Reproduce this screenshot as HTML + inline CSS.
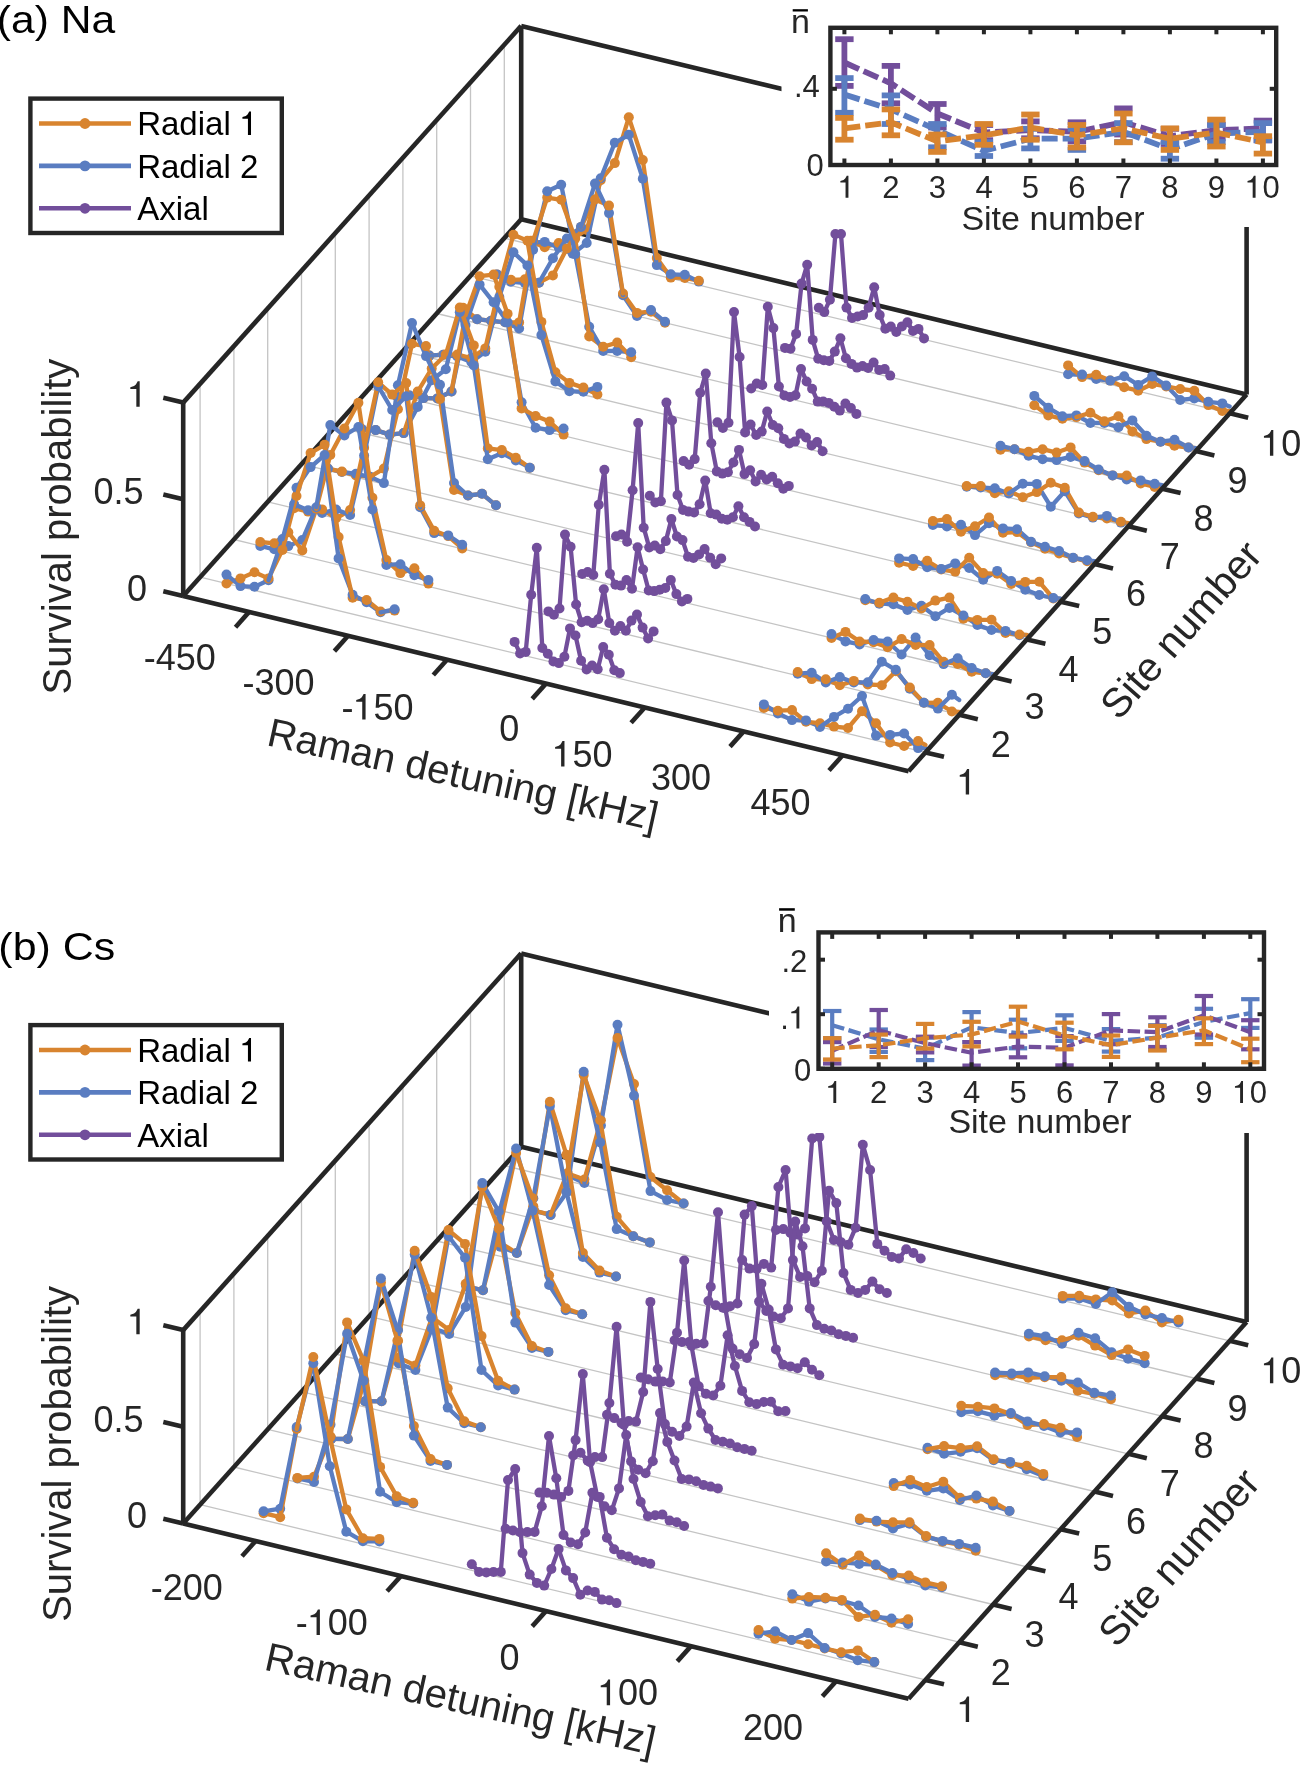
<!DOCTYPE html>
<html><head><meta charset="utf-8"><style>
html,body{margin:0;padding:0;background:#fff;}
svg{display:block;will-change:transform;}
text{font-family:"Liberation Sans",sans-serif;}
</style></head><body>
<svg width="1300" height="1768" viewBox="0 0 1300 1768">
<rect width="1300" height="1768" fill="#fff"/>
<line x1="200.1" y1="577.2" x2="925.5" y2="752.4" stroke="#c4c4c4" stroke-width="1.3" />
<line x1="200.1" y1="577.2" x2="200.1" y2="383.8" stroke="#c4c4c4" stroke-width="1.3" />
<line x1="233.9" y1="539.5" x2="959.3" y2="714.7" stroke="#c4c4c4" stroke-width="1.3" />
<line x1="233.9" y1="539.5" x2="233.9" y2="346.1" stroke="#c4c4c4" stroke-width="1.3" />
<line x1="267.7" y1="501.8" x2="993.1" y2="677" stroke="#c4c4c4" stroke-width="1.3" />
<line x1="267.7" y1="501.8" x2="267.7" y2="308.4" stroke="#c4c4c4" stroke-width="1.3" />
<line x1="301.5" y1="464.2" x2="1026.9" y2="639.4" stroke="#c4c4c4" stroke-width="1.3" />
<line x1="301.5" y1="464.2" x2="301.5" y2="270.8" stroke="#c4c4c4" stroke-width="1.3" />
<line x1="335.3" y1="426.5" x2="1060.7" y2="601.7" stroke="#c4c4c4" stroke-width="1.3" />
<line x1="335.3" y1="426.5" x2="335.3" y2="233.1" stroke="#c4c4c4" stroke-width="1.3" />
<line x1="369.1" y1="388.8" x2="1094.5" y2="564" stroke="#c4c4c4" stroke-width="1.3" />
<line x1="369.1" y1="388.8" x2="369.1" y2="195.4" stroke="#c4c4c4" stroke-width="1.3" />
<line x1="402.9" y1="351.1" x2="1128.3" y2="526.3" stroke="#c4c4c4" stroke-width="1.3" />
<line x1="402.9" y1="351.1" x2="402.9" y2="157.7" stroke="#c4c4c4" stroke-width="1.3" />
<line x1="436.7" y1="313.5" x2="1162.1" y2="488.7" stroke="#c4c4c4" stroke-width="1.3" />
<line x1="436.7" y1="313.5" x2="436.7" y2="120.1" stroke="#c4c4c4" stroke-width="1.3" />
<line x1="470.5" y1="275.8" x2="1195.9" y2="451" stroke="#c4c4c4" stroke-width="1.3" />
<line x1="470.5" y1="275.8" x2="470.5" y2="82.4" stroke="#c4c4c4" stroke-width="1.3" />
<line x1="504.3" y1="238.1" x2="1229.7" y2="413.3" stroke="#c4c4c4" stroke-width="1.3" />
<line x1="504.3" y1="238.1" x2="504.3" y2="44.7" stroke="#c4c4c4" stroke-width="1.3" />
<line x1="183.2" y1="402.6" x2="521.2" y2="25.9" stroke="#262626" stroke-width="4.6" />
<line x1="521.2" y1="25.9" x2="521.2" y2="219.3" stroke="#262626" stroke-width="4.6" />
<line x1="521.2" y1="25.9" x2="1246.6" y2="201.1" stroke="#262626" stroke-width="4.6" />
<line x1="1246.6" y1="201.1" x2="1246.6" y2="394.5" stroke="#262626" stroke-width="4.6" />
<line x1="183.2" y1="596" x2="521.2" y2="219.3" stroke="#262626" stroke-width="4.6" />
<line x1="521.2" y1="219.3" x2="1246.6" y2="394.5" stroke="#262626" stroke-width="4.6" />
<g stroke-width="4.3" stroke-linecap="round"><line x1="530.7" y1="240.8" x2="544.7" y2="247.3" stroke="#D8842F"/><circle cx="530.7" cy="242.6" r="5.0" fill="#5A7DC1"/><line x1="530.7" y1="242.6" x2="544.7" y2="241.9" stroke="#5A7DC1"/><circle cx="530.7" cy="240.8" r="5.0" fill="#D8842F"/><circle cx="544.7" cy="247.3" r="5.0" fill="#D8842F"/><line x1="544.7" y1="247.3" x2="558.7" y2="243" stroke="#D8842F"/><line x1="544.7" y1="241.9" x2="558.7" y2="247.4" stroke="#5A7DC1"/><circle cx="544.7" cy="241.9" r="5.0" fill="#5A7DC1"/><line x1="558.7" y1="247.4" x2="572.7" y2="253.7" stroke="#5A7DC1"/><circle cx="558.7" cy="247.4" r="5.0" fill="#5A7DC1"/><circle cx="558.7" cy="243" r="5.0" fill="#D8842F"/><circle cx="572.7" cy="253.7" r="5.0" fill="#5A7DC1"/><line x1="558.7" y1="243" x2="572.7" y2="238.6" stroke="#D8842F"/><line x1="572.7" y1="253.7" x2="586.7" y2="243" stroke="#5A7DC1"/><circle cx="572.7" cy="238.6" r="5.0" fill="#D8842F"/><line x1="572.7" y1="238.6" x2="586.7" y2="230" stroke="#D8842F"/><circle cx="586.7" cy="243" r="5.0" fill="#5A7DC1"/><circle cx="586.7" cy="230" r="5.0" fill="#D8842F"/><line x1="586.7" y1="243" x2="600.7" y2="178.3" stroke="#5A7DC1"/><line x1="656.8" y1="265.1" x2="670.8" y2="274.3" stroke="#5A7DC1"/><line x1="586.7" y1="230" x2="600.7" y2="180.2" stroke="#D8842F"/><line x1="656.8" y1="258.1" x2="670.8" y2="277.6" stroke="#D8842F"/><line x1="670.8" y1="277.6" x2="684.8" y2="277.9" stroke="#D8842F"/><circle cx="656.8" cy="265.1" r="5.0" fill="#5A7DC1"/><circle cx="670.8" cy="277.6" r="5.0" fill="#D8842F"/><line x1="670.8" y1="274.3" x2="684.8" y2="274.8" stroke="#5A7DC1"/><circle cx="670.8" cy="274.3" r="5.0" fill="#5A7DC1"/><circle cx="656.8" cy="258.1" r="5.0" fill="#D8842F"/><line x1="684.8" y1="277.9" x2="698.8" y2="280.7" stroke="#D8842F"/><line x1="684.8" y1="274.8" x2="698.8" y2="281.6" stroke="#5A7DC1"/><circle cx="684.8" cy="277.9" r="5.0" fill="#D8842F"/><line x1="496.9" y1="274.4" x2="510.9" y2="281.7" stroke="#5A7DC1"/><line x1="496.9" y1="274.4" x2="510.9" y2="279.8" stroke="#D8842F"/><circle cx="684.8" cy="274.8" r="5.0" fill="#5A7DC1"/><circle cx="496.9" cy="274.4" r="5.0" fill="#D8842F"/><circle cx="496.9" cy="274.4" r="5.0" fill="#5A7DC1"/><circle cx="698.8" cy="281.6" r="5.0" fill="#5A7DC1"/><line x1="510.9" y1="281.7" x2="524.9" y2="283.1" stroke="#5A7DC1"/><circle cx="698.8" cy="280.7" r="5.0" fill="#D8842F"/><circle cx="510.9" cy="281.7" r="5.0" fill="#5A7DC1"/><line x1="510.9" y1="279.8" x2="524.9" y2="279.3" stroke="#D8842F"/><circle cx="510.9" cy="279.8" r="5.0" fill="#D8842F"/><line x1="642.8" y1="178.8" x2="656.8" y2="265.1" stroke="#5A7DC1"/><line x1="524.9" y1="283.1" x2="538.9" y2="282.7" stroke="#5A7DC1"/><circle cx="524.9" cy="283.1" r="5.0" fill="#5A7DC1"/><circle cx="600.7" cy="180.2" r="5.0" fill="#D8842F"/><line x1="524.9" y1="279.3" x2="538.9" y2="282.7" stroke="#D8842F"/><circle cx="600.7" cy="178.3" r="5.0" fill="#5A7DC1"/><circle cx="524.9" cy="279.3" r="5.0" fill="#D8842F"/><line x1="600.7" y1="180.2" x2="614.8" y2="163.1" stroke="#D8842F"/><line x1="642.8" y1="160" x2="656.8" y2="258.1" stroke="#D8842F"/><circle cx="538.9" cy="282.7" r="5.0" fill="#D8842F"/><circle cx="538.9" cy="282.7" r="5.0" fill="#5A7DC1"/><line x1="538.9" y1="282.7" x2="552.9" y2="275.4" stroke="#D8842F"/><line x1="600.7" y1="178.3" x2="614.8" y2="142.8" stroke="#5A7DC1"/><line x1="538.9" y1="282.7" x2="552.9" y2="258.2" stroke="#5A7DC1"/><circle cx="614.8" cy="163.1" r="5.0" fill="#D8842F"/><circle cx="552.9" cy="275.4" r="5.0" fill="#D8842F"/><circle cx="642.8" cy="178.8" r="5.0" fill="#5A7DC1"/><line x1="552.9" y1="275.4" x2="566.9" y2="248.4" stroke="#D8842F"/><line x1="628.8" y1="134.8" x2="642.8" y2="178.8" stroke="#5A7DC1"/><circle cx="552.9" cy="258.2" r="5.0" fill="#5A7DC1"/><circle cx="614.8" cy="142.8" r="5.0" fill="#5A7DC1"/><line x1="614.8" y1="163.1" x2="628.8" y2="117.3" stroke="#D8842F"/><line x1="614.8" y1="142.8" x2="628.8" y2="134.8" stroke="#5A7DC1"/><circle cx="642.8" cy="160" r="5.0" fill="#D8842F"/><line x1="552.9" y1="258.2" x2="566.9" y2="238.6" stroke="#5A7DC1"/><line x1="818.8" y1="307.7" x2="824.3" y2="312.1" stroke="#724E9B"/><line x1="623" y1="295.2" x2="637" y2="316" stroke="#5A7DC1"/><line x1="628.8" y1="117.3" x2="642.8" y2="160" stroke="#D8842F"/><line x1="623" y1="293.5" x2="637" y2="312.9" stroke="#D8842F"/><circle cx="637" cy="316" r="5.0" fill="#5A7DC1"/><circle cx="818.8" cy="307.7" r="5.0" fill="#724E9B"/><circle cx="824.3" cy="312.1" r="5.0" fill="#724E9B"/><line x1="637" y1="316" x2="651" y2="310.1" stroke="#5A7DC1"/><circle cx="637" cy="312.9" r="5.0" fill="#D8842F"/><line x1="637" y1="312.9" x2="651" y2="311.7" stroke="#D8842F"/><circle cx="628.8" cy="134.8" r="5.0" fill="#5A7DC1"/><line x1="824.3" y1="312.1" x2="829.9" y2="299.7" stroke="#724E9B"/><circle cx="566.9" cy="248.4" r="5.0" fill="#D8842F"/><circle cx="623" cy="295.2" r="5.0" fill="#5A7DC1"/><circle cx="623" cy="293.5" r="5.0" fill="#D8842F"/><line x1="651" y1="311.7" x2="665" y2="322.8" stroke="#D8842F"/><line x1="651" y1="310.1" x2="665" y2="321.8" stroke="#5A7DC1"/><line x1="463.1" y1="314" x2="477.1" y2="319.2" stroke="#5A7DC1"/><circle cx="566.9" cy="238.6" r="5.0" fill="#5A7DC1"/><line x1="566.9" y1="248.4" x2="581" y2="227.1" stroke="#D8842F"/><circle cx="463.1" cy="314" r="5.0" fill="#5A7DC1"/><line x1="463.1" y1="307.7" x2="477.1" y2="319.2" stroke="#D8842F"/><line x1="846.5" y1="307.6" x2="852" y2="317.9" stroke="#724E9B"/><circle cx="651" cy="311.7" r="5.0" fill="#D8842F"/><line x1="852" y1="317.9" x2="857.6" y2="316.5" stroke="#724E9B"/><circle cx="665" cy="322.8" r="5.0" fill="#D8842F"/><circle cx="651" cy="310.1" r="5.0" fill="#5A7DC1"/><circle cx="829.9" cy="299.7" r="5.0" fill="#724E9B"/><circle cx="665" cy="321.8" r="5.0" fill="#5A7DC1"/><line x1="566.9" y1="238.6" x2="581" y2="226.9" stroke="#5A7DC1"/><circle cx="852" cy="317.9" r="5.0" fill="#724E9B"/><circle cx="628.8" cy="117.3" r="5.0" fill="#D8842F"/><line x1="477.1" y1="319.2" x2="491.1" y2="320.8" stroke="#D8842F"/><line x1="477.1" y1="319.2" x2="491.1" y2="320.8" stroke="#5A7DC1"/><circle cx="463.1" cy="307.7" r="5.0" fill="#D8842F"/><circle cx="477.1" cy="319.2" r="5.0" fill="#D8842F"/><circle cx="477.1" cy="319.2" r="5.0" fill="#5A7DC1"/><line x1="857.6" y1="316.5" x2="863.1" y2="315.1" stroke="#724E9B"/><circle cx="846.5" cy="307.6" r="5.0" fill="#724E9B"/><circle cx="857.6" cy="316.5" r="5.0" fill="#724E9B"/><line x1="863.1" y1="315.1" x2="868.6" y2="307.8" stroke="#724E9B"/><circle cx="863.1" cy="315.1" r="5.0" fill="#724E9B"/><line x1="491.1" y1="320.8" x2="505.1" y2="322.3" stroke="#D8842F"/><line x1="491.1" y1="320.8" x2="505.1" y2="322.3" stroke="#5A7DC1"/><circle cx="491.1" cy="320.8" r="5.0" fill="#D8842F"/><circle cx="491.1" cy="320.8" r="5.0" fill="#5A7DC1"/><line x1="609" y1="213.1" x2="623" y2="295.2" stroke="#5A7DC1"/><line x1="885.3" y1="328.8" x2="890.8" y2="326.6" stroke="#724E9B"/><line x1="879.7" y1="315.1" x2="885.3" y2="328.8" stroke="#724E9B"/><circle cx="581" cy="227.1" r="5.0" fill="#D8842F"/><circle cx="581" cy="226.9" r="5.0" fill="#5A7DC1"/><circle cx="885.3" cy="328.8" r="5.0" fill="#724E9B"/><line x1="890.8" y1="326.6" x2="896.3" y2="331.9" stroke="#724E9B"/><line x1="609" y1="205.6" x2="623" y2="293.5" stroke="#D8842F"/><line x1="505.1" y1="322.3" x2="519.1" y2="328.5" stroke="#5A7DC1"/><line x1="896.3" y1="331.9" x2="901.9" y2="326.4" stroke="#724E9B"/><line x1="505.1" y1="322.3" x2="519.1" y2="322.4" stroke="#D8842F"/><circle cx="505.1" cy="322.3" r="5.0" fill="#D8842F"/><circle cx="505.1" cy="322.3" r="5.0" fill="#5A7DC1"/><circle cx="868.6" cy="307.8" r="5.0" fill="#724E9B"/><circle cx="896.3" cy="331.9" r="5.0" fill="#724E9B"/><circle cx="890.8" cy="326.6" r="5.0" fill="#724E9B"/><line x1="829.9" y1="299.7" x2="835.4" y2="234" stroke="#724E9B"/><circle cx="879.7" cy="315.1" r="5.0" fill="#724E9B"/><circle cx="519.1" cy="328.5" r="5.0" fill="#5A7DC1"/><line x1="868.6" y1="307.8" x2="874.2" y2="287.2" stroke="#724E9B"/><line x1="581" y1="227.1" x2="595" y2="199.5" stroke="#D8842F"/><line x1="874.2" y1="287.2" x2="879.7" y2="315.1" stroke="#724E9B"/><line x1="841" y1="234" x2="846.5" y2="307.6" stroke="#724E9B"/><line x1="901.9" y1="326.4" x2="907.4" y2="322.3" stroke="#724E9B"/><circle cx="901.9" cy="326.4" r="5.0" fill="#724E9B"/><line x1="907.4" y1="322.3" x2="913" y2="331" stroke="#724E9B"/><circle cx="519.1" cy="322.4" r="5.0" fill="#D8842F"/><line x1="913" y1="331" x2="918.5" y2="328.9" stroke="#724E9B"/><line x1="581" y1="226.9" x2="595" y2="183.6" stroke="#5A7DC1"/><line x1="918.5" y1="328.9" x2="924" y2="338.4" stroke="#724E9B"/><circle cx="913" cy="331" r="5.0" fill="#724E9B"/><circle cx="924" cy="338.4" r="5.0" fill="#724E9B"/><circle cx="907.4" cy="322.3" r="5.0" fill="#724E9B"/><circle cx="918.5" cy="328.9" r="5.0" fill="#724E9B"/><circle cx="874.2" cy="287.2" r="5.0" fill="#724E9B"/><line x1="595" y1="199.5" x2="609" y2="205.6" stroke="#D8842F"/><circle cx="609" cy="213.1" r="5.0" fill="#5A7DC1"/><circle cx="595" cy="199.5" r="5.0" fill="#D8842F"/><line x1="595" y1="183.6" x2="609" y2="213.1" stroke="#5A7DC1"/><circle cx="609" cy="205.6" r="5.0" fill="#D8842F"/><line x1="835.4" y1="234" x2="841" y2="234" stroke="#724E9B"/><circle cx="835.4" cy="234" r="5.0" fill="#724E9B"/><line x1="519.1" y1="328.5" x2="533.1" y2="249.7" stroke="#5A7DC1"/><circle cx="595" cy="183.6" r="5.0" fill="#5A7DC1"/><circle cx="841" cy="234" r="5.0" fill="#724E9B"/><line x1="785" y1="347.9" x2="790.5" y2="348.7" stroke="#724E9B"/><line x1="519.1" y1="322.4" x2="533.1" y2="240.8" stroke="#D8842F"/><circle cx="785" cy="347.9" r="5.0" fill="#724E9B"/><line x1="589.2" y1="336.4" x2="603.2" y2="346.7" stroke="#D8842F"/><line x1="589.2" y1="326.7" x2="603.2" y2="351" stroke="#5A7DC1"/><line x1="603.2" y1="351" x2="617.2" y2="350.9" stroke="#5A7DC1"/><circle cx="603.2" cy="351" r="5.0" fill="#5A7DC1"/><circle cx="790.5" cy="348.7" r="5.0" fill="#724E9B"/><circle cx="589.2" cy="336.4" r="5.0" fill="#D8842F"/><line x1="790.5" y1="348.7" x2="796.1" y2="333.9" stroke="#724E9B"/><circle cx="603.2" cy="346.7" r="5.0" fill="#D8842F"/><line x1="603.2" y1="346.7" x2="617.2" y2="342.6" stroke="#D8842F"/><circle cx="429.3" cy="355.6" r="5.0" fill="#D8842F"/><circle cx="429.3" cy="355.6" r="5.0" fill="#5A7DC1"/><line x1="429.3" y1="355.6" x2="443.3" y2="354.7" stroke="#D8842F"/><line x1="429.3" y1="355.6" x2="443.3" y2="354.7" stroke="#5A7DC1"/><line x1="818.2" y1="358.8" x2="823.8" y2="360.2" stroke="#724E9B"/><line x1="617.2" y1="350.9" x2="631.2" y2="352.3" stroke="#5A7DC1"/><circle cx="589.2" cy="326.7" r="5.0" fill="#5A7DC1"/><circle cx="617.2" cy="350.9" r="5.0" fill="#5A7DC1"/><line x1="617.2" y1="342.6" x2="631.2" y2="357.2" stroke="#D8842F"/><line x1="823.8" y1="360.2" x2="829.3" y2="360.9" stroke="#724E9B"/><circle cx="818.2" cy="358.8" r="5.0" fill="#724E9B"/><line x1="812.7" y1="339.9" x2="818.2" y2="358.8" stroke="#724E9B"/><circle cx="823.8" cy="360.2" r="5.0" fill="#724E9B"/><circle cx="631.2" cy="357.2" r="5.0" fill="#D8842F"/><circle cx="796.1" cy="333.9" r="5.0" fill="#724E9B"/><circle cx="617.2" cy="342.6" r="5.0" fill="#D8842F"/><line x1="443.3" y1="354.7" x2="457.3" y2="356.5" stroke="#5A7DC1"/><circle cx="829.3" cy="360.9" r="5.0" fill="#724E9B"/><line x1="443.3" y1="354.7" x2="457.3" y2="354.6" stroke="#D8842F"/><circle cx="443.3" cy="354.7" r="5.0" fill="#D8842F"/><circle cx="443.3" cy="354.7" r="5.0" fill="#5A7DC1"/><line x1="829.3" y1="360.9" x2="834.8" y2="351.6" stroke="#724E9B"/><circle cx="631.2" cy="352.3" r="5.0" fill="#5A7DC1"/><circle cx="812.7" cy="339.9" r="5.0" fill="#724E9B"/><line x1="457.3" y1="356.5" x2="471.3" y2="361.9" stroke="#5A7DC1"/><line x1="845.9" y1="358.2" x2="851.5" y2="363.9" stroke="#724E9B"/><line x1="851.5" y1="363.9" x2="857" y2="367.6" stroke="#724E9B"/><line x1="457.3" y1="354.6" x2="471.3" y2="358" stroke="#D8842F"/><circle cx="457.3" cy="356.5" r="5.0" fill="#5A7DC1"/><line x1="575.2" y1="254.1" x2="589.2" y2="326.7" stroke="#5A7DC1"/><circle cx="457.3" cy="354.6" r="5.0" fill="#D8842F"/><circle cx="834.8" cy="351.6" r="5.0" fill="#724E9B"/><line x1="857" y1="367.6" x2="862.5" y2="366" stroke="#724E9B"/><line x1="575.2" y1="238.6" x2="589.2" y2="336.4" stroke="#D8842F"/><circle cx="533.1" cy="249.7" r="5.0" fill="#5A7DC1"/><line x1="834.8" y1="351.6" x2="840.4" y2="338.3" stroke="#724E9B"/><circle cx="851.5" cy="363.9" r="5.0" fill="#724E9B"/><circle cx="845.9" cy="358.2" r="5.0" fill="#724E9B"/><circle cx="857" cy="367.6" r="5.0" fill="#724E9B"/><line x1="796.1" y1="333.9" x2="801.6" y2="283.6" stroke="#724E9B"/><circle cx="471.3" cy="361.9" r="5.0" fill="#5A7DC1"/><line x1="840.4" y1="338.3" x2="845.9" y2="358.2" stroke="#724E9B"/><line x1="862.5" y1="366" x2="868.1" y2="368" stroke="#724E9B"/><circle cx="471.3" cy="358" r="5.0" fill="#D8842F"/><line x1="471.3" y1="361.9" x2="485.3" y2="351.7" stroke="#5A7DC1"/><circle cx="533.1" cy="240.8" r="5.0" fill="#D8842F"/><circle cx="862.5" cy="366" r="5.0" fill="#724E9B"/><line x1="868.1" y1="368" x2="873.6" y2="362.5" stroke="#724E9B"/><line x1="471.3" y1="358" x2="485.3" y2="348.4" stroke="#D8842F"/><circle cx="868.1" cy="368" r="5.0" fill="#724E9B"/><line x1="1068.1" y1="374.3" x2="1082.1" y2="374.6" stroke="#5A7DC1"/><line x1="873.6" y1="362.5" x2="879.2" y2="369.9" stroke="#724E9B"/><circle cx="1068.1" cy="374.3" r="5.0" fill="#5A7DC1"/><line x1="879.2" y1="369.9" x2="884.7" y2="369.1" stroke="#724E9B"/><circle cx="840.4" cy="338.3" r="5.0" fill="#724E9B"/><line x1="1068.1" y1="365.4" x2="1082.1" y2="377.1" stroke="#D8842F"/><line x1="884.7" y1="369.1" x2="890.2" y2="375.6" stroke="#724E9B"/><line x1="807.2" y1="264.7" x2="812.7" y2="339.9" stroke="#724E9B"/><circle cx="879.2" cy="369.9" r="5.0" fill="#724E9B"/><circle cx="873.6" cy="362.5" r="5.0" fill="#724E9B"/><circle cx="1068.1" cy="365.4" r="5.0" fill="#D8842F"/><circle cx="890.2" cy="375.6" r="5.0" fill="#724E9B"/><circle cx="1082.1" cy="377.1" r="5.0" fill="#D8842F"/><line x1="1082.1" y1="374.6" x2="1096.2" y2="379" stroke="#5A7DC1"/><circle cx="485.3" cy="351.7" r="5.0" fill="#5A7DC1"/><line x1="1082.1" y1="377.1" x2="1096.2" y2="374.7" stroke="#D8842F"/><circle cx="884.7" cy="369.1" r="5.0" fill="#724E9B"/><circle cx="1082.1" cy="374.6" r="5.0" fill="#5A7DC1"/><circle cx="485.3" cy="348.4" r="5.0" fill="#D8842F"/><line x1="533.1" y1="249.7" x2="547.2" y2="191.2" stroke="#5A7DC1"/><line x1="533.1" y1="240.8" x2="547.2" y2="197.6" stroke="#D8842F"/><circle cx="575.2" cy="254.1" r="5.0" fill="#5A7DC1"/><line x1="1096.2" y1="379" x2="1110.2" y2="380.6" stroke="#5A7DC1"/><circle cx="1096.2" cy="379" r="5.0" fill="#5A7DC1"/><line x1="1096.2" y1="374.7" x2="1110.2" y2="380.6" stroke="#D8842F"/><circle cx="801.6" cy="283.6" r="5.0" fill="#724E9B"/><circle cx="1096.2" cy="374.7" r="5.0" fill="#D8842F"/><line x1="801.6" y1="283.6" x2="807.2" y2="264.7" stroke="#724E9B"/><line x1="1110.2" y1="380.6" x2="1124.2" y2="387.3" stroke="#D8842F"/><circle cx="1110.2" cy="380.6" r="5.0" fill="#D8842F"/><circle cx="1110.2" cy="380.6" r="5.0" fill="#5A7DC1"/><line x1="1110.2" y1="380.6" x2="1124.2" y2="376.2" stroke="#5A7DC1"/><circle cx="575.2" cy="238.6" r="5.0" fill="#D8842F"/><line x1="1124.2" y1="387.3" x2="1138.2" y2="390.7" stroke="#D8842F"/><circle cx="1124.2" cy="387.3" r="5.0" fill="#D8842F"/><line x1="485.3" y1="351.7" x2="499.3" y2="297.1" stroke="#5A7DC1"/><line x1="555.4" y1="381.4" x2="569.4" y2="391.2" stroke="#5A7DC1"/><line x1="561.2" y1="184.8" x2="575.2" y2="254.1" stroke="#5A7DC1"/><line x1="751.2" y1="388.5" x2="756.7" y2="383.6" stroke="#724E9B"/><line x1="561.2" y1="199.8" x2="575.2" y2="238.6" stroke="#D8842F"/><circle cx="751.2" cy="388.5" r="5.0" fill="#724E9B"/><circle cx="555.4" cy="381.4" r="5.0" fill="#5A7DC1"/><line x1="1124.2" y1="376.2" x2="1138.2" y2="384.9" stroke="#5A7DC1"/><line x1="485.3" y1="348.4" x2="499.3" y2="286.8" stroke="#D8842F"/><circle cx="807.2" cy="264.7" r="5.0" fill="#724E9B"/><line x1="569.4" y1="391.2" x2="583.4" y2="391.8" stroke="#5A7DC1"/><circle cx="569.4" cy="391.2" r="5.0" fill="#5A7DC1"/><circle cx="1138.2" cy="390.7" r="5.0" fill="#D8842F"/><line x1="756.7" y1="383.6" x2="762.3" y2="385" stroke="#724E9B"/><line x1="555.4" y1="372.3" x2="569.4" y2="382.9" stroke="#D8842F"/><line x1="547.2" y1="197.6" x2="561.2" y2="199.8" stroke="#D8842F"/><circle cx="1124.2" cy="376.2" r="5.0" fill="#5A7DC1"/><line x1="1138.2" y1="390.7" x2="1152.2" y2="384" stroke="#D8842F"/><circle cx="547.2" cy="197.6" r="5.0" fill="#D8842F"/><circle cx="756.7" cy="383.6" r="5.0" fill="#724E9B"/><line x1="569.4" y1="382.9" x2="583.4" y2="387.6" stroke="#D8842F"/><circle cx="1138.2" cy="384.9" r="5.0" fill="#5A7DC1"/><circle cx="555.4" cy="372.3" r="5.0" fill="#D8842F"/><line x1="541.4" y1="335.1" x2="555.4" y2="381.4" stroke="#5A7DC1"/><circle cx="569.4" cy="382.9" r="5.0" fill="#D8842F"/><circle cx="762.3" cy="385" r="5.0" fill="#724E9B"/><circle cx="547.2" cy="191.2" r="5.0" fill="#5A7DC1"/><line x1="395.5" y1="395.2" x2="409.5" y2="395.5" stroke="#D8842F"/><line x1="395.5" y1="395.2" x2="409.5" y2="395.5" stroke="#5A7DC1"/><line x1="1138.2" y1="384.9" x2="1152.2" y2="376.4" stroke="#5A7DC1"/><circle cx="395.5" cy="395.2" r="5.0" fill="#D8842F"/><circle cx="395.5" cy="395.2" r="5.0" fill="#5A7DC1"/><circle cx="583.4" cy="391.8" r="5.0" fill="#5A7DC1"/><line x1="583.4" y1="387.6" x2="597.4" y2="394.5" stroke="#D8842F"/><line x1="547.2" y1="191.2" x2="561.2" y2="184.8" stroke="#5A7DC1"/><line x1="784.4" y1="395.5" x2="790" y2="396.9" stroke="#724E9B"/><circle cx="561.2" cy="199.8" r="5.0" fill="#D8842F"/><line x1="778.9" y1="386.5" x2="784.4" y2="395.5" stroke="#724E9B"/><line x1="583.4" y1="391.8" x2="597.4" y2="386.9" stroke="#5A7DC1"/><circle cx="583.4" cy="387.6" r="5.0" fill="#D8842F"/><line x1="1152.2" y1="384" x2="1166.2" y2="386.4" stroke="#D8842F"/><circle cx="784.4" cy="395.5" r="5.0" fill="#724E9B"/><line x1="541.4" y1="321.9" x2="555.4" y2="372.3" stroke="#D8842F"/><line x1="790" y1="396.9" x2="795.5" y2="395.3" stroke="#724E9B"/><circle cx="1152.2" cy="384" r="5.0" fill="#D8842F"/><line x1="409.5" y1="395.5" x2="423.5" y2="398.1" stroke="#D8842F"/><line x1="409.5" y1="395.5" x2="423.5" y2="398.1" stroke="#5A7DC1"/><circle cx="597.4" cy="394.5" r="5.0" fill="#D8842F"/><circle cx="790" cy="396.9" r="5.0" fill="#724E9B"/><line x1="1152.2" y1="376.4" x2="1166.2" y2="385.6" stroke="#5A7DC1"/><circle cx="778.9" cy="386.5" r="5.0" fill="#724E9B"/><circle cx="409.5" cy="395.5" r="5.0" fill="#D8842F"/><circle cx="409.5" cy="395.5" r="5.0" fill="#5A7DC1"/><line x1="1166.2" y1="385.6" x2="1180.2" y2="400" stroke="#5A7DC1"/><circle cx="1152.2" cy="376.4" r="5.0" fill="#5A7DC1"/><line x1="1166.2" y1="386.4" x2="1180.2" y2="389" stroke="#D8842F"/><circle cx="1180.2" cy="400" r="5.0" fill="#5A7DC1"/><circle cx="795.5" cy="395.3" r="5.0" fill="#724E9B"/><circle cx="561.2" cy="184.8" r="5.0" fill="#5A7DC1"/><line x1="1180.2" y1="400" x2="1194.3" y2="398.4" stroke="#5A7DC1"/><circle cx="597.4" cy="386.9" r="5.0" fill="#5A7DC1"/><circle cx="1166.2" cy="386.4" r="5.0" fill="#D8842F"/><circle cx="1166.2" cy="385.6" r="5.0" fill="#5A7DC1"/><circle cx="541.4" cy="335.1" r="5.0" fill="#5A7DC1"/><circle cx="499.3" cy="297.1" r="5.0" fill="#5A7DC1"/><line x1="423.5" y1="398.1" x2="437.5" y2="398.4" stroke="#D8842F"/><line x1="423.5" y1="398.1" x2="437.5" y2="398.4" stroke="#5A7DC1"/><circle cx="423.5" cy="398.1" r="5.0" fill="#D8842F"/><circle cx="423.5" cy="398.1" r="5.0" fill="#5A7DC1"/><line x1="795.5" y1="395.3" x2="801" y2="369" stroke="#724E9B"/><line x1="817.7" y1="401.6" x2="823.2" y2="401.6" stroke="#724E9B"/><line x1="1180.2" y1="389" x2="1194.3" y2="390.7" stroke="#D8842F"/><line x1="812.1" y1="388.7" x2="817.7" y2="401.6" stroke="#724E9B"/><circle cx="1180.2" cy="389" r="5.0" fill="#D8842F"/><line x1="1194.3" y1="398.4" x2="1208.3" y2="401.8" stroke="#5A7DC1"/><circle cx="499.3" cy="286.8" r="5.0" fill="#D8842F"/><circle cx="817.7" cy="401.6" r="5.0" fill="#724E9B"/><line x1="823.2" y1="401.6" x2="828.7" y2="402.9" stroke="#724E9B"/><line x1="773.4" y1="328.1" x2="778.9" y2="386.5" stroke="#724E9B"/><circle cx="1194.3" cy="398.4" r="5.0" fill="#5A7DC1"/><line x1="1194.3" y1="390.7" x2="1208.3" y2="405.1" stroke="#D8842F"/><line x1="762.3" y1="385" x2="767.8" y2="306.8" stroke="#724E9B"/><circle cx="541.4" cy="321.9" r="5.0" fill="#D8842F"/><line x1="806.6" y1="381.5" x2="812.1" y2="388.7" stroke="#724E9B"/><line x1="828.7" y1="402.9" x2="834.3" y2="406.8" stroke="#724E9B"/><circle cx="437.5" cy="398.4" r="5.0" fill="#D8842F"/><circle cx="437.5" cy="398.4" r="5.0" fill="#5A7DC1"/><line x1="1208.3" y1="405.1" x2="1222.3" y2="411" stroke="#D8842F"/><line x1="834.3" y1="406.8" x2="839.8" y2="410.6" stroke="#724E9B"/><circle cx="823.2" cy="401.6" r="5.0" fill="#724E9B"/><line x1="437.5" y1="398.4" x2="451.5" y2="391.5" stroke="#D8842F"/><line x1="437.5" y1="398.4" x2="451.5" y2="391.5" stroke="#5A7DC1"/><circle cx="1208.3" cy="405.1" r="5.0" fill="#D8842F"/><line x1="801" y1="369" x2="806.6" y2="381.5" stroke="#724E9B"/><circle cx="812.1" cy="388.7" r="5.0" fill="#724E9B"/><circle cx="1194.3" cy="390.7" r="5.0" fill="#D8842F"/><circle cx="828.7" cy="402.9" r="5.0" fill="#724E9B"/><line x1="1208.3" y1="401.8" x2="1222.3" y2="403.4" stroke="#5A7DC1"/><circle cx="834.3" cy="406.8" r="5.0" fill="#724E9B"/><circle cx="1208.3" cy="401.8" r="5.0" fill="#5A7DC1"/><line x1="1222.3" y1="411" x2="1229.7" y2="411" stroke="#D8842F"/><circle cx="806.6" cy="381.5" r="5.0" fill="#724E9B"/><line x1="839.8" y1="410.6" x2="845.4" y2="403.5" stroke="#724E9B"/><circle cx="839.8" cy="410.6" r="5.0" fill="#724E9B"/><line x1="527.4" y1="265.4" x2="541.4" y2="335.1" stroke="#5A7DC1"/><line x1="499.3" y1="297.1" x2="513.4" y2="252.3" stroke="#5A7DC1"/><circle cx="1222.3" cy="411" r="5.0" fill="#D8842F"/><line x1="1034.3" y1="405.2" x2="1048.3" y2="415.4" stroke="#D8842F"/><line x1="1222.3" y1="403.4" x2="1229.7" y2="406.4" stroke="#5A7DC1"/><line x1="850.9" y1="408.1" x2="856.4" y2="413.9" stroke="#724E9B"/><line x1="845.4" y1="403.5" x2="850.9" y2="408.1" stroke="#724E9B"/><circle cx="801" cy="369" r="5.0" fill="#724E9B"/><circle cx="1034.3" cy="405.2" r="5.0" fill="#D8842F"/><circle cx="1222.3" cy="403.4" r="5.0" fill="#5A7DC1"/><line x1="1048.3" y1="415.4" x2="1062.4" y2="418.8" stroke="#D8842F"/><circle cx="451.5" cy="391.5" r="5.0" fill="#D8842F"/><circle cx="451.5" cy="391.5" r="5.0" fill="#5A7DC1"/><circle cx="856.4" cy="413.9" r="5.0" fill="#724E9B"/><circle cx="1048.3" cy="415.4" r="5.0" fill="#D8842F"/><circle cx="845.4" cy="403.5" r="5.0" fill="#724E9B"/><circle cx="850.9" cy="408.1" r="5.0" fill="#724E9B"/><line x1="1034.3" y1="395.9" x2="1048.3" y2="407.8" stroke="#5A7DC1"/><line x1="499.3" y1="286.8" x2="513.4" y2="234.7" stroke="#D8842F"/><line x1="1048.3" y1="407.8" x2="1062.4" y2="416.2" stroke="#5A7DC1"/><line x1="527.4" y1="240.8" x2="541.4" y2="321.9" stroke="#D8842F"/><circle cx="1034.3" cy="395.9" r="5.0" fill="#5A7DC1"/><circle cx="1048.3" cy="407.8" r="5.0" fill="#5A7DC1"/><circle cx="1062.4" cy="418.8" r="5.0" fill="#D8842F"/><line x1="1062.4" y1="418.8" x2="1076.4" y2="417.1" stroke="#D8842F"/><circle cx="773.4" cy="328.1" r="5.0" fill="#724E9B"/><circle cx="1062.4" cy="416.2" r="5.0" fill="#5A7DC1"/><line x1="1062.4" y1="416.2" x2="1076.4" y2="415.4" stroke="#5A7DC1"/><line x1="767.8" y1="306.8" x2="773.4" y2="328.1" stroke="#724E9B"/><line x1="513.4" y1="252.3" x2="527.4" y2="265.4" stroke="#5A7DC1"/><line x1="1076.4" y1="415.4" x2="1090.4" y2="423" stroke="#5A7DC1"/><circle cx="527.4" cy="265.4" r="5.0" fill="#5A7DC1"/><circle cx="1076.4" cy="417.1" r="5.0" fill="#D8842F"/><circle cx="513.4" cy="252.3" r="5.0" fill="#5A7DC1"/><circle cx="1076.4" cy="415.4" r="5.0" fill="#5A7DC1"/><line x1="1076.4" y1="417.1" x2="1090.4" y2="412.8" stroke="#D8842F"/><circle cx="767.8" cy="306.8" r="5.0" fill="#724E9B"/><line x1="717.4" y1="422.3" x2="722.9" y2="427.9" stroke="#724E9B"/><line x1="1090.4" y1="423" x2="1104.4" y2="422.9" stroke="#5A7DC1"/><circle cx="1090.4" cy="423" r="5.0" fill="#5A7DC1"/><line x1="451.5" y1="391.5" x2="465.5" y2="325.1" stroke="#5A7DC1"/><line x1="722.9" y1="427.9" x2="728.5" y2="422.8" stroke="#724E9B"/><line x1="1090.4" y1="412.8" x2="1104.4" y2="421.2" stroke="#D8842F"/><circle cx="722.9" cy="427.9" r="5.0" fill="#724E9B"/><circle cx="717.4" cy="422.3" r="5.0" fill="#724E9B"/><line x1="451.5" y1="391.5" x2="465.5" y2="315.4" stroke="#D8842F"/><line x1="535.6" y1="427.7" x2="549.6" y2="430.1" stroke="#5A7DC1"/><line x1="513.4" y1="234.7" x2="527.4" y2="240.8" stroke="#D8842F"/><line x1="521.6" y1="402.2" x2="535.6" y2="427.7" stroke="#5A7DC1"/><circle cx="535.6" cy="427.7" r="5.0" fill="#5A7DC1"/><line x1="1104.4" y1="422.9" x2="1118.4" y2="427.3" stroke="#5A7DC1"/><circle cx="1090.4" cy="412.8" r="5.0" fill="#D8842F"/><line x1="521.6" y1="408.4" x2="535.6" y2="416.1" stroke="#D8842F"/><circle cx="513.4" cy="234.7" r="5.0" fill="#D8842F"/><circle cx="1104.4" cy="422.9" r="5.0" fill="#5A7DC1"/><circle cx="1104.4" cy="421.2" r="5.0" fill="#D8842F"/><circle cx="521.6" cy="408.4" r="5.0" fill="#D8842F"/><circle cx="728.5" cy="422.8" r="5.0" fill="#724E9B"/><line x1="1104.4" y1="421.2" x2="1118.4" y2="416.2" stroke="#D8842F"/><line x1="535.6" y1="416.1" x2="549.6" y2="421.6" stroke="#D8842F"/><circle cx="527.4" cy="240.8" r="5.0" fill="#D8842F"/><circle cx="549.6" cy="430.1" r="5.0" fill="#5A7DC1"/><line x1="549.6" y1="430.1" x2="563.6" y2="428.5" stroke="#5A7DC1"/><circle cx="535.6" cy="416.1" r="5.0" fill="#D8842F"/><line x1="549.6" y1="421.6" x2="563.6" y2="434.6" stroke="#D8842F"/><line x1="361.7" y1="429" x2="375.7" y2="430.1" stroke="#D8842F"/><line x1="361.7" y1="429" x2="375.7" y2="430.1" stroke="#5A7DC1"/><circle cx="1118.4" cy="427.3" r="5.0" fill="#5A7DC1"/><line x1="745.1" y1="432.4" x2="750.6" y2="424.5" stroke="#724E9B"/><circle cx="521.6" cy="402.2" r="5.0" fill="#5A7DC1"/><circle cx="361.7" cy="429" r="5.0" fill="#D8842F"/><circle cx="361.7" cy="429" r="5.0" fill="#5A7DC1"/><circle cx="745.1" cy="432.4" r="5.0" fill="#724E9B"/><line x1="1118.4" y1="416.2" x2="1132.4" y2="431.4" stroke="#D8842F"/><line x1="1118.4" y1="427.3" x2="1132.4" y2="420.4" stroke="#5A7DC1"/><line x1="750.6" y1="424.5" x2="756.2" y2="434.9" stroke="#724E9B"/><line x1="1132.4" y1="431.4" x2="1146.4" y2="439.1" stroke="#D8842F"/><line x1="756.2" y1="434.9" x2="761.7" y2="431.6" stroke="#724E9B"/><circle cx="563.6" cy="434.6" r="5.0" fill="#D8842F"/><circle cx="549.6" cy="421.6" r="5.0" fill="#D8842F"/><circle cx="756.2" cy="434.9" r="5.0" fill="#724E9B"/><circle cx="1132.4" cy="431.4" r="5.0" fill="#D8842F"/><line x1="375.7" y1="430.1" x2="389.7" y2="434.6" stroke="#D8842F"/><line x1="375.7" y1="430.1" x2="389.7" y2="434.6" stroke="#5A7DC1"/><circle cx="1118.4" cy="416.2" r="5.0" fill="#D8842F"/><line x1="1132.4" y1="420.4" x2="1146.4" y2="435.8" stroke="#5A7DC1"/><line x1="1146.4" y1="439.1" x2="1160.5" y2="441.7" stroke="#D8842F"/><circle cx="563.6" cy="428.5" r="5.0" fill="#5A7DC1"/><circle cx="375.7" cy="430.1" r="5.0" fill="#D8842F"/><circle cx="375.7" cy="430.1" r="5.0" fill="#5A7DC1"/><circle cx="750.6" cy="424.5" r="5.0" fill="#724E9B"/><circle cx="1146.4" cy="439.1" r="5.0" fill="#D8842F"/><line x1="1146.4" y1="435.8" x2="1160.5" y2="441.7" stroke="#5A7DC1"/><circle cx="761.7" cy="431.6" r="5.0" fill="#724E9B"/><circle cx="1146.4" cy="435.8" r="5.0" fill="#5A7DC1"/><circle cx="1132.4" cy="420.4" r="5.0" fill="#5A7DC1"/><circle cx="389.7" cy="434.6" r="5.0" fill="#D8842F"/><circle cx="389.7" cy="434.6" r="5.0" fill="#5A7DC1"/><line x1="389.7" y1="434.6" x2="403.7" y2="433.1" stroke="#D8842F"/><line x1="389.7" y1="434.6" x2="403.7" y2="433.1" stroke="#5A7DC1"/><line x1="1160.5" y1="441.7" x2="1174.5" y2="445.8" stroke="#D8842F"/><line x1="761.7" y1="431.6" x2="767.2" y2="411.5" stroke="#724E9B"/><line x1="783.9" y1="438.9" x2="789.4" y2="443.5" stroke="#724E9B"/><circle cx="1160.5" cy="441.7" r="5.0" fill="#D8842F"/><circle cx="1160.5" cy="441.7" r="5.0" fill="#5A7DC1"/><line x1="1160.5" y1="441.7" x2="1174.5" y2="439.8" stroke="#5A7DC1"/><line x1="778.3" y1="428.3" x2="783.9" y2="438.9" stroke="#724E9B"/><line x1="789.4" y1="443.5" x2="794.9" y2="441.6" stroke="#724E9B"/><line x1="772.8" y1="425" x2="778.3" y2="428.3" stroke="#724E9B"/><circle cx="465.5" cy="325.1" r="5.0" fill="#5A7DC1"/><line x1="507.6" y1="322.3" x2="521.6" y2="402.2" stroke="#5A7DC1"/><line x1="507.6" y1="313.8" x2="521.6" y2="408.4" stroke="#D8842F"/><circle cx="783.9" cy="438.9" r="5.0" fill="#724E9B"/><line x1="739.6" y1="357" x2="745.1" y2="432.4" stroke="#724E9B"/><circle cx="789.4" cy="443.5" r="5.0" fill="#724E9B"/><line x1="767.2" y1="411.5" x2="772.8" y2="425" stroke="#724E9B"/><line x1="1174.5" y1="445.8" x2="1188.5" y2="447.5" stroke="#D8842F"/><circle cx="1174.5" cy="445.8" r="5.0" fill="#D8842F"/><circle cx="772.8" cy="425" r="5.0" fill="#724E9B"/><line x1="1174.5" y1="439.8" x2="1188.5" y2="447.5" stroke="#5A7DC1"/><circle cx="403.7" cy="433.1" r="5.0" fill="#D8842F"/><circle cx="403.7" cy="433.1" r="5.0" fill="#5A7DC1"/><circle cx="778.3" cy="428.3" r="5.0" fill="#724E9B"/><line x1="794.9" y1="441.6" x2="800.5" y2="433.6" stroke="#724E9B"/><circle cx="794.9" cy="441.6" r="5.0" fill="#724E9B"/><circle cx="465.5" cy="315.4" r="5.0" fill="#D8842F"/><circle cx="1174.5" cy="439.8" r="5.0" fill="#5A7DC1"/><line x1="1188.5" y1="447.5" x2="1195.9" y2="448.1" stroke="#D8842F"/><line x1="1188.5" y1="447.5" x2="1195.9" y2="448.1" stroke="#5A7DC1"/><circle cx="767.2" cy="411.5" r="5.0" fill="#724E9B"/><line x1="806" y1="437.5" x2="811.6" y2="445.4" stroke="#724E9B"/><line x1="1000.5" y1="449.7" x2="1014.5" y2="449.2" stroke="#D8842F"/><circle cx="1000.5" cy="449.7" r="5.0" fill="#D8842F"/><circle cx="1188.5" cy="447.5" r="5.0" fill="#D8842F"/><circle cx="1188.5" cy="447.5" r="5.0" fill="#5A7DC1"/><line x1="800.5" y1="433.6" x2="806" y2="437.5" stroke="#724E9B"/><line x1="1000.5" y1="445.8" x2="1014.5" y2="449.2" stroke="#5A7DC1"/><line x1="811.6" y1="445.4" x2="817.1" y2="442.1" stroke="#724E9B"/><circle cx="1000.5" cy="445.8" r="5.0" fill="#5A7DC1"/><line x1="728.5" y1="422.8" x2="734" y2="312" stroke="#724E9B"/><line x1="403.7" y1="433.1" x2="417.7" y2="406.9" stroke="#5A7DC1"/><line x1="817.1" y1="442.1" x2="822.6" y2="451.2" stroke="#724E9B"/><circle cx="811.6" cy="445.4" r="5.0" fill="#724E9B"/><line x1="465.5" y1="325.1" x2="479.6" y2="284.6" stroke="#5A7DC1"/><circle cx="800.5" cy="433.6" r="5.0" fill="#724E9B"/><circle cx="806" cy="437.5" r="5.0" fill="#724E9B"/><circle cx="822.6" cy="451.2" r="5.0" fill="#724E9B"/><line x1="1014.5" y1="449.2" x2="1028.6" y2="455.8" stroke="#5A7DC1"/><line x1="1014.5" y1="449.2" x2="1028.6" y2="451.8" stroke="#D8842F"/><line x1="403.7" y1="433.1" x2="417.7" y2="391.5" stroke="#D8842F"/><circle cx="1014.5" cy="449.2" r="5.0" fill="#D8842F"/><circle cx="1014.5" cy="449.2" r="5.0" fill="#5A7DC1"/><circle cx="817.1" cy="442.1" r="5.0" fill="#724E9B"/><line x1="465.5" y1="315.4" x2="479.6" y2="276.2" stroke="#D8842F"/><line x1="1028.6" y1="455.8" x2="1042.6" y2="459.2" stroke="#5A7DC1"/><circle cx="1028.6" cy="455.8" r="5.0" fill="#5A7DC1"/><line x1="493.6" y1="302.3" x2="507.6" y2="322.3" stroke="#5A7DC1"/><circle cx="1028.6" cy="451.8" r="5.0" fill="#D8842F"/><line x1="1028.6" y1="451.8" x2="1042.6" y2="449.2" stroke="#D8842F"/><circle cx="507.6" cy="322.3" r="5.0" fill="#5A7DC1"/><line x1="1042.6" y1="459.2" x2="1056.6" y2="460.1" stroke="#5A7DC1"/><circle cx="1042.6" cy="459.2" r="5.0" fill="#5A7DC1"/><circle cx="739.6" cy="357" r="5.0" fill="#724E9B"/><line x1="479.6" y1="284.6" x2="493.6" y2="302.3" stroke="#5A7DC1"/><circle cx="417.7" cy="406.9" r="5.0" fill="#5A7DC1"/><circle cx="493.6" cy="302.3" r="5.0" fill="#5A7DC1"/><circle cx="507.6" cy="313.8" r="5.0" fill="#D8842F"/><line x1="1042.6" y1="449.2" x2="1056.6" y2="452.6" stroke="#D8842F"/><circle cx="479.6" cy="284.6" r="5.0" fill="#5A7DC1"/><circle cx="1042.6" cy="449.2" r="5.0" fill="#D8842F"/><line x1="683.6" y1="461.1" x2="689.1" y2="464.8" stroke="#724E9B"/><circle cx="1056.6" cy="460.1" r="5.0" fill="#5A7DC1"/><line x1="493.6" y1="274.6" x2="507.6" y2="313.8" stroke="#D8842F"/><circle cx="487.8" cy="459.3" r="5.0" fill="#5A7DC1"/><line x1="1056.6" y1="460.1" x2="1070.6" y2="456.9" stroke="#5A7DC1"/><line x1="734" y1="312" x2="739.6" y2="357" stroke="#724E9B"/><line x1="417.7" y1="406.9" x2="431.7" y2="380.2" stroke="#5A7DC1"/><line x1="487.8" y1="459.3" x2="501.8" y2="453.2" stroke="#5A7DC1"/><circle cx="683.6" cy="461.1" r="5.0" fill="#724E9B"/><line x1="689.1" y1="464.8" x2="694.7" y2="459.1" stroke="#724E9B"/><circle cx="689.1" cy="464.8" r="5.0" fill="#724E9B"/><circle cx="417.7" cy="391.5" r="5.0" fill="#D8842F"/><circle cx="479.6" cy="276.2" r="5.0" fill="#D8842F"/><line x1="479.6" y1="276.2" x2="493.6" y2="274.6" stroke="#D8842F"/><circle cx="1056.6" cy="452.6" r="5.0" fill="#D8842F"/><line x1="1056.6" y1="452.6" x2="1070.6" y2="447.4" stroke="#D8842F"/><line x1="487.8" y1="448.4" x2="501.8" y2="450.1" stroke="#D8842F"/><circle cx="487.8" cy="448.4" r="5.0" fill="#D8842F"/><line x1="1070.6" y1="456.9" x2="1084.6" y2="461.1" stroke="#5A7DC1"/><circle cx="1070.6" cy="456.9" r="5.0" fill="#5A7DC1"/><line x1="501.8" y1="453.2" x2="515.8" y2="460.4" stroke="#5A7DC1"/><line x1="327.9" y1="468.6" x2="341.9" y2="472" stroke="#5A7DC1"/><circle cx="694.7" cy="459.1" r="5.0" fill="#724E9B"/><line x1="327.9" y1="468.6" x2="341.9" y2="471.6" stroke="#D8842F"/><line x1="417.7" y1="391.5" x2="431.7" y2="368.6" stroke="#D8842F"/><line x1="1070.6" y1="447.4" x2="1084.6" y2="462.6" stroke="#D8842F"/><line x1="1084.6" y1="462.6" x2="1098.6" y2="470.3" stroke="#D8842F"/><circle cx="327.9" cy="468.6" r="5.0" fill="#D8842F"/><circle cx="327.9" cy="468.6" r="5.0" fill="#5A7DC1"/><line x1="501.8" y1="450.1" x2="515.8" y2="457.7" stroke="#D8842F"/><line x1="716.8" y1="471.4" x2="722.4" y2="473.6" stroke="#724E9B"/><line x1="1084.6" y1="461.1" x2="1098.6" y2="469.5" stroke="#5A7DC1"/><circle cx="501.8" cy="453.2" r="5.0" fill="#5A7DC1"/><circle cx="493.6" cy="274.6" r="5.0" fill="#D8842F"/><line x1="515.8" y1="460.4" x2="529.8" y2="467.7" stroke="#5A7DC1"/><circle cx="1084.6" cy="462.6" r="5.0" fill="#D8842F"/><line x1="515.8" y1="457.7" x2="529.8" y2="467.7" stroke="#D8842F"/><circle cx="501.8" cy="450.1" r="5.0" fill="#D8842F"/><line x1="722.4" y1="473.6" x2="727.9" y2="472.2" stroke="#724E9B"/><circle cx="1084.6" cy="461.1" r="5.0" fill="#5A7DC1"/><circle cx="716.8" cy="471.4" r="5.0" fill="#724E9B"/><line x1="1098.6" y1="470.3" x2="1112.6" y2="475.4" stroke="#D8842F"/><line x1="1098.6" y1="469.5" x2="1112.6" y2="475.4" stroke="#5A7DC1"/><circle cx="1070.6" cy="447.4" r="5.0" fill="#D8842F"/><circle cx="515.8" cy="460.4" r="5.0" fill="#5A7DC1"/><line x1="341.9" y1="471.6" x2="355.9" y2="475.4" stroke="#D8842F"/><line x1="341.9" y1="472" x2="355.9" y2="473.8" stroke="#5A7DC1"/><circle cx="722.4" cy="473.6" r="5.0" fill="#724E9B"/><circle cx="1098.6" cy="470.3" r="5.0" fill="#D8842F"/><circle cx="341.9" cy="472" r="5.0" fill="#5A7DC1"/><circle cx="515.8" cy="457.7" r="5.0" fill="#D8842F"/><circle cx="341.9" cy="471.6" r="5.0" fill="#D8842F"/><circle cx="1098.6" cy="469.5" r="5.0" fill="#5A7DC1"/><circle cx="734" cy="312" r="5.0" fill="#724E9B"/><line x1="711.3" y1="443.2" x2="716.8" y2="471.4" stroke="#724E9B"/><circle cx="431.7" cy="380.2" r="5.0" fill="#5A7DC1"/><circle cx="529.8" cy="467.7" r="5.0" fill="#D8842F"/><circle cx="529.8" cy="467.7" r="5.0" fill="#5A7DC1"/><line x1="1112.6" y1="475.4" x2="1126.7" y2="479.5" stroke="#5A7DC1"/><circle cx="727.9" cy="472.2" r="5.0" fill="#724E9B"/><line x1="727.9" y1="472.2" x2="733.4" y2="462.5" stroke="#724E9B"/><line x1="1112.6" y1="475.4" x2="1126.7" y2="475.5" stroke="#D8842F"/><circle cx="1112.6" cy="475.4" r="5.0" fill="#D8842F"/><circle cx="1112.6" cy="475.4" r="5.0" fill="#5A7DC1"/><line x1="431.7" y1="380.2" x2="445.8" y2="369.2" stroke="#5A7DC1"/><line x1="473.8" y1="365.4" x2="487.8" y2="459.3" stroke="#5A7DC1"/><line x1="355.9" y1="475.4" x2="369.9" y2="476.8" stroke="#D8842F"/><line x1="355.9" y1="473.8" x2="369.9" y2="476.8" stroke="#5A7DC1"/><circle cx="355.9" cy="475.4" r="5.0" fill="#D8842F"/><circle cx="355.9" cy="473.8" r="5.0" fill="#5A7DC1"/><circle cx="431.7" cy="368.6" r="5.0" fill="#D8842F"/><line x1="1126.7" y1="479.5" x2="1140.7" y2="480.4" stroke="#5A7DC1"/><line x1="1126.7" y1="475.5" x2="1140.7" y2="483.5" stroke="#D8842F"/><circle cx="1126.7" cy="479.5" r="5.0" fill="#5A7DC1"/><line x1="744.5" y1="474.1" x2="750.1" y2="470.2" stroke="#724E9B"/><line x1="369.9" y1="476.8" x2="383.9" y2="483.1" stroke="#5A7DC1"/><line x1="750.1" y1="470.2" x2="755.6" y2="481.4" stroke="#724E9B"/><line x1="694.7" y1="459.1" x2="700.2" y2="392.8" stroke="#724E9B"/><circle cx="744.5" cy="474.1" r="5.0" fill="#724E9B"/><circle cx="1126.7" cy="475.5" r="5.0" fill="#D8842F"/><circle cx="711.3" cy="443.2" r="5.0" fill="#724E9B"/><circle cx="733.4" cy="462.5" r="5.0" fill="#724E9B"/><circle cx="369.9" cy="476.8" r="5.0" fill="#D8842F"/><circle cx="369.9" cy="476.8" r="5.0" fill="#5A7DC1"/><line x1="755.6" y1="481.4" x2="761.1" y2="474.8" stroke="#724E9B"/><line x1="431.7" y1="368.6" x2="445.8" y2="354.5" stroke="#D8842F"/><circle cx="755.6" cy="481.4" r="5.0" fill="#724E9B"/><line x1="739" y1="449.9" x2="744.5" y2="474.1" stroke="#724E9B"/><line x1="1140.7" y1="483.5" x2="1154.7" y2="486.9" stroke="#D8842F"/><line x1="733.4" y1="462.5" x2="739" y2="449.9" stroke="#724E9B"/><line x1="473.8" y1="345.4" x2="487.8" y2="448.4" stroke="#D8842F"/><line x1="369.9" y1="476.8" x2="383.9" y2="468.6" stroke="#D8842F"/><circle cx="1140.7" cy="483.5" r="5.0" fill="#D8842F"/><line x1="1140.7" y1="480.4" x2="1154.7" y2="483.8" stroke="#5A7DC1"/><circle cx="445.8" cy="369.2" r="5.0" fill="#5A7DC1"/><line x1="761.1" y1="474.8" x2="766.7" y2="479.4" stroke="#724E9B"/><circle cx="383.9" cy="483.1" r="5.0" fill="#5A7DC1"/><circle cx="1140.7" cy="480.4" r="5.0" fill="#5A7DC1"/><circle cx="750.1" cy="470.2" r="5.0" fill="#724E9B"/><line x1="1154.7" y1="486.9" x2="1162.1" y2="486.6" stroke="#D8842F"/><line x1="766.7" y1="479.4" x2="772.2" y2="476.7" stroke="#724E9B"/><line x1="1154.7" y1="483.8" x2="1162.1" y2="485.2" stroke="#5A7DC1"/><line x1="777.8" y1="483.3" x2="783.3" y2="488.7" stroke="#724E9B"/><circle cx="761.1" cy="474.8" r="5.0" fill="#724E9B"/><circle cx="766.7" cy="479.4" r="5.0" fill="#724E9B"/><circle cx="1154.7" cy="486.9" r="5.0" fill="#D8842F"/><line x1="772.2" y1="476.7" x2="777.8" y2="483.3" stroke="#724E9B"/><line x1="966.7" y1="486.7" x2="980.7" y2="487.4" stroke="#5A7DC1"/><circle cx="966.7" cy="486.7" r="5.0" fill="#5A7DC1"/><line x1="966.7" y1="486" x2="980.7" y2="486.1" stroke="#D8842F"/><circle cx="966.7" cy="486" r="5.0" fill="#D8842F"/><line x1="783.3" y1="488.7" x2="788.8" y2="485.9" stroke="#724E9B"/><circle cx="1154.7" cy="483.8" r="5.0" fill="#5A7DC1"/><circle cx="739" cy="449.9" r="5.0" fill="#724E9B"/><circle cx="783.3" cy="488.7" r="5.0" fill="#724E9B"/><circle cx="777.8" cy="483.3" r="5.0" fill="#724E9B"/><circle cx="445.8" cy="354.5" r="5.0" fill="#D8842F"/><circle cx="772.2" cy="476.7" r="5.0" fill="#724E9B"/><circle cx="383.9" cy="468.6" r="5.0" fill="#D8842F"/><line x1="980.7" y1="486.1" x2="994.8" y2="493.3" stroke="#D8842F"/><line x1="705.8" y1="373.6" x2="711.3" y2="443.2" stroke="#724E9B"/><line x1="980.7" y1="487.4" x2="994.8" y2="488.3" stroke="#5A7DC1"/><circle cx="788.8" cy="485.9" r="5.0" fill="#724E9B"/><circle cx="980.7" cy="487.4" r="5.0" fill="#5A7DC1"/><circle cx="980.7" cy="486.1" r="5.0" fill="#D8842F"/><circle cx="994.8" cy="493.3" r="5.0" fill="#D8842F"/><line x1="445.8" y1="369.2" x2="459.8" y2="312.3" stroke="#5A7DC1"/><line x1="994.8" y1="493.3" x2="1008.8" y2="491.3" stroke="#D8842F"/><circle cx="473.8" cy="365.4" r="5.0" fill="#5A7DC1"/><line x1="994.8" y1="488.3" x2="1008.8" y2="493.4" stroke="#5A7DC1"/><circle cx="994.8" cy="488.3" r="5.0" fill="#5A7DC1"/><circle cx="700.2" cy="392.8" r="5.0" fill="#724E9B"/><line x1="445.8" y1="354.5" x2="459.8" y2="307.6" stroke="#D8842F"/><line x1="1008.8" y1="491.3" x2="1022.8" y2="497.2" stroke="#D8842F"/><line x1="700.2" y1="392.8" x2="705.8" y2="373.6" stroke="#724E9B"/><circle cx="1008.8" cy="493.4" r="5.0" fill="#5A7DC1"/><circle cx="1008.8" cy="491.3" r="5.0" fill="#D8842F"/><line x1="459.8" y1="312.3" x2="473.8" y2="365.4" stroke="#5A7DC1"/><line x1="383.9" y1="468.6" x2="397.9" y2="409.3" stroke="#D8842F"/><line x1="1008.8" y1="493.4" x2="1022.8" y2="483.8" stroke="#5A7DC1"/><circle cx="473.8" cy="345.4" r="5.0" fill="#D8842F"/><line x1="649.8" y1="495.7" x2="655.3" y2="502.4" stroke="#724E9B"/><circle cx="1022.8" cy="497.2" r="5.0" fill="#D8842F"/><line x1="383.9" y1="483.1" x2="397.9" y2="385.3" stroke="#5A7DC1"/><line x1="655.3" y1="502.4" x2="660.9" y2="501.2" stroke="#724E9B"/><line x1="1022.8" y1="497.2" x2="1036.8" y2="492.1" stroke="#D8842F"/><line x1="454" y1="490" x2="468" y2="495.5" stroke="#D8842F"/><circle cx="655.3" cy="502.4" r="5.0" fill="#724E9B"/><line x1="459.8" y1="307.6" x2="473.8" y2="345.4" stroke="#D8842F"/><circle cx="649.8" cy="495.7" r="5.0" fill="#724E9B"/><circle cx="454" cy="490" r="5.0" fill="#D8842F"/><line x1="454" y1="483" x2="468" y2="495.5" stroke="#5A7DC1"/><circle cx="705.8" cy="373.6" r="5.0" fill="#724E9B"/><circle cx="660.9" cy="501.2" r="5.0" fill="#724E9B"/><line x1="1022.8" y1="483.8" x2="1036.8" y2="483.9" stroke="#5A7DC1"/><circle cx="1022.8" cy="483.8" r="5.0" fill="#5A7DC1"/><line x1="1036.8" y1="483.9" x2="1050.8" y2="506.7" stroke="#5A7DC1"/><line x1="294.1" y1="508.2" x2="308.1" y2="511.6" stroke="#D8842F"/><circle cx="454" cy="483" r="5.0" fill="#5A7DC1"/><circle cx="468" cy="495.5" r="5.0" fill="#D8842F"/><circle cx="468" cy="495.5" r="5.0" fill="#5A7DC1"/><line x1="468" y1="495.5" x2="482" y2="493.8" stroke="#D8842F"/><line x1="468" y1="495.5" x2="482" y2="493.8" stroke="#5A7DC1"/><circle cx="1050.8" cy="506.7" r="5.0" fill="#5A7DC1"/><circle cx="294.1" cy="508.2" r="5.0" fill="#D8842F"/><line x1="294.1" y1="504.3" x2="308.1" y2="510.2" stroke="#5A7DC1"/><circle cx="1036.8" cy="492.1" r="5.0" fill="#D8842F"/><line x1="683" y1="509.9" x2="688.6" y2="511.6" stroke="#724E9B"/><circle cx="294.1" cy="504.3" r="5.0" fill="#5A7DC1"/><circle cx="459.8" cy="312.3" r="5.0" fill="#5A7DC1"/><line x1="677.5" y1="495" x2="683" y2="509.9" stroke="#724E9B"/><line x1="688.6" y1="511.6" x2="694.1" y2="512.4" stroke="#724E9B"/><line x1="1036.8" y1="492.1" x2="1050.8" y2="482.7" stroke="#D8842F"/><line x1="482" y1="493.8" x2="496" y2="505.3" stroke="#D8842F"/><line x1="482" y1="493.8" x2="496" y2="505.3" stroke="#5A7DC1"/><circle cx="683" cy="509.9" r="5.0" fill="#724E9B"/><line x1="1050.8" y1="506.7" x2="1064.8" y2="491.3" stroke="#5A7DC1"/><circle cx="459.8" cy="307.6" r="5.0" fill="#D8842F"/><line x1="308.1" y1="510.2" x2="322.1" y2="513" stroke="#5A7DC1"/><circle cx="308.1" cy="511.6" r="5.0" fill="#D8842F"/><circle cx="1036.8" cy="483.9" r="5.0" fill="#5A7DC1"/><line x1="308.1" y1="511.6" x2="322.1" y2="509.4" stroke="#D8842F"/><circle cx="688.6" cy="511.6" r="5.0" fill="#724E9B"/><circle cx="308.1" cy="510.2" r="5.0" fill="#5A7DC1"/><circle cx="482" cy="493.8" r="5.0" fill="#D8842F"/><circle cx="482" cy="493.8" r="5.0" fill="#5A7DC1"/><circle cx="496" cy="505.3" r="5.0" fill="#D8842F"/><circle cx="496" cy="505.3" r="5.0" fill="#5A7DC1"/><line x1="694.1" y1="512.4" x2="699.6" y2="504.2" stroke="#724E9B"/><circle cx="694.1" cy="512.4" r="5.0" fill="#724E9B"/><line x1="1078.8" y1="513.4" x2="1092.9" y2="517.6" stroke="#5A7DC1"/><line x1="1064.8" y1="491.3" x2="1078.8" y2="513.4" stroke="#5A7DC1"/><line x1="1078.8" y1="512.5" x2="1092.9" y2="516.8" stroke="#D8842F"/><circle cx="677.5" cy="495" r="5.0" fill="#724E9B"/><circle cx="1078.8" cy="513.4" r="5.0" fill="#5A7DC1"/><line x1="1064.8" y1="487.8" x2="1078.8" y2="512.5" stroke="#D8842F"/><circle cx="1078.8" cy="512.5" r="5.0" fill="#D8842F"/><line x1="322.1" y1="509.4" x2="336.1" y2="518.3" stroke="#D8842F"/><circle cx="322.1" cy="513" r="5.0" fill="#5A7DC1"/><line x1="1050.8" y1="482.7" x2="1064.8" y2="487.8" stroke="#D8842F"/><line x1="322.1" y1="513" x2="336.1" y2="509.5" stroke="#5A7DC1"/><circle cx="397.9" cy="409.3" r="5.0" fill="#D8842F"/><circle cx="1050.8" cy="482.7" r="5.0" fill="#D8842F"/><line x1="710.7" y1="513.3" x2="716.3" y2="514.6" stroke="#724E9B"/><circle cx="322.1" cy="509.4" r="5.0" fill="#D8842F"/><line x1="440" y1="399" x2="454" y2="490" stroke="#D8842F"/><line x1="716.3" y1="514.6" x2="721.8" y2="518.7" stroke="#724E9B"/><line x1="1092.9" y1="516.8" x2="1106.9" y2="518.5" stroke="#D8842F"/><circle cx="1092.9" cy="517.6" r="5.0" fill="#5A7DC1"/><line x1="1092.9" y1="517.6" x2="1106.9" y2="515.9" stroke="#5A7DC1"/><circle cx="1092.9" cy="516.8" r="5.0" fill="#D8842F"/><circle cx="699.6" cy="504.2" r="5.0" fill="#724E9B"/><circle cx="1064.8" cy="491.3" r="5.0" fill="#5A7DC1"/><circle cx="336.1" cy="518.3" r="5.0" fill="#D8842F"/><line x1="721.8" y1="518.7" x2="727.3" y2="519.8" stroke="#724E9B"/><circle cx="710.7" cy="513.3" r="5.0" fill="#724E9B"/><circle cx="1064.8" cy="487.8" r="5.0" fill="#D8842F"/><line x1="336.1" y1="518.3" x2="350.1" y2="510.1" stroke="#D8842F"/><circle cx="716.3" cy="514.6" r="5.0" fill="#724E9B"/><circle cx="721.8" cy="518.7" r="5.0" fill="#724E9B"/><line x1="336.1" y1="509.5" x2="350.1" y2="515" stroke="#5A7DC1"/><line x1="727.3" y1="519.8" x2="732.9" y2="517.3" stroke="#724E9B"/><line x1="440" y1="384.7" x2="454" y2="483" stroke="#5A7DC1"/><line x1="699.6" y1="504.2" x2="705.2" y2="480.6" stroke="#724E9B"/><line x1="705.2" y1="480.6" x2="710.7" y2="513.3" stroke="#724E9B"/><line x1="1106.9" y1="518.5" x2="1120.9" y2="521.8" stroke="#D8842F"/><circle cx="336.1" cy="509.5" r="5.0" fill="#5A7DC1"/><circle cx="727.3" cy="519.8" r="5.0" fill="#724E9B"/><line x1="1106.9" y1="515.9" x2="1120.9" y2="522.6" stroke="#5A7DC1"/><circle cx="1106.9" cy="518.5" r="5.0" fill="#D8842F"/><circle cx="1106.9" cy="515.9" r="5.0" fill="#5A7DC1"/><line x1="660.9" y1="501.2" x2="666.4" y2="402.6" stroke="#724E9B"/><line x1="1120.9" y1="522.6" x2="1128.3" y2="523.4" stroke="#5A7DC1"/><line x1="1120.9" y1="521.8" x2="1128.3" y2="523" stroke="#D8842F"/><circle cx="350.1" cy="515" r="5.0" fill="#5A7DC1"/><circle cx="732.9" cy="517.3" r="5.0" fill="#724E9B"/><line x1="932.9" y1="525" x2="946.9" y2="526.4" stroke="#5A7DC1"/><line x1="672" y1="420.4" x2="677.5" y2="495" stroke="#724E9B"/><line x1="732.9" y1="517.3" x2="738.4" y2="506.2" stroke="#724E9B"/><circle cx="932.9" cy="525" r="5.0" fill="#5A7DC1"/><circle cx="397.9" cy="385.3" r="5.0" fill="#5A7DC1"/><circle cx="1120.9" cy="522.6" r="5.0" fill="#5A7DC1"/><circle cx="1120.9" cy="521.8" r="5.0" fill="#D8842F"/><line x1="744" y1="517.3" x2="749.5" y2="521.9" stroke="#724E9B"/><line x1="749.5" y1="521.9" x2="755" y2="526.5" stroke="#724E9B"/><circle cx="350.1" cy="510.1" r="5.0" fill="#D8842F"/><circle cx="932.9" cy="521.1" r="5.0" fill="#D8842F"/><line x1="932.9" y1="521.1" x2="946.9" y2="519.1" stroke="#D8842F"/><line x1="738.4" y1="506.2" x2="744" y2="517.3" stroke="#724E9B"/><circle cx="744" cy="517.3" r="5.0" fill="#724E9B"/><line x1="397.9" y1="409.3" x2="412" y2="343.8" stroke="#D8842F"/><circle cx="749.5" cy="521.9" r="5.0" fill="#724E9B"/><circle cx="755" cy="526.5" r="5.0" fill="#724E9B"/><circle cx="705.2" cy="480.6" r="5.0" fill="#724E9B"/><circle cx="946.9" cy="526.4" r="5.0" fill="#5A7DC1"/><line x1="946.9" y1="526.4" x2="961" y2="524.8" stroke="#5A7DC1"/><line x1="946.9" y1="519.1" x2="961" y2="531.8" stroke="#D8842F"/><circle cx="738.4" cy="506.2" r="5.0" fill="#724E9B"/><circle cx="961" cy="531.8" r="5.0" fill="#D8842F"/><circle cx="946.9" cy="519.1" r="5.0" fill="#D8842F"/><line x1="961" y1="524.8" x2="975" y2="535.1" stroke="#5A7DC1"/><line x1="961" y1="531.8" x2="975" y2="526.3" stroke="#D8842F"/><circle cx="440" cy="399" r="5.0" fill="#D8842F"/><circle cx="961" cy="524.8" r="5.0" fill="#5A7DC1"/><line x1="350.1" y1="515" x2="364.1" y2="455.5" stroke="#5A7DC1"/><circle cx="975" cy="535.1" r="5.0" fill="#5A7DC1"/><line x1="397.9" y1="385.3" x2="412" y2="323" stroke="#5A7DC1"/><line x1="975" y1="535.1" x2="989" y2="523.3" stroke="#5A7DC1"/><line x1="350.1" y1="510.1" x2="364.1" y2="447.8" stroke="#D8842F"/><circle cx="975" cy="526.3" r="5.0" fill="#D8842F"/><line x1="426" y1="346.1" x2="440" y2="399" stroke="#D8842F"/><circle cx="440" cy="384.7" r="5.0" fill="#5A7DC1"/><line x1="426" y1="356.1" x2="440" y2="384.7" stroke="#5A7DC1"/><line x1="666.4" y1="402.6" x2="672" y2="420.4" stroke="#724E9B"/><line x1="975" y1="526.3" x2="989" y2="517.5" stroke="#D8842F"/><circle cx="672" cy="420.4" r="5.0" fill="#724E9B"/><line x1="616" y1="536.2" x2="621.5" y2="534.5" stroke="#724E9B"/><line x1="621.5" y1="534.5" x2="627.1" y2="541.8" stroke="#724E9B"/><circle cx="616" cy="536.2" r="5.0" fill="#724E9B"/><line x1="989" y1="523.3" x2="1003" y2="528.4" stroke="#5A7DC1"/><circle cx="627.1" cy="541.8" r="5.0" fill="#724E9B"/><line x1="989" y1="517.5" x2="1003" y2="532.8" stroke="#D8842F"/><circle cx="621.5" cy="534.5" r="5.0" fill="#724E9B"/><circle cx="989" cy="523.3" r="5.0" fill="#5A7DC1"/><line x1="412" y1="343.8" x2="426" y2="346.1" stroke="#D8842F"/><circle cx="666.4" cy="402.6" r="5.0" fill="#724E9B"/><line x1="434.2" y1="533.1" x2="448.2" y2="535.4" stroke="#5A7DC1"/><circle cx="412" cy="343.8" r="5.0" fill="#D8842F"/><circle cx="426" cy="356.1" r="5.0" fill="#5A7DC1"/><line x1="434.2" y1="530.8" x2="448.2" y2="536.1" stroke="#D8842F"/><line x1="260.3" y1="545.9" x2="274.3" y2="549.3" stroke="#5A7DC1"/><circle cx="1003" cy="532.8" r="5.0" fill="#D8842F"/><line x1="1003" y1="532.8" x2="1017" y2="532.1" stroke="#D8842F"/><circle cx="434.2" cy="533.1" r="5.0" fill="#5A7DC1"/><line x1="420.2" y1="507.3" x2="434.2" y2="533.1" stroke="#5A7DC1"/><circle cx="260.3" cy="545.9" r="5.0" fill="#5A7DC1"/><line x1="420.2" y1="505.4" x2="434.2" y2="530.8" stroke="#D8842F"/><circle cx="434.2" cy="530.8" r="5.0" fill="#D8842F"/><circle cx="989" cy="517.5" r="5.0" fill="#D8842F"/><line x1="412" y1="323" x2="426" y2="356.1" stroke="#5A7DC1"/><line x1="448.2" y1="536.1" x2="462.2" y2="548.4" stroke="#D8842F"/><line x1="1003" y1="528.4" x2="1017" y2="529.2" stroke="#5A7DC1"/><circle cx="1003" cy="528.4" r="5.0" fill="#5A7DC1"/><line x1="260.3" y1="542" x2="274.3" y2="543.3" stroke="#D8842F"/><line x1="649.2" y1="547.4" x2="654.8" y2="545.6" stroke="#724E9B"/><circle cx="260.3" cy="542" r="5.0" fill="#D8842F"/><line x1="448.2" y1="535.4" x2="462.2" y2="544.7" stroke="#5A7DC1"/><line x1="1017" y1="532.1" x2="1031" y2="542.3" stroke="#D8842F"/><circle cx="649.2" cy="547.4" r="5.0" fill="#724E9B"/><line x1="643.7" y1="527.7" x2="649.2" y2="547.4" stroke="#724E9B"/><line x1="654.8" y1="545.6" x2="660.3" y2="549.3" stroke="#724E9B"/><circle cx="426" cy="346.1" r="5.0" fill="#D8842F"/><line x1="1017" y1="529.2" x2="1031" y2="541.7" stroke="#5A7DC1"/><circle cx="448.2" cy="536.1" r="5.0" fill="#D8842F"/><circle cx="462.2" cy="548.4" r="5.0" fill="#D8842F"/><circle cx="448.2" cy="535.4" r="5.0" fill="#5A7DC1"/><circle cx="274.3" cy="549.3" r="5.0" fill="#5A7DC1"/><line x1="274.3" y1="549.3" x2="288.3" y2="546.1" stroke="#5A7DC1"/><line x1="1031" y1="542.3" x2="1045" y2="548.8" stroke="#D8842F"/><circle cx="1017" cy="532.1" r="5.0" fill="#D8842F"/><circle cx="420.2" cy="507.3" r="5.0" fill="#5A7DC1"/><line x1="1031" y1="541.7" x2="1045" y2="546.7" stroke="#5A7DC1"/><circle cx="462.2" cy="544.7" r="5.0" fill="#5A7DC1"/><circle cx="364.1" cy="455.5" r="5.0" fill="#5A7DC1"/><circle cx="654.8" cy="545.6" r="5.0" fill="#724E9B"/><circle cx="420.2" cy="505.4" r="5.0" fill="#D8842F"/><circle cx="1031" cy="542.3" r="5.0" fill="#D8842F"/><line x1="627.1" y1="541.8" x2="632.6" y2="490.2" stroke="#724E9B"/><circle cx="1017" cy="529.2" r="5.0" fill="#5A7DC1"/><circle cx="1031" cy="541.7" r="5.0" fill="#5A7DC1"/><line x1="660.3" y1="549.3" x2="665.8" y2="541.1" stroke="#724E9B"/><circle cx="660.3" cy="549.3" r="5.0" fill="#724E9B"/><circle cx="274.3" cy="543.3" r="5.0" fill="#D8842F"/><line x1="1045" y1="548.8" x2="1059.1" y2="553.5" stroke="#D8842F"/><circle cx="412" cy="323" r="5.0" fill="#5A7DC1"/><line x1="1045" y1="546.7" x2="1059.1" y2="551" stroke="#5A7DC1"/><circle cx="1045" cy="548.8" r="5.0" fill="#D8842F"/><line x1="274.3" y1="543.3" x2="288.3" y2="532.3" stroke="#D8842F"/><circle cx="364.1" cy="447.8" r="5.0" fill="#D8842F"/><circle cx="643.7" cy="527.7" r="5.0" fill="#724E9B"/><circle cx="1045" cy="546.7" r="5.0" fill="#5A7DC1"/><circle cx="288.3" cy="546.1" r="5.0" fill="#5A7DC1"/><line x1="1059.1" y1="553.5" x2="1073.1" y2="557.9" stroke="#D8842F"/><line x1="1059.1" y1="551" x2="1073.1" y2="557.7" stroke="#5A7DC1"/><line x1="288.3" y1="546.1" x2="302.3" y2="540" stroke="#5A7DC1"/><line x1="688" y1="556.7" x2="693.5" y2="557.9" stroke="#724E9B"/><circle cx="1059.1" cy="553.5" r="5.0" fill="#D8842F"/><circle cx="665.8" cy="541.1" r="5.0" fill="#724E9B"/><line x1="288.3" y1="532.3" x2="302.3" y2="550.4" stroke="#D8842F"/><circle cx="1059.1" cy="551" r="5.0" fill="#5A7DC1"/><line x1="682.5" y1="540.1" x2="688" y2="556.7" stroke="#724E9B"/><circle cx="688" cy="556.7" r="5.0" fill="#724E9B"/><circle cx="302.3" cy="550.4" r="5.0" fill="#D8842F"/><line x1="693.5" y1="557.9" x2="699.1" y2="554.4" stroke="#724E9B"/><line x1="1073.1" y1="557.9" x2="1087.1" y2="561.3" stroke="#D8842F"/><line x1="1073.1" y1="557.7" x2="1087.1" y2="560.3" stroke="#5A7DC1"/><line x1="665.8" y1="541.1" x2="671.4" y2="519.1" stroke="#724E9B"/><circle cx="693.5" cy="557.9" r="5.0" fill="#724E9B"/><circle cx="1073.1" cy="557.9" r="5.0" fill="#D8842F"/><circle cx="1073.1" cy="557.7" r="5.0" fill="#5A7DC1"/><line x1="676.9" y1="536.5" x2="682.5" y2="540.1" stroke="#724E9B"/><circle cx="288.3" cy="532.3" r="5.0" fill="#D8842F"/><line x1="1087.1" y1="561.3" x2="1094.5" y2="561.5" stroke="#D8842F"/><line x1="671.4" y1="519.1" x2="676.9" y2="536.5" stroke="#724E9B"/><circle cx="676.9" cy="536.5" r="5.0" fill="#724E9B"/><line x1="1087.1" y1="560.3" x2="1094.5" y2="561.1" stroke="#5A7DC1"/><line x1="699.1" y1="554.4" x2="704.6" y2="549.1" stroke="#724E9B"/><circle cx="302.3" cy="540" r="5.0" fill="#5A7DC1"/><line x1="899.1" y1="562.7" x2="913.1" y2="566" stroke="#D8842F"/><line x1="710.2" y1="557.8" x2="715.7" y2="564.2" stroke="#724E9B"/><circle cx="682.5" cy="540.1" r="5.0" fill="#724E9B"/><circle cx="699.1" cy="554.4" r="5.0" fill="#724E9B"/><circle cx="1087.1" cy="561.3" r="5.0" fill="#D8842F"/><circle cx="899.1" cy="562.7" r="5.0" fill="#D8842F"/><circle cx="1087.1" cy="560.3" r="5.0" fill="#5A7DC1"/><line x1="704.6" y1="549.1" x2="710.2" y2="557.8" stroke="#724E9B"/><line x1="364.1" y1="455.5" x2="378.2" y2="386.2" stroke="#5A7DC1"/><line x1="715.7" y1="564.2" x2="721.2" y2="558.4" stroke="#724E9B"/><circle cx="632.6" cy="490.2" r="5.0" fill="#724E9B"/><line x1="899.1" y1="558.4" x2="913.1" y2="559.1" stroke="#5A7DC1"/><circle cx="715.7" cy="564.2" r="5.0" fill="#724E9B"/><circle cx="899.1" cy="558.4" r="5.0" fill="#5A7DC1"/><circle cx="710.2" cy="557.8" r="5.0" fill="#724E9B"/><line x1="364.1" y1="447.8" x2="378.2" y2="382.3" stroke="#D8842F"/><line x1="302.3" y1="550.4" x2="316.3" y2="508.7" stroke="#D8842F"/><line x1="406.2" y1="396.2" x2="420.2" y2="507.3" stroke="#5A7DC1"/><circle cx="913.1" cy="566" r="5.0" fill="#D8842F"/><circle cx="704.6" cy="549.1" r="5.0" fill="#724E9B"/><circle cx="671.4" cy="519.1" r="5.0" fill="#724E9B"/><line x1="913.1" y1="566" x2="927.2" y2="560.7" stroke="#D8842F"/><line x1="913.1" y1="559.1" x2="927.2" y2="567.3" stroke="#5A7DC1"/><line x1="302.3" y1="540" x2="316.3" y2="507.2" stroke="#5A7DC1"/><circle cx="721.2" cy="558.4" r="5.0" fill="#724E9B"/><circle cx="913.1" cy="559.1" r="5.0" fill="#5A7DC1"/><line x1="406.2" y1="383.1" x2="420.2" y2="505.4" stroke="#D8842F"/><line x1="638.2" y1="423" x2="643.7" y2="527.7" stroke="#724E9B"/><line x1="927.2" y1="567.3" x2="941.2" y2="568.9" stroke="#5A7DC1"/><circle cx="927.2" cy="567.3" r="5.0" fill="#5A7DC1"/><line x1="927.2" y1="560.7" x2="941.2" y2="569.5" stroke="#D8842F"/><circle cx="927.2" cy="560.7" r="5.0" fill="#D8842F"/><line x1="941.2" y1="569.5" x2="955.2" y2="571.6" stroke="#D8842F"/><circle cx="941.2" cy="569.5" r="5.0" fill="#D8842F"/><circle cx="941.2" cy="568.9" r="5.0" fill="#5A7DC1"/><line x1="632.6" y1="490.2" x2="638.2" y2="423" stroke="#724E9B"/><line x1="941.2" y1="568.9" x2="955.2" y2="563.4" stroke="#5A7DC1"/><line x1="378.2" y1="386.2" x2="392.2" y2="410" stroke="#5A7DC1"/><circle cx="392.2" cy="410" r="5.0" fill="#5A7DC1"/><circle cx="955.2" cy="571.6" r="5.0" fill="#D8842F"/><line x1="582.2" y1="573.9" x2="587.7" y2="572" stroke="#724E9B"/><circle cx="316.3" cy="508.7" r="5.0" fill="#D8842F"/><circle cx="316.3" cy="507.2" r="5.0" fill="#5A7DC1"/><line x1="392.2" y1="410" x2="406.2" y2="396.2" stroke="#5A7DC1"/><circle cx="582.2" cy="573.9" r="5.0" fill="#724E9B"/><line x1="587.7" y1="572" x2="593.3" y2="575" stroke="#724E9B"/><line x1="386.4" y1="560.1" x2="400.4" y2="573.1" stroke="#D8842F"/><line x1="955.2" y1="563.4" x2="969.2" y2="568" stroke="#5A7DC1"/><line x1="378.2" y1="382.3" x2="392.2" y2="394.6" stroke="#D8842F"/><line x1="955.2" y1="571.6" x2="969.2" y2="557.7" stroke="#D8842F"/><circle cx="386.4" cy="564.9" r="5.0" fill="#5A7DC1"/><line x1="386.4" y1="564.9" x2="400.4" y2="564.2" stroke="#5A7DC1"/><circle cx="955.2" cy="563.4" r="5.0" fill="#5A7DC1"/><circle cx="378.2" cy="386.2" r="5.0" fill="#5A7DC1"/><line x1="969.2" y1="568" x2="983.2" y2="579.7" stroke="#5A7DC1"/><circle cx="587.7" cy="572" r="5.0" fill="#724E9B"/><circle cx="400.4" cy="573.1" r="5.0" fill="#D8842F"/><circle cx="386.4" cy="560.1" r="5.0" fill="#D8842F"/><circle cx="378.2" cy="382.3" r="5.0" fill="#D8842F"/><circle cx="593.3" cy="575" r="5.0" fill="#724E9B"/><circle cx="392.2" cy="394.6" r="5.0" fill="#D8842F"/><line x1="400.4" y1="573.1" x2="414.4" y2="568.2" stroke="#D8842F"/><line x1="400.4" y1="564.2" x2="414.4" y2="575.2" stroke="#5A7DC1"/><circle cx="226.5" cy="583.5" r="5.0" fill="#D8842F"/><circle cx="969.2" cy="568" r="5.0" fill="#5A7DC1"/><circle cx="983.2" cy="579.7" r="5.0" fill="#5A7DC1"/><line x1="226.5" y1="583.5" x2="240.5" y2="578.4" stroke="#D8842F"/><line x1="392.2" y1="394.6" x2="406.2" y2="383.1" stroke="#D8842F"/><line x1="615.4" y1="584.8" x2="621" y2="585.6" stroke="#724E9B"/><line x1="226.5" y1="574.6" x2="240.5" y2="586.1" stroke="#5A7DC1"/><line x1="969.2" y1="557.7" x2="983.2" y2="573.1" stroke="#D8842F"/><line x1="609.9" y1="573.8" x2="615.4" y2="584.8" stroke="#724E9B"/><line x1="414.4" y1="575.2" x2="428.4" y2="580.1" stroke="#5A7DC1"/><circle cx="400.4" cy="564.2" r="5.0" fill="#5A7DC1"/><line x1="414.4" y1="568.2" x2="428.4" y2="583.6" stroke="#D8842F"/><line x1="983.2" y1="579.7" x2="997.2" y2="570.9" stroke="#5A7DC1"/><line x1="372.4" y1="509.5" x2="386.4" y2="564.9" stroke="#5A7DC1"/><circle cx="414.4" cy="575.2" r="5.0" fill="#5A7DC1"/><circle cx="615.4" cy="584.8" r="5.0" fill="#724E9B"/><line x1="983.2" y1="573.1" x2="997.2" y2="573.8" stroke="#D8842F"/><circle cx="406.2" cy="396.2" r="5.0" fill="#5A7DC1"/><circle cx="983.2" cy="573.1" r="5.0" fill="#D8842F"/><circle cx="226.5" cy="574.6" r="5.0" fill="#5A7DC1"/><line x1="240.5" y1="586.1" x2="254.5" y2="586.8" stroke="#5A7DC1"/><circle cx="240.5" cy="586.1" r="5.0" fill="#5A7DC1"/><line x1="621" y1="585.6" x2="626.5" y2="580" stroke="#724E9B"/><circle cx="428.4" cy="583.6" r="5.0" fill="#D8842F"/><circle cx="969.2" cy="557.7" r="5.0" fill="#D8842F"/><circle cx="621" cy="585.6" r="5.0" fill="#724E9B"/><line x1="316.3" y1="508.7" x2="330.3" y2="454.9" stroke="#D8842F"/><circle cx="609.9" cy="573.8" r="5.0" fill="#724E9B"/><line x1="626.5" y1="580" x2="632" y2="588.7" stroke="#724E9B"/><circle cx="414.4" cy="568.2" r="5.0" fill="#D8842F"/><circle cx="428.4" cy="580.1" r="5.0" fill="#5A7DC1"/><line x1="997.2" y1="573.8" x2="1011.2" y2="583.9" stroke="#D8842F"/><line x1="372.4" y1="497.7" x2="386.4" y2="560.1" stroke="#D8842F"/><circle cx="240.5" cy="578.4" r="5.0" fill="#D8842F"/><line x1="997.2" y1="570.9" x2="1011.2" y2="581" stroke="#5A7DC1"/><circle cx="632" cy="588.7" r="5.0" fill="#724E9B"/><circle cx="638.2" cy="423" r="5.0" fill="#724E9B"/><circle cx="997.2" cy="573.8" r="5.0" fill="#D8842F"/><line x1="240.5" y1="578.4" x2="254.5" y2="572.3" stroke="#D8842F"/><line x1="1011.2" y1="581" x2="1025.3" y2="589.8" stroke="#5A7DC1"/><circle cx="406.2" cy="383.1" r="5.0" fill="#D8842F"/><circle cx="254.5" cy="586.8" r="5.0" fill="#5A7DC1"/><circle cx="626.5" cy="580" r="5.0" fill="#724E9B"/><circle cx="1011.2" cy="583.9" r="5.0" fill="#D8842F"/><circle cx="997.2" cy="570.9" r="5.0" fill="#5A7DC1"/><line x1="1011.2" y1="583.9" x2="1025.3" y2="581.9" stroke="#D8842F"/><line x1="254.5" y1="586.8" x2="268.5" y2="580.2" stroke="#5A7DC1"/><circle cx="1011.2" cy="581" r="5.0" fill="#5A7DC1"/><line x1="1025.3" y1="589.8" x2="1039.3" y2="595" stroke="#5A7DC1"/><line x1="648.7" y1="590.5" x2="654.2" y2="591.1" stroke="#724E9B"/><line x1="316.3" y1="507.2" x2="330.3" y2="425.1" stroke="#5A7DC1"/><line x1="593.3" y1="575" x2="598.8" y2="504.8" stroke="#724E9B"/><circle cx="1025.3" cy="589.8" r="5.0" fill="#5A7DC1"/><circle cx="648.7" cy="590.5" r="5.0" fill="#724E9B"/><line x1="654.2" y1="591.1" x2="659.7" y2="589.7" stroke="#724E9B"/><line x1="643.1" y1="569.5" x2="648.7" y2="590.5" stroke="#724E9B"/><line x1="254.5" y1="572.3" x2="268.5" y2="578.4" stroke="#D8842F"/><circle cx="372.4" cy="509.5" r="5.0" fill="#5A7DC1"/><line x1="632" y1="588.7" x2="637.6" y2="547.3" stroke="#724E9B"/><line x1="1039.3" y1="595" x2="1053.3" y2="598" stroke="#5A7DC1"/><circle cx="654.2" cy="591.1" r="5.0" fill="#724E9B"/><circle cx="254.5" cy="572.3" r="5.0" fill="#D8842F"/><circle cx="1039.3" cy="595" r="5.0" fill="#5A7DC1"/><line x1="1025.3" y1="581.9" x2="1039.3" y2="581.8" stroke="#D8842F"/><circle cx="1025.3" cy="581.9" r="5.0" fill="#D8842F"/><line x1="659.7" y1="589.7" x2="665.3" y2="588" stroke="#724E9B"/><circle cx="268.5" cy="580.2" r="5.0" fill="#5A7DC1"/><line x1="1039.3" y1="581.8" x2="1053.3" y2="598.5" stroke="#D8842F"/><circle cx="659.7" cy="589.7" r="5.0" fill="#724E9B"/><line x1="1053.3" y1="598.5" x2="1060.7" y2="599" stroke="#D8842F"/><line x1="1053.3" y1="598" x2="1060.7" y2="598.7" stroke="#5A7DC1"/><circle cx="268.5" cy="578.4" r="5.0" fill="#D8842F"/><line x1="865.3" y1="600.3" x2="879.3" y2="602.8" stroke="#D8842F"/><line x1="865.3" y1="599" x2="879.3" y2="603.7" stroke="#5A7DC1"/><line x1="676.4" y1="594.1" x2="681.9" y2="601.5" stroke="#724E9B"/><circle cx="865.3" cy="600.3" r="5.0" fill="#D8842F"/><circle cx="1053.3" cy="598.5" r="5.0" fill="#D8842F"/><circle cx="1053.3" cy="598" r="5.0" fill="#5A7DC1"/><circle cx="372.4" cy="497.7" r="5.0" fill="#D8842F"/><circle cx="865.3" cy="599" r="5.0" fill="#5A7DC1"/><line x1="681.9" y1="601.5" x2="687.4" y2="598.9" stroke="#724E9B"/><circle cx="643.1" cy="569.5" r="5.0" fill="#724E9B"/><line x1="665.3" y1="588" x2="670.8" y2="580" stroke="#724E9B"/><circle cx="665.3" cy="588" r="5.0" fill="#724E9B"/><line x1="637.6" y1="547.3" x2="643.1" y2="569.5" stroke="#724E9B"/><circle cx="1039.3" cy="581.8" r="5.0" fill="#D8842F"/><circle cx="681.9" cy="601.5" r="5.0" fill="#724E9B"/><line x1="670.8" y1="580" x2="676.4" y2="594.1" stroke="#724E9B"/><circle cx="330.3" cy="454.9" r="5.0" fill="#D8842F"/><circle cx="676.4" cy="594.1" r="5.0" fill="#724E9B"/><line x1="879.3" y1="603.7" x2="893.4" y2="604.2" stroke="#5A7DC1"/><circle cx="879.3" cy="603.7" r="5.0" fill="#5A7DC1"/><circle cx="879.3" cy="602.8" r="5.0" fill="#D8842F"/><line x1="604.4" y1="469.8" x2="609.9" y2="573.8" stroke="#724E9B"/><line x1="268.5" y1="578.4" x2="282.5" y2="549.9" stroke="#D8842F"/><circle cx="687.4" cy="598.9" r="5.0" fill="#724E9B"/><line x1="879.3" y1="602.8" x2="893.4" y2="597.6" stroke="#D8842F"/><line x1="268.5" y1="580.2" x2="282.5" y2="539.1" stroke="#5A7DC1"/><circle cx="670.8" cy="580" r="5.0" fill="#724E9B"/><line x1="358.4" y1="427" x2="372.4" y2="509.5" stroke="#5A7DC1"/><line x1="893.4" y1="604.2" x2="907.4" y2="609.9" stroke="#5A7DC1"/><line x1="330.3" y1="454.9" x2="344.4" y2="428.5" stroke="#D8842F"/><circle cx="637.6" cy="547.3" r="5.0" fill="#724E9B"/><circle cx="893.4" cy="604.2" r="5.0" fill="#5A7DC1"/><line x1="893.4" y1="597.6" x2="907.4" y2="601.8" stroke="#D8842F"/><circle cx="598.8" cy="504.8" r="5.0" fill="#724E9B"/><circle cx="893.4" cy="597.6" r="5.0" fill="#D8842F"/><circle cx="907.4" cy="609.9" r="5.0" fill="#5A7DC1"/><line x1="907.4" y1="609.9" x2="921.4" y2="605.7" stroke="#5A7DC1"/><line x1="330.3" y1="425.1" x2="344.4" y2="435.4" stroke="#5A7DC1"/><line x1="907.4" y1="601.8" x2="921.4" y2="608.5" stroke="#D8842F"/><line x1="358.4" y1="402.8" x2="372.4" y2="497.7" stroke="#D8842F"/><circle cx="330.3" cy="425.1" r="5.0" fill="#5A7DC1"/><circle cx="907.4" cy="601.8" r="5.0" fill="#D8842F"/><circle cx="344.4" cy="435.4" r="5.0" fill="#5A7DC1"/><circle cx="282.5" cy="549.9" r="5.0" fill="#D8842F"/><line x1="921.4" y1="605.7" x2="935.4" y2="616.3" stroke="#5A7DC1"/><line x1="548.4" y1="611.4" x2="553.9" y2="614.7" stroke="#724E9B"/><line x1="598.8" y1="504.8" x2="604.4" y2="469.8" stroke="#724E9B"/><line x1="344.4" y1="435.4" x2="358.4" y2="427" stroke="#5A7DC1"/><circle cx="921.4" cy="608.5" r="5.0" fill="#D8842F"/><circle cx="921.4" cy="605.7" r="5.0" fill="#5A7DC1"/><circle cx="344.4" cy="428.5" r="5.0" fill="#D8842F"/><circle cx="548.4" cy="611.4" r="5.0" fill="#724E9B"/><line x1="921.4" y1="608.5" x2="935.4" y2="600.6" stroke="#D8842F"/><line x1="553.9" y1="614.7" x2="559.5" y2="608.5" stroke="#724E9B"/><circle cx="553.9" cy="614.7" r="5.0" fill="#724E9B"/><circle cx="935.4" cy="616.3" r="5.0" fill="#5A7DC1"/><circle cx="282.5" cy="539.1" r="5.0" fill="#5A7DC1"/><line x1="935.4" y1="616.3" x2="949.4" y2="607.9" stroke="#5A7DC1"/><line x1="352.6" y1="597.8" x2="366.6" y2="600" stroke="#D8842F"/><line x1="352.6" y1="594.7" x2="366.6" y2="602.3" stroke="#5A7DC1"/><circle cx="352.6" cy="597.8" r="5.0" fill="#D8842F"/><line x1="366.6" y1="602.3" x2="380.6" y2="612.3" stroke="#5A7DC1"/><circle cx="352.6" cy="594.7" r="5.0" fill="#5A7DC1"/><line x1="344.4" y1="428.5" x2="358.4" y2="402.8" stroke="#D8842F"/><line x1="366.6" y1="600" x2="380.6" y2="611.5" stroke="#D8842F"/><circle cx="559.5" cy="608.5" r="5.0" fill="#724E9B"/><circle cx="358.4" cy="427" r="5.0" fill="#5A7DC1"/><line x1="581.6" y1="622.3" x2="587.2" y2="620.8" stroke="#724E9B"/><circle cx="366.6" cy="602.3" r="5.0" fill="#5A7DC1"/><line x1="338.6" y1="558.4" x2="352.6" y2="594.7" stroke="#5A7DC1"/><circle cx="935.4" cy="600.6" r="5.0" fill="#D8842F"/><circle cx="366.6" cy="600" r="5.0" fill="#D8842F"/><line x1="935.4" y1="600.6" x2="949.4" y2="597.6" stroke="#D8842F"/><line x1="949.4" y1="607.9" x2="963.4" y2="615.5" stroke="#5A7DC1"/><line x1="576.1" y1="604.5" x2="581.6" y2="622.3" stroke="#724E9B"/><circle cx="380.6" cy="612.3" r="5.0" fill="#5A7DC1"/><circle cx="581.6" cy="622.3" r="5.0" fill="#724E9B"/><circle cx="380.6" cy="611.5" r="5.0" fill="#D8842F"/><line x1="380.6" y1="611.5" x2="394.6" y2="610.6" stroke="#D8842F"/><line x1="282.5" y1="549.9" x2="296.5" y2="496" stroke="#D8842F"/><line x1="380.6" y1="612.3" x2="394.6" y2="609.3" stroke="#5A7DC1"/><line x1="587.2" y1="620.8" x2="592.7" y2="623.1" stroke="#724E9B"/><circle cx="604.4" cy="469.8" r="5.0" fill="#724E9B"/><line x1="949.4" y1="597.6" x2="963.4" y2="618.8" stroke="#D8842F"/><line x1="963.4" y1="615.5" x2="977.4" y2="624.9" stroke="#5A7DC1"/><circle cx="949.4" cy="607.9" r="5.0" fill="#5A7DC1"/><line x1="963.4" y1="618.8" x2="977.4" y2="619.9" stroke="#D8842F"/><circle cx="963.4" cy="618.8" r="5.0" fill="#D8842F"/><circle cx="587.2" cy="620.8" r="5.0" fill="#724E9B"/><line x1="338.6" y1="537.1" x2="352.6" y2="597.8" stroke="#D8842F"/><line x1="592.7" y1="623.1" x2="598.2" y2="619.2" stroke="#724E9B"/><circle cx="963.4" cy="615.5" r="5.0" fill="#5A7DC1"/><line x1="977.4" y1="624.9" x2="991.5" y2="630" stroke="#5A7DC1"/><circle cx="592.7" cy="623.1" r="5.0" fill="#724E9B"/><line x1="282.5" y1="539.1" x2="296.5" y2="487.7" stroke="#5A7DC1"/><circle cx="977.4" cy="624.9" r="5.0" fill="#5A7DC1"/><circle cx="576.1" cy="604.5" r="5.0" fill="#724E9B"/><circle cx="949.4" cy="597.6" r="5.0" fill="#D8842F"/><circle cx="394.6" cy="610.6" r="5.0" fill="#D8842F"/><circle cx="394.6" cy="609.3" r="5.0" fill="#5A7DC1"/><circle cx="338.6" cy="558.4" r="5.0" fill="#5A7DC1"/><line x1="609.3" y1="623" x2="614.9" y2="630.7" stroke="#724E9B"/><line x1="977.4" y1="619.9" x2="991.5" y2="619.8" stroke="#D8842F"/><circle cx="977.4" cy="619.9" r="5.0" fill="#D8842F"/><circle cx="598.2" cy="619.2" r="5.0" fill="#724E9B"/><line x1="991.5" y1="630" x2="1005.5" y2="630.9" stroke="#5A7DC1"/><circle cx="358.4" cy="402.8" r="5.0" fill="#D8842F"/><circle cx="991.5" cy="630" r="5.0" fill="#5A7DC1"/><line x1="614.9" y1="630.7" x2="620.4" y2="626.1" stroke="#724E9B"/><circle cx="614.9" cy="630.7" r="5.0" fill="#724E9B"/><line x1="991.5" y1="619.8" x2="1005.5" y2="633" stroke="#D8842F"/><circle cx="609.3" cy="623" r="5.0" fill="#724E9B"/><line x1="620.4" y1="626.1" x2="625.9" y2="630.7" stroke="#724E9B"/><line x1="559.5" y1="608.5" x2="565" y2="534.6" stroke="#724E9B"/><line x1="1005.5" y1="633" x2="1019.5" y2="634.5" stroke="#D8842F"/><line x1="1005.5" y1="630.9" x2="1019.5" y2="635.2" stroke="#5A7DC1"/><line x1="598.2" y1="619.2" x2="603.8" y2="589.2" stroke="#724E9B"/><circle cx="1005.5" cy="633" r="5.0" fill="#D8842F"/><circle cx="991.5" cy="619.8" r="5.0" fill="#D8842F"/><circle cx="620.4" cy="626.1" r="5.0" fill="#724E9B"/><circle cx="1005.5" cy="630.9" r="5.0" fill="#5A7DC1"/><circle cx="625.9" cy="630.7" r="5.0" fill="#724E9B"/><line x1="603.8" y1="589.2" x2="609.3" y2="623" stroke="#724E9B"/><line x1="625.9" y1="630.7" x2="631.5" y2="620.6" stroke="#724E9B"/><line x1="570.6" y1="546.7" x2="576.1" y2="604.5" stroke="#724E9B"/><line x1="1019.5" y1="635.2" x2="1026.9" y2="635.2" stroke="#5A7DC1"/><line x1="1019.5" y1="634.5" x2="1026.9" y2="634.8" stroke="#D8842F"/><circle cx="338.6" cy="537.1" r="5.0" fill="#D8842F"/><line x1="831.5" y1="634.1" x2="845.5" y2="641.4" stroke="#5A7DC1"/><circle cx="831.5" cy="638" r="5.0" fill="#D8842F"/><circle cx="1019.5" cy="635.2" r="5.0" fill="#5A7DC1"/><line x1="642.6" y1="627.6" x2="648.1" y2="638.4" stroke="#724E9B"/><circle cx="1019.5" cy="634.5" r="5.0" fill="#D8842F"/><circle cx="296.5" cy="496" r="5.0" fill="#D8842F"/><line x1="831.5" y1="638" x2="845.5" y2="631.9" stroke="#D8842F"/><circle cx="831.5" cy="634.1" r="5.0" fill="#5A7DC1"/><line x1="648.1" y1="638.4" x2="653.6" y2="631.4" stroke="#724E9B"/><circle cx="648.1" cy="638.4" r="5.0" fill="#724E9B"/><line x1="631.5" y1="620.6" x2="637" y2="614.6" stroke="#724E9B"/><line x1="845.5" y1="641.4" x2="859.6" y2="644.4" stroke="#5A7DC1"/><circle cx="631.5" cy="620.6" r="5.0" fill="#724E9B"/><line x1="637" y1="614.6" x2="642.6" y2="627.6" stroke="#724E9B"/><circle cx="845.5" cy="641.4" r="5.0" fill="#5A7DC1"/><circle cx="296.5" cy="487.7" r="5.0" fill="#5A7DC1"/><circle cx="642.6" cy="627.6" r="5.0" fill="#724E9B"/><line x1="845.5" y1="631.9" x2="859.6" y2="641.5" stroke="#D8842F"/><circle cx="603.8" cy="589.2" r="5.0" fill="#724E9B"/><line x1="324.6" y1="455" x2="338.6" y2="558.4" stroke="#5A7DC1"/><circle cx="653.6" cy="631.4" r="5.0" fill="#724E9B"/><circle cx="845.5" cy="631.9" r="5.0" fill="#D8842F"/><circle cx="859.6" cy="644.4" r="5.0" fill="#5A7DC1"/><circle cx="637" cy="614.6" r="5.0" fill="#724E9B"/><line x1="859.6" y1="644.4" x2="873.6" y2="640" stroke="#5A7DC1"/><line x1="296.5" y1="487.7" x2="310.6" y2="467.1" stroke="#5A7DC1"/><line x1="859.6" y1="641.5" x2="873.6" y2="642.2" stroke="#D8842F"/><circle cx="859.6" cy="641.5" r="5.0" fill="#D8842F"/><line x1="296.5" y1="496" x2="310.6" y2="453" stroke="#D8842F"/><line x1="565" y1="534.6" x2="570.6" y2="546.7" stroke="#724E9B"/><circle cx="570.6" cy="546.7" r="5.0" fill="#724E9B"/><line x1="873.6" y1="642.2" x2="887.6" y2="647.3" stroke="#D8842F"/><line x1="324.6" y1="444.8" x2="338.6" y2="537.1" stroke="#D8842F"/><circle cx="873.6" cy="642.2" r="5.0" fill="#D8842F"/><circle cx="565" cy="534.6" r="5.0" fill="#724E9B"/><line x1="873.6" y1="640" x2="887.6" y2="641.5" stroke="#5A7DC1"/><circle cx="873.6" cy="640" r="5.0" fill="#5A7DC1"/><line x1="887.6" y1="641.5" x2="901.6" y2="654.5" stroke="#5A7DC1"/><circle cx="887.6" cy="647.3" r="5.0" fill="#D8842F"/><line x1="520.1" y1="653.5" x2="525.7" y2="651.9" stroke="#724E9B"/><line x1="514.6" y1="641.9" x2="520.1" y2="653.5" stroke="#724E9B"/><circle cx="310.6" cy="467.1" r="5.0" fill="#5A7DC1"/><line x1="887.6" y1="647.3" x2="901.6" y2="639.1" stroke="#D8842F"/><circle cx="520.1" cy="653.5" r="5.0" fill="#724E9B"/><circle cx="901.6" cy="654.5" r="5.0" fill="#5A7DC1"/><circle cx="887.6" cy="641.5" r="5.0" fill="#5A7DC1"/><line x1="310.6" y1="467.1" x2="324.6" y2="455" stroke="#5A7DC1"/><circle cx="525.7" cy="651.9" r="5.0" fill="#724E9B"/><circle cx="514.6" cy="641.9" r="5.0" fill="#724E9B"/><line x1="901.6" y1="654.5" x2="915.6" y2="637.6" stroke="#5A7DC1"/><circle cx="310.6" cy="453" r="5.0" fill="#D8842F"/><line x1="901.6" y1="639.1" x2="915.6" y2="645" stroke="#D8842F"/><circle cx="901.6" cy="639.1" r="5.0" fill="#D8842F"/><line x1="310.6" y1="453" x2="324.6" y2="444.8" stroke="#D8842F"/><line x1="547.8" y1="653.8" x2="553.4" y2="661.5" stroke="#724E9B"/><line x1="553.4" y1="661.5" x2="558.9" y2="663.1" stroke="#724E9B"/><line x1="542.3" y1="648" x2="547.8" y2="653.8" stroke="#724E9B"/><line x1="929.6" y1="655.3" x2="943.6" y2="664.1" stroke="#5A7DC1"/><line x1="915.6" y1="637.6" x2="929.6" y2="655.3" stroke="#5A7DC1"/><circle cx="553.4" cy="661.5" r="5.0" fill="#724E9B"/><line x1="915.6" y1="645" x2="929.6" y2="645.1" stroke="#D8842F"/><circle cx="915.6" cy="645" r="5.0" fill="#D8842F"/><circle cx="324.6" cy="455" r="5.0" fill="#5A7DC1"/><line x1="558.9" y1="663.1" x2="564.4" y2="656.7" stroke="#724E9B"/><circle cx="547.8" cy="653.8" r="5.0" fill="#724E9B"/><circle cx="929.6" cy="655.3" r="5.0" fill="#5A7DC1"/><circle cx="558.9" cy="663.1" r="5.0" fill="#724E9B"/><circle cx="542.3" cy="648" r="5.0" fill="#724E9B"/><line x1="929.6" y1="645.1" x2="943.6" y2="661.8" stroke="#D8842F"/><circle cx="943.6" cy="664.1" r="5.0" fill="#5A7DC1"/><line x1="943.6" y1="661.8" x2="957.7" y2="664" stroke="#D8842F"/><circle cx="915.6" cy="637.6" r="5.0" fill="#5A7DC1"/><line x1="525.7" y1="651.9" x2="531.2" y2="594.7" stroke="#724E9B"/><circle cx="943.6" cy="661.8" r="5.0" fill="#D8842F"/><line x1="943.6" y1="664.1" x2="957.7" y2="658.2" stroke="#5A7DC1"/><circle cx="324.6" cy="444.8" r="5.0" fill="#D8842F"/><circle cx="929.6" cy="645.1" r="5.0" fill="#D8842F"/><circle cx="564.4" cy="656.7" r="5.0" fill="#724E9B"/><line x1="957.7" y1="664" x2="971.7" y2="671.8" stroke="#D8842F"/><line x1="581.1" y1="660.7" x2="586.6" y2="669.4" stroke="#724E9B"/><circle cx="957.7" cy="664" r="5.0" fill="#D8842F"/><line x1="586.6" y1="669.4" x2="592.1" y2="665.5" stroke="#724E9B"/><line x1="957.7" y1="658.2" x2="971.7" y2="668" stroke="#5A7DC1"/><circle cx="586.6" cy="669.4" r="5.0" fill="#724E9B"/><line x1="971.7" y1="671.8" x2="985.7" y2="673.3" stroke="#D8842F"/><circle cx="971.7" cy="671.8" r="5.0" fill="#D8842F"/><line x1="592.1" y1="665.5" x2="597.7" y2="669.3" stroke="#724E9B"/><line x1="564.4" y1="656.7" x2="570" y2="628.4" stroke="#724E9B"/><line x1="971.7" y1="668" x2="985.7" y2="673.3" stroke="#5A7DC1"/><circle cx="957.7" cy="658.2" r="5.0" fill="#5A7DC1"/><circle cx="581.1" cy="660.7" r="5.0" fill="#724E9B"/><circle cx="971.7" cy="668" r="5.0" fill="#5A7DC1"/><line x1="575.5" y1="635.5" x2="581.1" y2="660.7" stroke="#724E9B"/><circle cx="592.1" cy="665.5" r="5.0" fill="#724E9B"/><line x1="985.7" y1="673.3" x2="993.1" y2="674.1" stroke="#D8842F"/><line x1="985.7" y1="673.3" x2="993.1" y2="674.1" stroke="#5A7DC1"/><circle cx="597.7" cy="669.3" r="5.0" fill="#724E9B"/><line x1="797.7" y1="672" x2="811.7" y2="679.1" stroke="#D8842F"/><circle cx="985.7" cy="673.3" r="5.0" fill="#D8842F"/><circle cx="985.7" cy="673.3" r="5.0" fill="#5A7DC1"/><circle cx="797.7" cy="673.7" r="5.0" fill="#5A7DC1"/><line x1="797.7" y1="673.7" x2="811.7" y2="672.7" stroke="#5A7DC1"/><circle cx="797.7" cy="672" r="5.0" fill="#D8842F"/><line x1="597.7" y1="669.3" x2="603.2" y2="647.1" stroke="#724E9B"/><line x1="570" y1="628.4" x2="575.5" y2="635.5" stroke="#724E9B"/><line x1="614.3" y1="670.2" x2="619.8" y2="673.1" stroke="#724E9B"/><line x1="811.7" y1="679.1" x2="825.8" y2="679.3" stroke="#D8842F"/><circle cx="811.7" cy="679.1" r="5.0" fill="#D8842F"/><line x1="608.8" y1="654.8" x2="614.3" y2="670.2" stroke="#724E9B"/><line x1="536.8" y1="547.7" x2="542.3" y2="648" stroke="#724E9B"/><line x1="811.7" y1="672.7" x2="825.8" y2="682.4" stroke="#5A7DC1"/><circle cx="575.5" cy="635.5" r="5.0" fill="#724E9B"/><circle cx="614.3" cy="670.2" r="5.0" fill="#724E9B"/><circle cx="531.2" cy="594.7" r="5.0" fill="#724E9B"/><circle cx="570" cy="628.4" r="5.0" fill="#724E9B"/><circle cx="619.8" cy="673.1" r="5.0" fill="#724E9B"/><circle cx="811.7" cy="672.7" r="5.0" fill="#5A7DC1"/><line x1="603.2" y1="647.1" x2="608.8" y2="654.8" stroke="#724E9B"/><line x1="825.8" y1="679.3" x2="839.8" y2="685.2" stroke="#D8842F"/><circle cx="825.8" cy="682.4" r="5.0" fill="#5A7DC1"/><line x1="825.8" y1="682.4" x2="839.8" y2="677.1" stroke="#5A7DC1"/><circle cx="825.8" cy="679.3" r="5.0" fill="#D8842F"/><circle cx="608.8" cy="654.8" r="5.0" fill="#724E9B"/><circle cx="603.2" cy="647.1" r="5.0" fill="#724E9B"/><circle cx="839.8" cy="685.2" r="5.0" fill="#D8842F"/><line x1="839.8" y1="685.2" x2="853.8" y2="680.9" stroke="#D8842F"/><line x1="531.2" y1="594.7" x2="536.8" y2="547.7" stroke="#724E9B"/><line x1="839.8" y1="677.1" x2="853.8" y2="682.4" stroke="#5A7DC1"/><circle cx="839.8" cy="677.1" r="5.0" fill="#5A7DC1"/><line x1="853.8" y1="680.9" x2="867.8" y2="684.5" stroke="#D8842F"/><line x1="853.8" y1="682.4" x2="867.8" y2="682.3" stroke="#5A7DC1"/><circle cx="853.8" cy="682.4" r="5.0" fill="#5A7DC1"/><circle cx="853.8" cy="680.9" r="5.0" fill="#D8842F"/><line x1="867.8" y1="684.5" x2="881.8" y2="685.2" stroke="#D8842F"/><circle cx="867.8" cy="684.5" r="5.0" fill="#D8842F"/><circle cx="867.8" cy="682.3" r="5.0" fill="#5A7DC1"/><circle cx="536.8" cy="547.7" r="5.0" fill="#724E9B"/><circle cx="881.8" cy="685.2" r="5.0" fill="#D8842F"/><line x1="867.8" y1="682.3" x2="881.8" y2="661.7" stroke="#5A7DC1"/><line x1="881.8" y1="685.2" x2="895.8" y2="671.3" stroke="#D8842F"/><line x1="909.8" y1="688.8" x2="923.9" y2="702.8" stroke="#5A7DC1"/><line x1="909.8" y1="687.5" x2="923.9" y2="702.8" stroke="#D8842F"/><line x1="923.9" y1="702.8" x2="937.9" y2="708.6" stroke="#5A7DC1"/><line x1="895.8" y1="671.3" x2="909.8" y2="687.5" stroke="#D8842F"/><line x1="895.8" y1="669.8" x2="909.8" y2="688.8" stroke="#5A7DC1"/><line x1="881.8" y1="661.7" x2="895.8" y2="669.8" stroke="#5A7DC1"/><line x1="923.9" y1="702.8" x2="937.9" y2="702.7" stroke="#D8842F"/><circle cx="923.9" cy="702.8" r="5.0" fill="#D8842F"/><circle cx="923.9" cy="702.8" r="5.0" fill="#5A7DC1"/><circle cx="909.8" cy="688.8" r="5.0" fill="#5A7DC1"/><circle cx="909.8" cy="687.5" r="5.0" fill="#D8842F"/><circle cx="881.8" cy="661.7" r="5.0" fill="#5A7DC1"/><circle cx="895.8" cy="671.3" r="5.0" fill="#D8842F"/><circle cx="937.9" cy="708.6" r="5.0" fill="#5A7DC1"/><circle cx="895.8" cy="669.8" r="5.0" fill="#5A7DC1"/><line x1="937.9" y1="702.7" x2="951.9" y2="711.5" stroke="#D8842F"/><circle cx="937.9" cy="702.7" r="5.0" fill="#D8842F"/><line x1="951.9" y1="711.5" x2="959.3" y2="712" stroke="#D8842F"/><line x1="937.9" y1="708.6" x2="951.9" y2="694.7" stroke="#5A7DC1"/><circle cx="951.9" cy="711.5" r="5.0" fill="#D8842F"/><line x1="763.9" y1="707.9" x2="777.9" y2="710.7" stroke="#D8842F"/><line x1="763.9" y1="704.4" x2="777.9" y2="713.4" stroke="#5A7DC1"/><circle cx="763.9" cy="707.9" r="5.0" fill="#D8842F"/><line x1="777.9" y1="713.4" x2="792" y2="720.1" stroke="#5A7DC1"/><circle cx="763.9" cy="704.4" r="5.0" fill="#5A7DC1"/><line x1="951.9" y1="694.7" x2="959.3" y2="700" stroke="#5A7DC1"/><circle cx="777.9" cy="713.4" r="5.0" fill="#5A7DC1"/><circle cx="777.9" cy="710.7" r="5.0" fill="#D8842F"/><line x1="777.9" y1="710.7" x2="792" y2="710.1" stroke="#D8842F"/><circle cx="951.9" cy="694.7" r="5.0" fill="#5A7DC1"/><line x1="792" y1="720.1" x2="806" y2="720.4" stroke="#5A7DC1"/><circle cx="792" cy="720.1" r="5.0" fill="#5A7DC1"/><line x1="792" y1="710.1" x2="806" y2="721.8" stroke="#D8842F"/><line x1="806" y1="720.4" x2="820" y2="726.9" stroke="#5A7DC1"/><line x1="806" y1="721.8" x2="820" y2="723.2" stroke="#D8842F"/><circle cx="792" cy="710.1" r="5.0" fill="#D8842F"/><circle cx="806" cy="721.8" r="5.0" fill="#D8842F"/><circle cx="806" cy="720.4" r="5.0" fill="#5A7DC1"/><circle cx="820" cy="726.9" r="5.0" fill="#5A7DC1"/><line x1="820" y1="723.2" x2="834" y2="726.6" stroke="#D8842F"/><circle cx="820" cy="723.2" r="5.0" fill="#D8842F"/><line x1="820" y1="726.9" x2="834" y2="716.9" stroke="#5A7DC1"/><line x1="834" y1="726.6" x2="848" y2="728" stroke="#D8842F"/><circle cx="834" cy="726.6" r="5.0" fill="#D8842F"/><circle cx="834" cy="716.9" r="5.0" fill="#5A7DC1"/><circle cx="848" cy="728" r="5.0" fill="#D8842F"/><line x1="834" y1="716.9" x2="848" y2="708.7" stroke="#5A7DC1"/><line x1="848" y1="728" x2="862" y2="711.3" stroke="#D8842F"/><circle cx="876" cy="735.6" r="5.0" fill="#5A7DC1"/><line x1="876" y1="735.6" x2="890.1" y2="734.9" stroke="#5A7DC1"/><circle cx="848" cy="708.7" r="5.0" fill="#5A7DC1"/><line x1="876" y1="723.2" x2="890.1" y2="742.5" stroke="#D8842F"/><line x1="890.1" y1="742.5" x2="904.1" y2="746" stroke="#D8842F"/><line x1="862" y1="711.3" x2="876" y2="723.2" stroke="#D8842F"/><circle cx="890.1" cy="742.5" r="5.0" fill="#D8842F"/><line x1="862" y1="696" x2="876" y2="735.6" stroke="#5A7DC1"/><line x1="848" y1="708.7" x2="862" y2="696" stroke="#5A7DC1"/><circle cx="862" cy="711.3" r="5.0" fill="#D8842F"/><circle cx="876" cy="723.2" r="5.0" fill="#D8842F"/><circle cx="890.1" cy="734.9" r="5.0" fill="#5A7DC1"/><line x1="890.1" y1="734.9" x2="904.1" y2="733.5" stroke="#5A7DC1"/><circle cx="904.1" cy="746" r="5.0" fill="#D8842F"/><line x1="904.1" y1="746" x2="918.1" y2="741.1" stroke="#D8842F"/><line x1="904.1" y1="733.5" x2="918.1" y2="748.1" stroke="#5A7DC1"/><line x1="918.1" y1="748.1" x2="925.5" y2="748.1" stroke="#5A7DC1"/><circle cx="918.1" cy="748.1" r="5.0" fill="#5A7DC1"/><circle cx="862" cy="696" r="5.0" fill="#5A7DC1"/><line x1="918.1" y1="741.1" x2="925.5" y2="744.8" stroke="#D8842F"/><circle cx="904.1" cy="733.5" r="5.0" fill="#5A7DC1"/><circle cx="918.1" cy="741.1" r="5.0" fill="#D8842F"/></g>
<line x1="183.2" y1="596" x2="183.2" y2="402.6" stroke="#262626" stroke-width="4.6" />
<line x1="183.2" y1="596" x2="908.6" y2="771.2" stroke="#262626" stroke-width="4.6" />
<line x1="908.6" y1="771.2" x2="1246.6" y2="394.5" stroke="#262626" stroke-width="4.6" />
<line x1="183.2" y1="596" x2="163.3" y2="591.2" stroke="#262626" stroke-width="4.6" />
<line x1="183.2" y1="499.3" x2="163.3" y2="494.5" stroke="#262626" stroke-width="4.6" />
<line x1="183.2" y1="402.6" x2="163.3" y2="397.8" stroke="#262626" stroke-width="4.6" />
<line x1="249.1" y1="611.9" x2="235.5" y2="627.2" stroke="#262626" stroke-width="4.6" />
<line x1="348.1" y1="635.8" x2="334.4" y2="651.1" stroke="#262626" stroke-width="4.6" />
<line x1="447" y1="659.7" x2="433.3" y2="675" stroke="#262626" stroke-width="4.6" />
<line x1="545.9" y1="683.6" x2="532.2" y2="698.9" stroke="#262626" stroke-width="4.6" />
<line x1="644.8" y1="707.5" x2="631.1" y2="722.7" stroke="#262626" stroke-width="4.6" />
<line x1="743.7" y1="731.4" x2="730" y2="746.6" stroke="#262626" stroke-width="4.6" />
<line x1="842.7" y1="755.3" x2="829" y2="770.5" stroke="#262626" stroke-width="4.6" />
<line x1="925.5" y1="752.4" x2="944" y2="756.8" stroke="#262626" stroke-width="4.6" />
<line x1="959.3" y1="714.7" x2="977.8" y2="719.2" stroke="#262626" stroke-width="4.6" />
<line x1="993.1" y1="677" x2="1011.6" y2="681.5" stroke="#262626" stroke-width="4.6" />
<line x1="1026.9" y1="639.4" x2="1045.4" y2="643.8" stroke="#262626" stroke-width="4.6" />
<line x1="1060.7" y1="601.7" x2="1079.2" y2="606.1" stroke="#262626" stroke-width="4.6" />
<line x1="1094.5" y1="564" x2="1113" y2="568.5" stroke="#262626" stroke-width="4.6" />
<line x1="1128.3" y1="526.3" x2="1146.8" y2="530.8" stroke="#262626" stroke-width="4.6" />
<line x1="1162.1" y1="488.7" x2="1180.6" y2="493.1" stroke="#262626" stroke-width="4.6" />
<line x1="1195.9" y1="451" x2="1214.4" y2="455.5" stroke="#262626" stroke-width="4.6" />
<line x1="1229.7" y1="413.3" x2="1248.2" y2="417.8" stroke="#262626" stroke-width="4.6" />
<path d="M139.68 381.21 L139.68 406.77 L136.33 406.77 L136.33 388.95 L130.32 388.95 L130.32 387.15 L134.03 385.97 L135.90 384.45 L137.16 382.29 L137.70 381.21Z" fill="#262626"/>
<text x="93.40" y="504.40" font-size="36" fill="#262626">0.5</text>
<text x="127.00" y="600.70" font-size="36" fill="#262626">0</text>
<text x="143.80" y="669.50" font-size="36" fill="#262626">-450</text>
<text x="242.50" y="695.00" font-size="36" fill="#262626">-300</text>
<text x="341.50" y="719.50" font-size="36" fill="#262626">-</text><path d="M365.58 693.94 L365.58 719.50 L362.24 719.50 L362.24 701.68 L356.22 701.68 L356.22 699.88 L359.93 698.69 L361.80 697.18 L363.06 695.02 L363.60 693.94Z" fill="#262626"/><text x="373.51" y="719.50" font-size="36" fill="#262626">50</text>
<text x="499.20" y="741.00" font-size="36" fill="#262626">0</text>
<path d="M564.47 740.94 L564.47 766.50 L561.12 766.50 L561.12 748.68 L555.11 748.68 L555.11 746.88 L558.82 745.69 L560.69 744.18 L561.95 742.02 L562.49 740.94Z" fill="#262626"/><text x="572.40" y="766.50" font-size="36" fill="#262626">50</text>
<text x="651.00" y="790.00" font-size="36" fill="#262626">300</text>
<text x="750.38" y="815.00" font-size="36" fill="#262626">450</text>
<path d="M969.10 768.98 L969.10 794.54 L965.75 794.54 L965.75 776.72 L959.74 776.72 L959.74 774.92 L963.44 773.73 L965.32 772.22 L966.58 770.06 L967.12 768.98Z" fill="#262626"/>
<text x="990.80" y="757.12" font-size="36" fill="#262626">2</text>
<text x="1024.60" y="719.33" font-size="36" fill="#262626">3</text>
<text x="1058.40" y="681.53" font-size="36" fill="#262626">4</text>
<text x="1092.20" y="643.74" font-size="36" fill="#262626">5</text>
<text x="1126.00" y="606.32" font-size="36" fill="#262626">6</text>
<text x="1159.80" y="568.52" font-size="36" fill="#262626">7</text>
<text x="1193.60" y="530.98" font-size="36" fill="#262626">8</text>
<text x="1227.40" y="493.31" font-size="36" fill="#262626">9</text>
<path d="M1273.30 430.08 L1273.30 455.64 L1269.95 455.64 L1269.95 437.82 L1263.94 437.82 L1263.94 436.02 L1267.64 434.83 L1269.52 433.32 L1270.78 431.16 L1271.32 430.08Z" fill="#262626"/><text x="1281.22" y="455.64" font-size="36" fill="#262626">0</text>
<line x1="200.1" y1="1504.7" x2="925.5" y2="1679.9" stroke="#c4c4c4" stroke-width="1.3" />
<line x1="200.1" y1="1504.7" x2="200.1" y2="1311.3" stroke="#c4c4c4" stroke-width="1.3" />
<line x1="233.9" y1="1467" x2="959.3" y2="1642.2" stroke="#c4c4c4" stroke-width="1.3" />
<line x1="233.9" y1="1467" x2="233.9" y2="1273.6" stroke="#c4c4c4" stroke-width="1.3" />
<line x1="267.7" y1="1429.3" x2="993.1" y2="1604.5" stroke="#c4c4c4" stroke-width="1.3" />
<line x1="267.7" y1="1429.3" x2="267.7" y2="1235.9" stroke="#c4c4c4" stroke-width="1.3" />
<line x1="301.5" y1="1391.7" x2="1026.9" y2="1566.9" stroke="#c4c4c4" stroke-width="1.3" />
<line x1="301.5" y1="1391.7" x2="301.5" y2="1198.3" stroke="#c4c4c4" stroke-width="1.3" />
<line x1="335.3" y1="1354" x2="1060.7" y2="1529.2" stroke="#c4c4c4" stroke-width="1.3" />
<line x1="335.3" y1="1354" x2="335.3" y2="1160.6" stroke="#c4c4c4" stroke-width="1.3" />
<line x1="369.1" y1="1316.3" x2="1094.5" y2="1491.5" stroke="#c4c4c4" stroke-width="1.3" />
<line x1="369.1" y1="1316.3" x2="369.1" y2="1122.9" stroke="#c4c4c4" stroke-width="1.3" />
<line x1="402.9" y1="1278.6" x2="1128.3" y2="1453.8" stroke="#c4c4c4" stroke-width="1.3" />
<line x1="402.9" y1="1278.6" x2="402.9" y2="1085.2" stroke="#c4c4c4" stroke-width="1.3" />
<line x1="436.7" y1="1241" x2="1162.1" y2="1416.2" stroke="#c4c4c4" stroke-width="1.3" />
<line x1="436.7" y1="1241" x2="436.7" y2="1047.6" stroke="#c4c4c4" stroke-width="1.3" />
<line x1="470.5" y1="1203.3" x2="1195.9" y2="1378.5" stroke="#c4c4c4" stroke-width="1.3" />
<line x1="470.5" y1="1203.3" x2="470.5" y2="1009.9" stroke="#c4c4c4" stroke-width="1.3" />
<line x1="504.3" y1="1165.6" x2="1229.7" y2="1340.8" stroke="#c4c4c4" stroke-width="1.3" />
<line x1="504.3" y1="1165.6" x2="504.3" y2="972.2" stroke="#c4c4c4" stroke-width="1.3" />
<line x1="183.2" y1="1330.1" x2="521.2" y2="953.4" stroke="#262626" stroke-width="4.6" />
<line x1="521.2" y1="953.4" x2="521.2" y2="1146.8" stroke="#262626" stroke-width="4.6" />
<line x1="521.2" y1="953.4" x2="1246.6" y2="1128.6" stroke="#262626" stroke-width="4.6" />
<line x1="1246.6" y1="1128.6" x2="1246.6" y2="1322" stroke="#262626" stroke-width="4.6" />
<line x1="183.2" y1="1523.5" x2="521.2" y2="1146.8" stroke="#262626" stroke-width="4.6" />
<line x1="521.2" y1="1146.8" x2="1246.6" y2="1322" stroke="#262626" stroke-width="4.6" />
<g stroke-width="4.3" stroke-linecap="round"><line x1="567.8" y1="1175.2" x2="584.4" y2="1183" stroke="#5A7DC1"/><line x1="567.8" y1="1173.4" x2="584.4" y2="1179.6" stroke="#D8842F"/><circle cx="567.8" cy="1175.2" r="5.0" fill="#5A7DC1"/><circle cx="567.8" cy="1173.4" r="5.0" fill="#D8842F"/><circle cx="584.4" cy="1183" r="5.0" fill="#5A7DC1"/><circle cx="584.4" cy="1179.6" r="5.0" fill="#D8842F"/><line x1="584.4" y1="1183" x2="600.9" y2="1125.5" stroke="#5A7DC1"/><line x1="584.4" y1="1179.6" x2="600.9" y2="1120.3" stroke="#D8842F"/><line x1="650.5" y1="1191.1" x2="667.1" y2="1199.9" stroke="#5A7DC1"/><circle cx="650.5" cy="1191.1" r="5.0" fill="#5A7DC1"/><line x1="667.1" y1="1199.9" x2="683.6" y2="1203.5" stroke="#5A7DC1"/><circle cx="667.1" cy="1199.9" r="5.0" fill="#5A7DC1"/><line x1="650.5" y1="1177" x2="667.1" y2="1190.3" stroke="#D8842F"/><line x1="667.1" y1="1190.3" x2="683.6" y2="1203.5" stroke="#D8842F"/><circle cx="650.5" cy="1177" r="5.0" fill="#D8842F"/><circle cx="667.1" cy="1190.3" r="5.0" fill="#D8842F"/><circle cx="683.6" cy="1203.5" r="5.0" fill="#D8842F"/><circle cx="683.6" cy="1203.5" r="5.0" fill="#5A7DC1"/><circle cx="600.9" cy="1125.5" r="5.0" fill="#5A7DC1"/><circle cx="600.9" cy="1120.3" r="5.0" fill="#D8842F"/><line x1="634" y1="1095.6" x2="650.5" y2="1191.1" stroke="#5A7DC1"/><line x1="534" y1="1210.9" x2="550.6" y2="1214.9" stroke="#5A7DC1"/><line x1="534" y1="1210.5" x2="550.6" y2="1214.9" stroke="#D8842F"/><circle cx="534" cy="1210.9" r="5.0" fill="#5A7DC1"/><circle cx="534" cy="1210.5" r="5.0" fill="#D8842F"/><line x1="634" y1="1084" x2="650.5" y2="1177" stroke="#D8842F"/><circle cx="550.6" cy="1214.9" r="5.0" fill="#D8842F"/><circle cx="550.6" cy="1214.9" r="5.0" fill="#5A7DC1"/><line x1="600.9" y1="1120.3" x2="617.5" y2="1038.1" stroke="#D8842F"/><line x1="550.6" y1="1214.9" x2="567.1" y2="1192" stroke="#5A7DC1"/><line x1="776" y1="1229.9" x2="783.3" y2="1229.1" stroke="#724E9B"/><line x1="600.9" y1="1125.5" x2="617.5" y2="1024.7" stroke="#5A7DC1"/><circle cx="776" cy="1229.9" r="5.0" fill="#724E9B"/><line x1="783.3" y1="1229.1" x2="790.5" y2="1233" stroke="#724E9B"/><line x1="550.6" y1="1214.9" x2="567.1" y2="1173.5" stroke="#D8842F"/><line x1="790.5" y1="1233" x2="797.7" y2="1234.6" stroke="#724E9B"/><circle cx="634" cy="1095.6" r="5.0" fill="#5A7DC1"/><circle cx="783.3" cy="1229.1" r="5.0" fill="#724E9B"/><circle cx="790.5" cy="1233" r="5.0" fill="#724E9B"/><line x1="797.7" y1="1234.6" x2="805" y2="1228.4" stroke="#724E9B"/><circle cx="797.7" cy="1234.6" r="5.0" fill="#724E9B"/><circle cx="634" cy="1084" r="5.0" fill="#D8842F"/><circle cx="567.1" cy="1192" r="5.0" fill="#5A7DC1"/><line x1="616.7" y1="1229.1" x2="633.3" y2="1236.2" stroke="#5A7DC1"/><line x1="617.5" y1="1038.1" x2="634" y2="1084" stroke="#D8842F"/><circle cx="805" cy="1228.4" r="5.0" fill="#724E9B"/><circle cx="616.7" cy="1229.1" r="5.0" fill="#5A7DC1"/><line x1="617.5" y1="1024.7" x2="634" y2="1095.6" stroke="#5A7DC1"/><line x1="616.7" y1="1216.8" x2="633.3" y2="1236.2" stroke="#D8842F"/><line x1="633.3" y1="1236.2" x2="649.8" y2="1242.4" stroke="#D8842F"/><line x1="633.3" y1="1236.2" x2="649.8" y2="1242.4" stroke="#5A7DC1"/><circle cx="633.3" cy="1236.2" r="5.0" fill="#D8842F"/><circle cx="633.3" cy="1236.2" r="5.0" fill="#5A7DC1"/><line x1="833.9" y1="1240" x2="841.1" y2="1242.3" stroke="#724E9B"/><circle cx="567.1" cy="1173.5" r="5.0" fill="#D8842F"/><circle cx="616.7" cy="1216.8" r="5.0" fill="#D8842F"/><line x1="826.7" y1="1221.4" x2="833.9" y2="1240" stroke="#724E9B"/><line x1="841.1" y1="1242.3" x2="848.4" y2="1244.7" stroke="#724E9B"/><circle cx="833.9" cy="1240" r="5.0" fill="#724E9B"/><circle cx="649.8" cy="1242.4" r="5.0" fill="#D8842F"/><circle cx="649.8" cy="1242.4" r="5.0" fill="#5A7DC1"/><circle cx="841.1" cy="1242.3" r="5.0" fill="#724E9B"/><circle cx="617.5" cy="1038.1" r="5.0" fill="#D8842F"/><circle cx="848.4" cy="1244.7" r="5.0" fill="#724E9B"/><circle cx="826.7" cy="1221.4" r="5.0" fill="#724E9B"/><line x1="848.4" y1="1244.7" x2="855.6" y2="1227.7" stroke="#724E9B"/><line x1="600.2" y1="1142.4" x2="616.7" y2="1229.1" stroke="#5A7DC1"/><circle cx="617.5" cy="1024.7" r="5.0" fill="#5A7DC1"/><line x1="805" y1="1228.4" x2="812.2" y2="1138.5" stroke="#724E9B"/><line x1="877.3" y1="1243.9" x2="884.5" y2="1250.7" stroke="#724E9B"/><line x1="884.5" y1="1250.7" x2="891.8" y2="1256.9" stroke="#724E9B"/><line x1="891.8" y1="1256.9" x2="899" y2="1258.4" stroke="#724E9B"/><circle cx="855.6" cy="1227.7" r="5.0" fill="#724E9B"/><line x1="500.2" y1="1246.7" x2="516.8" y2="1253" stroke="#5A7DC1"/><line x1="600.2" y1="1120.3" x2="616.7" y2="1216.8" stroke="#D8842F"/><line x1="500.2" y1="1242.8" x2="516.8" y2="1253" stroke="#D8842F"/><circle cx="500.2" cy="1246.7" r="5.0" fill="#5A7DC1"/><circle cx="884.5" cy="1250.7" r="5.0" fill="#724E9B"/><circle cx="877.3" cy="1243.9" r="5.0" fill="#724E9B"/><circle cx="891.8" cy="1256.9" r="5.0" fill="#724E9B"/><circle cx="500.2" cy="1242.8" r="5.0" fill="#D8842F"/><line x1="567.1" y1="1192" x2="583.7" y2="1071.7" stroke="#5A7DC1"/><circle cx="899" cy="1258.4" r="5.0" fill="#724E9B"/><line x1="899" y1="1258.4" x2="906.2" y2="1249.2" stroke="#724E9B"/><circle cx="516.8" cy="1253" r="5.0" fill="#D8842F"/><circle cx="516.8" cy="1253" r="5.0" fill="#5A7DC1"/><line x1="819.4" y1="1136.9" x2="826.7" y2="1221.4" stroke="#724E9B"/><line x1="567.1" y1="1173.5" x2="583.7" y2="1075.1" stroke="#D8842F"/><line x1="906.2" y1="1249.2" x2="913.4" y2="1253" stroke="#724E9B"/><line x1="913.4" y1="1253" x2="920.7" y2="1258.5" stroke="#724E9B"/><circle cx="906.2" cy="1249.2" r="5.0" fill="#724E9B"/><circle cx="600.2" cy="1142.4" r="5.0" fill="#5A7DC1"/><circle cx="913.4" cy="1253" r="5.0" fill="#724E9B"/><circle cx="920.7" cy="1258.5" r="5.0" fill="#724E9B"/><line x1="742.2" y1="1260" x2="749.5" y2="1268.6" stroke="#724E9B"/><line x1="870.1" y1="1170" x2="877.3" y2="1243.9" stroke="#724E9B"/><line x1="749.5" y1="1268.6" x2="756.7" y2="1268.6" stroke="#724E9B"/><circle cx="749.5" cy="1268.6" r="5.0" fill="#724E9B"/><line x1="516.8" y1="1253" x2="533.3" y2="1206.3" stroke="#D8842F"/><circle cx="742.2" cy="1260" r="5.0" fill="#724E9B"/><line x1="855.6" y1="1227.7" x2="862.8" y2="1144.7" stroke="#724E9B"/><line x1="516.8" y1="1253" x2="533.3" y2="1198.2" stroke="#5A7DC1"/><line x1="756.7" y1="1268.6" x2="763.9" y2="1263.9" stroke="#724E9B"/><circle cx="756.7" cy="1268.6" r="5.0" fill="#724E9B"/><line x1="763.9" y1="1263.9" x2="771.2" y2="1267.6" stroke="#724E9B"/><line x1="812.2" y1="1138.5" x2="819.4" y2="1136.9" stroke="#724E9B"/><line x1="583.7" y1="1071.7" x2="600.2" y2="1142.4" stroke="#5A7DC1"/><circle cx="600.2" cy="1120.3" r="5.0" fill="#D8842F"/><circle cx="812.2" cy="1138.5" r="5.0" fill="#724E9B"/><circle cx="763.9" cy="1263.9" r="5.0" fill="#724E9B"/><circle cx="771.2" cy="1267.6" r="5.0" fill="#724E9B"/><line x1="583.7" y1="1075.1" x2="600.2" y2="1120.3" stroke="#D8842F"/><circle cx="819.4" cy="1136.9" r="5.0" fill="#724E9B"/><line x1="582.9" y1="1257" x2="599.5" y2="1272.6" stroke="#5A7DC1"/><line x1="582.9" y1="1253.1" x2="599.5" y2="1270.6" stroke="#D8842F"/><line x1="599.5" y1="1272.6" x2="616" y2="1276.5" stroke="#5A7DC1"/><line x1="599.5" y1="1270.6" x2="616" y2="1276.5" stroke="#D8842F"/><circle cx="599.5" cy="1272.6" r="5.0" fill="#5A7DC1"/><circle cx="582.9" cy="1257" r="5.0" fill="#5A7DC1"/><circle cx="599.5" cy="1270.6" r="5.0" fill="#D8842F"/><line x1="800.1" y1="1276.9" x2="807.3" y2="1276.1" stroke="#724E9B"/><line x1="792.9" y1="1260.1" x2="800.1" y2="1276.9" stroke="#724E9B"/><circle cx="582.9" cy="1253.1" r="5.0" fill="#D8842F"/><circle cx="870.1" cy="1170" r="5.0" fill="#724E9B"/><circle cx="800.1" cy="1276.9" r="5.0" fill="#724E9B"/><line x1="807.3" y1="1276.1" x2="814.6" y2="1282.3" stroke="#724E9B"/><circle cx="533.3" cy="1206.3" r="5.0" fill="#D8842F"/><line x1="862.8" y1="1144.7" x2="870.1" y2="1170" stroke="#724E9B"/><circle cx="616" cy="1276.5" r="5.0" fill="#D8842F"/><circle cx="616" cy="1276.5" r="5.0" fill="#5A7DC1"/><circle cx="807.3" cy="1276.1" r="5.0" fill="#724E9B"/><circle cx="583.7" cy="1075.1" r="5.0" fill="#D8842F"/><circle cx="814.6" cy="1282.3" r="5.0" fill="#724E9B"/><circle cx="533.3" cy="1198.2" r="5.0" fill="#5A7DC1"/><line x1="814.6" y1="1282.3" x2="821.8" y2="1270.7" stroke="#724E9B"/><circle cx="792.9" cy="1260.1" r="5.0" fill="#724E9B"/><circle cx="583.7" cy="1071.7" r="5.0" fill="#5A7DC1"/><line x1="566.4" y1="1192" x2="582.9" y2="1257" stroke="#5A7DC1"/><circle cx="862.8" cy="1144.7" r="5.0" fill="#724E9B"/><line x1="771.2" y1="1267.6" x2="778.4" y2="1187" stroke="#724E9B"/><circle cx="821.8" cy="1270.7" r="5.0" fill="#724E9B"/><line x1="850.7" y1="1289.9" x2="858" y2="1293" stroke="#724E9B"/><line x1="466.4" y1="1286.3" x2="483" y2="1290.3" stroke="#D8842F"/><line x1="466.4" y1="1286.3" x2="483" y2="1290.3" stroke="#5A7DC1"/><line x1="843.5" y1="1273.1" x2="850.7" y2="1289.9" stroke="#724E9B"/><circle cx="466.4" cy="1286.3" r="5.0" fill="#D8842F"/><circle cx="466.4" cy="1286.3" r="5.0" fill="#5A7DC1"/><circle cx="850.7" cy="1289.9" r="5.0" fill="#724E9B"/><line x1="858" y1="1293" x2="865.2" y2="1289.9" stroke="#724E9B"/><line x1="566.4" y1="1154.7" x2="582.9" y2="1253.1" stroke="#D8842F"/><circle cx="858" cy="1293" r="5.0" fill="#724E9B"/><circle cx="483" cy="1290.3" r="5.0" fill="#D8842F"/><circle cx="483" cy="1290.3" r="5.0" fill="#5A7DC1"/><circle cx="843.5" cy="1273.1" r="5.0" fill="#724E9B"/><circle cx="1062.7" cy="1298.6" r="5.0" fill="#5A7DC1"/><line x1="1062.7" y1="1298.6" x2="1079.3" y2="1298.5" stroke="#5A7DC1"/><circle cx="865.2" cy="1289.9" r="5.0" fill="#724E9B"/><circle cx="566.4" cy="1192" r="5.0" fill="#5A7DC1"/><line x1="785.6" y1="1170" x2="792.9" y2="1260.1" stroke="#724E9B"/><line x1="865.2" y1="1289.9" x2="872.4" y2="1281.6" stroke="#724E9B"/><circle cx="1062.7" cy="1295.9" r="5.0" fill="#D8842F"/><line x1="1062.7" y1="1295.9" x2="1079.3" y2="1295.8" stroke="#D8842F"/><line x1="872.4" y1="1281.6" x2="879.6" y2="1289.2" stroke="#724E9B"/><line x1="879.6" y1="1289.2" x2="886.9" y2="1293" stroke="#724E9B"/><line x1="533.3" y1="1206.3" x2="549.9" y2="1101.8" stroke="#D8842F"/><line x1="533.3" y1="1198.2" x2="549.9" y2="1105.9" stroke="#5A7DC1"/><line x1="1079.3" y1="1298.5" x2="1095.8" y2="1304" stroke="#5A7DC1"/><line x1="708.4" y1="1301" x2="715.7" y2="1305.3" stroke="#724E9B"/><circle cx="1079.3" cy="1298.5" r="5.0" fill="#5A7DC1"/><circle cx="879.6" cy="1289.2" r="5.0" fill="#724E9B"/><circle cx="872.4" cy="1281.6" r="5.0" fill="#724E9B"/><line x1="1079.3" y1="1295.8" x2="1095.8" y2="1299.4" stroke="#D8842F"/><circle cx="1079.3" cy="1295.8" r="5.0" fill="#D8842F"/><line x1="715.7" y1="1305.3" x2="722.9" y2="1307.8" stroke="#724E9B"/><circle cx="886.9" cy="1293" r="5.0" fill="#724E9B"/><line x1="821.8" y1="1270.7" x2="829" y2="1190.7" stroke="#724E9B"/><circle cx="708.4" cy="1301" r="5.0" fill="#724E9B"/><circle cx="715.7" cy="1305.3" r="5.0" fill="#724E9B"/><line x1="722.9" y1="1307.8" x2="730.1" y2="1306.2" stroke="#724E9B"/><circle cx="1095.8" cy="1304" r="5.0" fill="#5A7DC1"/><line x1="836.3" y1="1203.1" x2="843.5" y2="1273.1" stroke="#724E9B"/><circle cx="722.9" cy="1307.8" r="5.0" fill="#724E9B"/><circle cx="778.4" cy="1187" r="5.0" fill="#724E9B"/><circle cx="1095.8" cy="1299.4" r="5.0" fill="#D8842F"/><line x1="1095.8" y1="1299.4" x2="1112.3" y2="1300.5" stroke="#D8842F"/><line x1="483" y1="1290.3" x2="499.5" y2="1229.1" stroke="#D8842F"/><line x1="549.9" y1="1105.9" x2="566.4" y2="1192" stroke="#5A7DC1"/><line x1="1095.8" y1="1304" x2="1112.3" y2="1292.2" stroke="#5A7DC1"/><line x1="778.4" y1="1187" x2="785.6" y2="1170" stroke="#724E9B"/><line x1="730.1" y1="1306.2" x2="737.4" y2="1303.5" stroke="#724E9B"/><circle cx="730.1" cy="1306.2" r="5.0" fill="#724E9B"/><line x1="1112.3" y1="1300.5" x2="1128.9" y2="1313.4" stroke="#D8842F"/><circle cx="566.4" cy="1154.7" r="5.0" fill="#D8842F"/><line x1="483" y1="1290.3" x2="499.5" y2="1211.5" stroke="#5A7DC1"/><circle cx="1112.3" cy="1300.5" r="5.0" fill="#D8842F"/><circle cx="737.4" cy="1303.5" r="5.0" fill="#724E9B"/><line x1="1112.3" y1="1292.2" x2="1128.9" y2="1306.8" stroke="#5A7DC1"/><circle cx="1128.9" cy="1313.4" r="5.0" fill="#D8842F"/><line x1="1128.9" y1="1313.4" x2="1145.4" y2="1310.6" stroke="#D8842F"/><line x1="1128.9" y1="1306.8" x2="1145.4" y2="1314.5" stroke="#5A7DC1"/><circle cx="785.6" cy="1170" r="5.0" fill="#724E9B"/><circle cx="1112.3" cy="1292.2" r="5.0" fill="#5A7DC1"/><circle cx="1128.9" cy="1306.8" r="5.0" fill="#5A7DC1"/><line x1="549.9" y1="1101.8" x2="566.4" y2="1154.7" stroke="#D8842F"/><line x1="549.1" y1="1285" x2="565.7" y2="1310.2" stroke="#5A7DC1"/><line x1="565.7" y1="1310.2" x2="582.2" y2="1314.2" stroke="#5A7DC1"/><line x1="565.7" y1="1308.3" x2="582.2" y2="1314.2" stroke="#D8842F"/><circle cx="565.7" cy="1310.2" r="5.0" fill="#5A7DC1"/><circle cx="565.7" cy="1308.3" r="5.0" fill="#D8842F"/><line x1="766.3" y1="1310.9" x2="773.5" y2="1316.5" stroke="#724E9B"/><line x1="1145.4" y1="1310.6" x2="1161.9" y2="1322.5" stroke="#D8842F"/><line x1="759.1" y1="1301.6" x2="766.3" y2="1310.9" stroke="#724E9B"/><line x1="1145.4" y1="1314.5" x2="1161.9" y2="1318.1" stroke="#5A7DC1"/><line x1="549.1" y1="1275.3" x2="565.7" y2="1308.3" stroke="#D8842F"/><circle cx="1145.4" cy="1314.5" r="5.0" fill="#5A7DC1"/><line x1="773.5" y1="1316.5" x2="780.8" y2="1318.3" stroke="#724E9B"/><line x1="829" y1="1190.7" x2="836.3" y2="1203.1" stroke="#724E9B"/><circle cx="1145.4" cy="1310.6" r="5.0" fill="#D8842F"/><circle cx="766.3" cy="1310.9" r="5.0" fill="#724E9B"/><circle cx="836.3" cy="1203.1" r="5.0" fill="#724E9B"/><circle cx="773.5" cy="1316.5" r="5.0" fill="#724E9B"/><circle cx="549.1" cy="1285" r="5.0" fill="#5A7DC1"/><circle cx="582.2" cy="1314.2" r="5.0" fill="#D8842F"/><circle cx="582.2" cy="1314.2" r="5.0" fill="#5A7DC1"/><circle cx="759.1" cy="1301.6" r="5.0" fill="#724E9B"/><circle cx="1161.9" cy="1322.5" r="5.0" fill="#D8842F"/><line x1="1161.9" y1="1322.5" x2="1178.5" y2="1319.8" stroke="#D8842F"/><circle cx="780.8" cy="1318.3" r="5.0" fill="#724E9B"/><line x1="1161.9" y1="1318.1" x2="1178.5" y2="1322.5" stroke="#5A7DC1"/><circle cx="829" cy="1190.7" r="5.0" fill="#724E9B"/><line x1="780.8" y1="1318.3" x2="788" y2="1308.4" stroke="#724E9B"/><circle cx="1161.9" cy="1318.1" r="5.0" fill="#5A7DC1"/><circle cx="549.9" cy="1105.9" r="5.0" fill="#5A7DC1"/><circle cx="549.1" cy="1275.3" r="5.0" fill="#D8842F"/><circle cx="499.5" cy="1229.1" r="5.0" fill="#D8842F"/><circle cx="549.9" cy="1101.8" r="5.0" fill="#D8842F"/><circle cx="1178.5" cy="1322.5" r="5.0" fill="#5A7DC1"/><circle cx="1178.5" cy="1319.8" r="5.0" fill="#D8842F"/><line x1="432.6" y1="1328.4" x2="449.2" y2="1333.9" stroke="#5A7DC1"/><circle cx="788" cy="1308.4" r="5.0" fill="#724E9B"/><line x1="737.4" y1="1303.5" x2="744.6" y2="1214.6" stroke="#724E9B"/><circle cx="432.6" cy="1328.4" r="5.0" fill="#5A7DC1"/><line x1="532.6" y1="1210.6" x2="549.1" y2="1285" stroke="#5A7DC1"/><line x1="816.9" y1="1325.1" x2="824.2" y2="1328.8" stroke="#724E9B"/><line x1="432.6" y1="1317.7" x2="449.2" y2="1330" stroke="#D8842F"/><line x1="809.7" y1="1308.4" x2="816.9" y2="1325.1" stroke="#724E9B"/><line x1="824.2" y1="1328.8" x2="831.4" y2="1330.5" stroke="#724E9B"/><circle cx="499.5" cy="1211.5" r="5.0" fill="#5A7DC1"/><circle cx="816.9" cy="1325.1" r="5.0" fill="#724E9B"/><circle cx="449.2" cy="1333.9" r="5.0" fill="#5A7DC1"/><line x1="831.4" y1="1330.5" x2="838.6" y2="1334.2" stroke="#724E9B"/><circle cx="824.2" cy="1328.8" r="5.0" fill="#724E9B"/><circle cx="432.6" cy="1317.7" r="5.0" fill="#D8842F"/><line x1="532.6" y1="1198.2" x2="549.1" y2="1275.3" stroke="#D8842F"/><circle cx="449.2" cy="1330" r="5.0" fill="#D8842F"/><line x1="838.6" y1="1334.2" x2="845.8" y2="1335.9" stroke="#724E9B"/><line x1="1028.9" y1="1336.4" x2="1045.5" y2="1340.2" stroke="#D8842F"/><circle cx="831.4" cy="1330.5" r="5.0" fill="#724E9B"/><circle cx="1028.9" cy="1336.4" r="5.0" fill="#D8842F"/><line x1="751.8" y1="1206.1" x2="759.1" y2="1301.6" stroke="#724E9B"/><circle cx="809.7" cy="1308.4" r="5.0" fill="#724E9B"/><circle cx="838.6" cy="1334.2" r="5.0" fill="#724E9B"/><line x1="1028.9" y1="1333.7" x2="1045.5" y2="1336.4" stroke="#5A7DC1"/><line x1="845.8" y1="1335.9" x2="853.1" y2="1337.7" stroke="#724E9B"/><circle cx="1028.9" cy="1333.7" r="5.0" fill="#5A7DC1"/><circle cx="845.8" cy="1335.9" r="5.0" fill="#724E9B"/><line x1="449.2" y1="1333.9" x2="465.7" y2="1307" stroke="#5A7DC1"/><circle cx="1045.5" cy="1340.2" r="5.0" fill="#D8842F"/><circle cx="853.1" cy="1337.7" r="5.0" fill="#724E9B"/><line x1="499.5" y1="1229.1" x2="516.1" y2="1153" stroke="#D8842F"/><line x1="1045.5" y1="1340.2" x2="1062" y2="1340.2" stroke="#D8842F"/><line x1="1045.5" y1="1336.4" x2="1062" y2="1343.8" stroke="#5A7DC1"/><line x1="674.6" y1="1340.2" x2="681.9" y2="1342" stroke="#724E9B"/><circle cx="1045.5" cy="1336.4" r="5.0" fill="#5A7DC1"/><circle cx="674.6" cy="1340.2" r="5.0" fill="#724E9B"/><line x1="681.9" y1="1342" x2="689.1" y2="1342" stroke="#724E9B"/><line x1="449.2" y1="1330" x2="465.7" y2="1283.8" stroke="#D8842F"/><circle cx="532.6" cy="1210.6" r="5.0" fill="#5A7DC1"/><line x1="788" y1="1308.4" x2="795.2" y2="1221.6" stroke="#724E9B"/><circle cx="1062" cy="1343.8" r="5.0" fill="#5A7DC1"/><line x1="499.5" y1="1211.5" x2="516.1" y2="1148.5" stroke="#5A7DC1"/><line x1="802.5" y1="1246.2" x2="809.7" y2="1308.4" stroke="#724E9B"/><circle cx="681.9" cy="1342" r="5.0" fill="#724E9B"/><line x1="689.1" y1="1342" x2="696.3" y2="1343.7" stroke="#724E9B"/><circle cx="1062" cy="1340.2" r="5.0" fill="#D8842F"/><line x1="1062" y1="1343.8" x2="1078.5" y2="1332.8" stroke="#5A7DC1"/><line x1="1062" y1="1340.2" x2="1078.5" y2="1335.7" stroke="#D8842F"/><circle cx="689.1" cy="1342" r="5.0" fill="#724E9B"/><line x1="696.3" y1="1343.7" x2="703.6" y2="1343.5" stroke="#724E9B"/><circle cx="532.6" cy="1198.2" r="5.0" fill="#D8842F"/><circle cx="696.3" cy="1343.7" r="5.0" fill="#724E9B"/><circle cx="465.7" cy="1307" r="5.0" fill="#5A7DC1"/><circle cx="744.6" cy="1214.6" r="5.0" fill="#724E9B"/><line x1="744.6" y1="1214.6" x2="751.8" y2="1206.1" stroke="#724E9B"/><line x1="516.1" y1="1148.5" x2="532.6" y2="1210.6" stroke="#5A7DC1"/><line x1="1078.5" y1="1335.7" x2="1095.1" y2="1345.6" stroke="#D8842F"/><circle cx="703.6" cy="1343.5" r="5.0" fill="#724E9B"/><line x1="516.1" y1="1153" x2="532.6" y2="1198.2" stroke="#D8842F"/><circle cx="1078.5" cy="1335.7" r="5.0" fill="#D8842F"/><line x1="1078.5" y1="1332.8" x2="1095.1" y2="1338.3" stroke="#5A7DC1"/><line x1="1095.1" y1="1345.6" x2="1111.6" y2="1355.1" stroke="#D8842F"/><circle cx="1078.5" cy="1332.8" r="5.0" fill="#5A7DC1"/><circle cx="1095.1" cy="1345.6" r="5.0" fill="#D8842F"/><line x1="1095.1" y1="1338.3" x2="1111.6" y2="1352.2" stroke="#5A7DC1"/><line x1="515.3" y1="1322.6" x2="531.9" y2="1347.9" stroke="#5A7DC1"/><circle cx="751.8" cy="1206.1" r="5.0" fill="#724E9B"/><line x1="531.9" y1="1347.9" x2="548.4" y2="1351.9" stroke="#5A7DC1"/><line x1="531.9" y1="1346" x2="548.4" y2="1351.9" stroke="#D8842F"/><circle cx="531.9" cy="1347.9" r="5.0" fill="#5A7DC1"/><circle cx="531.9" cy="1346" r="5.0" fill="#D8842F"/><circle cx="1111.6" cy="1355.1" r="5.0" fill="#D8842F"/><line x1="1111.6" y1="1352.2" x2="1128.1" y2="1358.7" stroke="#5A7DC1"/><line x1="732.5" y1="1348.6" x2="739.7" y2="1354.2" stroke="#724E9B"/><circle cx="802.5" cy="1246.2" r="5.0" fill="#724E9B"/><circle cx="1095.1" cy="1338.3" r="5.0" fill="#5A7DC1"/><line x1="515.3" y1="1313" x2="531.9" y2="1346" stroke="#D8842F"/><line x1="739.7" y1="1354.2" x2="747" y2="1357.9" stroke="#724E9B"/><circle cx="465.7" cy="1283.8" r="5.0" fill="#D8842F"/><circle cx="1111.6" cy="1352.2" r="5.0" fill="#5A7DC1"/><line x1="1111.6" y1="1355.1" x2="1128.1" y2="1349.4" stroke="#D8842F"/><line x1="795.2" y1="1221.6" x2="802.5" y2="1246.2" stroke="#724E9B"/><circle cx="732.5" cy="1348.6" r="5.0" fill="#724E9B"/><circle cx="739.7" cy="1354.2" r="5.0" fill="#724E9B"/><circle cx="516.1" cy="1153" r="5.0" fill="#D8842F"/><circle cx="515.3" cy="1322.6" r="5.0" fill="#5A7DC1"/><circle cx="548.4" cy="1351.9" r="5.0" fill="#D8842F"/><circle cx="548.4" cy="1351.9" r="5.0" fill="#5A7DC1"/><line x1="1128.1" y1="1358.7" x2="1144.7" y2="1363.2" stroke="#5A7DC1"/><circle cx="747" cy="1357.9" r="5.0" fill="#724E9B"/><line x1="703.6" y1="1343.5" x2="710.8" y2="1286.7" stroke="#724E9B"/><circle cx="1128.1" cy="1358.7" r="5.0" fill="#5A7DC1"/><circle cx="516.1" cy="1148.5" r="5.0" fill="#5A7DC1"/><line x1="747" y1="1357.9" x2="754.2" y2="1344.1" stroke="#724E9B"/><line x1="725.3" y1="1308.2" x2="732.5" y2="1348.6" stroke="#724E9B"/><circle cx="515.3" cy="1313" r="5.0" fill="#D8842F"/><line x1="1128.1" y1="1349.4" x2="1144.7" y2="1355.9" stroke="#D8842F"/><circle cx="795.2" cy="1221.6" r="5.0" fill="#724E9B"/><circle cx="1128.1" cy="1349.4" r="5.0" fill="#D8842F"/><circle cx="1144.7" cy="1363.2" r="5.0" fill="#5A7DC1"/><circle cx="1144.7" cy="1355.9" r="5.0" fill="#D8842F"/><line x1="398.8" y1="1363.5" x2="415.4" y2="1370" stroke="#5A7DC1"/><circle cx="754.2" cy="1344.1" r="5.0" fill="#724E9B"/><line x1="783.1" y1="1364.7" x2="790.4" y2="1366.4" stroke="#724E9B"/><circle cx="398.8" cy="1363.5" r="5.0" fill="#5A7DC1"/><line x1="775.9" y1="1349.4" x2="783.1" y2="1364.7" stroke="#724E9B"/><line x1="398.8" y1="1357.7" x2="415.4" y2="1365.4" stroke="#D8842F"/><circle cx="783.1" cy="1364.7" r="5.0" fill="#724E9B"/><line x1="790.4" y1="1366.4" x2="797.6" y2="1368.2" stroke="#724E9B"/><circle cx="398.8" cy="1357.7" r="5.0" fill="#D8842F"/><circle cx="725.3" cy="1308.2" r="5.0" fill="#724E9B"/><circle cx="790.4" cy="1366.4" r="5.0" fill="#724E9B"/><circle cx="415.4" cy="1370" r="5.0" fill="#5A7DC1"/><line x1="465.7" y1="1307" x2="482.3" y2="1183.1" stroke="#5A7DC1"/><circle cx="775.9" cy="1349.4" r="5.0" fill="#724E9B"/><line x1="797.6" y1="1368.2" x2="804.8" y2="1362.2" stroke="#724E9B"/><circle cx="995.1" cy="1375.3" r="5.0" fill="#D8842F"/><circle cx="797.6" cy="1368.2" r="5.0" fill="#724E9B"/><circle cx="415.4" cy="1365.4" r="5.0" fill="#D8842F"/><line x1="498.8" y1="1228.5" x2="515.3" y2="1313" stroke="#D8842F"/><line x1="995.1" y1="1375.3" x2="1011.7" y2="1375.2" stroke="#D8842F"/><circle cx="995.1" cy="1372.6" r="5.0" fill="#5A7DC1"/><line x1="995.1" y1="1372.6" x2="1011.7" y2="1373.5" stroke="#5A7DC1"/><circle cx="710.8" cy="1286.7" r="5.0" fill="#724E9B"/><line x1="498.8" y1="1211.5" x2="515.3" y2="1322.6" stroke="#5A7DC1"/><line x1="812" y1="1369.7" x2="819.3" y2="1375.3" stroke="#724E9B"/><line x1="804.8" y1="1362.2" x2="812" y2="1369.7" stroke="#724E9B"/><line x1="465.7" y1="1283.8" x2="482.3" y2="1187" stroke="#D8842F"/><line x1="768.7" y1="1309.5" x2="775.9" y2="1349.4" stroke="#724E9B"/><circle cx="812" cy="1369.7" r="5.0" fill="#724E9B"/><line x1="754.2" y1="1344.1" x2="761.4" y2="1283.8" stroke="#724E9B"/><circle cx="819.3" cy="1375.3" r="5.0" fill="#724E9B"/><circle cx="804.8" cy="1362.2" r="5.0" fill="#724E9B"/><line x1="1011.7" y1="1375.2" x2="1028.2" y2="1377.8" stroke="#D8842F"/><circle cx="1011.7" cy="1375.2" r="5.0" fill="#D8842F"/><line x1="640.8" y1="1377.5" x2="648.1" y2="1379.2" stroke="#724E9B"/><circle cx="1011.7" cy="1373.5" r="5.0" fill="#5A7DC1"/><line x1="415.4" y1="1370" x2="431.9" y2="1328.4" stroke="#5A7DC1"/><line x1="1011.7" y1="1373.5" x2="1028.2" y2="1372.4" stroke="#5A7DC1"/><circle cx="640.8" cy="1377.5" r="5.0" fill="#724E9B"/><line x1="648.1" y1="1379.2" x2="655.3" y2="1381.6" stroke="#724E9B"/><line x1="415.4" y1="1365.4" x2="431.9" y2="1317.8" stroke="#D8842F"/><circle cx="648.1" cy="1379.2" r="5.0" fill="#724E9B"/><line x1="655.3" y1="1381.6" x2="662.5" y2="1381.4" stroke="#724E9B"/><circle cx="1028.2" cy="1377.8" r="5.0" fill="#D8842F"/><line x1="1028.2" y1="1377.8" x2="1044.7" y2="1377.2" stroke="#D8842F"/><circle cx="655.3" cy="1381.6" r="5.0" fill="#724E9B"/><line x1="1028.2" y1="1372.4" x2="1044.7" y2="1376.2" stroke="#5A7DC1"/><line x1="662.5" y1="1381.4" x2="669.8" y2="1382.5" stroke="#724E9B"/><circle cx="1028.2" cy="1372.4" r="5.0" fill="#5A7DC1"/><circle cx="768.7" cy="1309.5" r="5.0" fill="#724E9B"/><line x1="718" y1="1212.2" x2="725.3" y2="1308.2" stroke="#724E9B"/><line x1="761.4" y1="1283.8" x2="768.7" y2="1309.5" stroke="#724E9B"/><circle cx="662.5" cy="1381.4" r="5.0" fill="#724E9B"/><line x1="710.8" y1="1286.7" x2="718" y2="1212.2" stroke="#724E9B"/><circle cx="669.8" cy="1382.5" r="5.0" fill="#724E9B"/><circle cx="498.8" cy="1228.5" r="5.0" fill="#D8842F"/><line x1="1044.7" y1="1376.2" x2="1061.3" y2="1380.8" stroke="#5A7DC1"/><circle cx="1044.7" cy="1377.2" r="5.0" fill="#D8842F"/><line x1="1044.7" y1="1377.2" x2="1061.3" y2="1377.1" stroke="#D8842F"/><circle cx="1044.7" cy="1376.2" r="5.0" fill="#5A7DC1"/><line x1="481.5" y1="1370" x2="498.1" y2="1385.4" stroke="#5A7DC1"/><line x1="482.3" y1="1187" x2="498.8" y2="1228.5" stroke="#D8842F"/><line x1="1061.3" y1="1377.1" x2="1077.8" y2="1390.8" stroke="#D8842F"/><circle cx="761.4" cy="1283.8" r="5.0" fill="#724E9B"/><circle cx="431.9" cy="1328.4" r="5.0" fill="#5A7DC1"/><line x1="498.1" y1="1385.4" x2="514.6" y2="1389.6" stroke="#5A7DC1"/><line x1="1061.3" y1="1380.8" x2="1077.8" y2="1382.5" stroke="#5A7DC1"/><circle cx="1061.3" cy="1380.8" r="5.0" fill="#5A7DC1"/><circle cx="498.1" cy="1385.4" r="5.0" fill="#5A7DC1"/><circle cx="481.5" cy="1370" r="5.0" fill="#5A7DC1"/><line x1="498.1" y1="1380.7" x2="514.6" y2="1389.6" stroke="#D8842F"/><line x1="698.7" y1="1386.2" x2="705.9" y2="1393.8" stroke="#724E9B"/><circle cx="1061.3" cy="1377.1" r="5.0" fill="#D8842F"/><line x1="1077.8" y1="1390.8" x2="1094.3" y2="1393.8" stroke="#D8842F"/><line x1="705.9" y1="1393.8" x2="713.2" y2="1395.5" stroke="#724E9B"/><circle cx="1077.8" cy="1390.8" r="5.0" fill="#D8842F"/><circle cx="498.8" cy="1211.5" r="5.0" fill="#5A7DC1"/><line x1="482.3" y1="1183.1" x2="498.8" y2="1211.5" stroke="#5A7DC1"/><circle cx="498.1" cy="1380.7" r="5.0" fill="#D8842F"/><circle cx="705.9" cy="1393.8" r="5.0" fill="#724E9B"/><line x1="1077.8" y1="1382.5" x2="1094.3" y2="1392.8" stroke="#5A7DC1"/><line x1="669.8" y1="1382.5" x2="677" y2="1332.7" stroke="#724E9B"/><circle cx="431.9" cy="1317.8" r="5.0" fill="#D8842F"/><circle cx="698.7" cy="1386.2" r="5.0" fill="#724E9B"/><circle cx="514.6" cy="1389.6" r="5.0" fill="#D8842F"/><circle cx="514.6" cy="1389.6" r="5.0" fill="#5A7DC1"/><circle cx="1077.8" cy="1382.5" r="5.0" fill="#5A7DC1"/><circle cx="713.2" cy="1395.5" r="5.0" fill="#724E9B"/><line x1="481.5" y1="1336.1" x2="498.1" y2="1380.7" stroke="#D8842F"/><circle cx="482.3" cy="1187" r="5.0" fill="#D8842F"/><line x1="1094.3" y1="1393.8" x2="1110.9" y2="1399.2" stroke="#D8842F"/><line x1="713.2" y1="1395.5" x2="720.4" y2="1385.7" stroke="#724E9B"/><circle cx="1094.3" cy="1393.8" r="5.0" fill="#D8842F"/><line x1="1094.3" y1="1392.8" x2="1110.9" y2="1395.5" stroke="#5A7DC1"/><circle cx="1094.3" cy="1392.8" r="5.0" fill="#5A7DC1"/><circle cx="482.3" cy="1183.1" r="5.0" fill="#5A7DC1"/><line x1="691.5" y1="1345.8" x2="698.7" y2="1386.2" stroke="#724E9B"/><circle cx="1110.9" cy="1399.2" r="5.0" fill="#D8842F"/><circle cx="720.4" cy="1385.7" r="5.0" fill="#724E9B"/><circle cx="1110.9" cy="1395.5" r="5.0" fill="#5A7DC1"/><circle cx="718" cy="1212.2" r="5.0" fill="#724E9B"/><line x1="749.3" y1="1402.3" x2="756.6" y2="1404.1" stroke="#724E9B"/><line x1="742.1" y1="1390.9" x2="749.3" y2="1402.3" stroke="#724E9B"/><circle cx="481.5" cy="1336.1" r="5.0" fill="#D8842F"/><circle cx="365" cy="1401.2" r="5.0" fill="#D8842F"/><circle cx="365" cy="1401.2" r="5.0" fill="#5A7DC1"/><line x1="365" y1="1401.2" x2="381.6" y2="1401.3" stroke="#D8842F"/><line x1="365" y1="1401.2" x2="381.6" y2="1401.3" stroke="#5A7DC1"/><circle cx="749.3" cy="1402.3" r="5.0" fill="#724E9B"/><line x1="756.6" y1="1404.1" x2="763.8" y2="1402" stroke="#724E9B"/><line x1="465" y1="1257.7" x2="481.5" y2="1370" stroke="#5A7DC1"/><circle cx="691.5" cy="1345.8" r="5.0" fill="#724E9B"/><circle cx="756.6" cy="1404.1" r="5.0" fill="#724E9B"/><circle cx="677" cy="1332.7" r="5.0" fill="#724E9B"/><circle cx="742.1" cy="1390.9" r="5.0" fill="#724E9B"/><line x1="431.9" y1="1328.4" x2="448.5" y2="1236.3" stroke="#5A7DC1"/><line x1="734.9" y1="1366" x2="742.1" y2="1390.9" stroke="#724E9B"/><line x1="763.8" y1="1402" x2="771" y2="1401.8" stroke="#724E9B"/><circle cx="961.3" cy="1412.2" r="5.0" fill="#5A7DC1"/><line x1="961.3" y1="1412.2" x2="977.9" y2="1411.3" stroke="#5A7DC1"/><circle cx="381.6" cy="1401.3" r="5.0" fill="#D8842F"/><circle cx="381.6" cy="1401.3" r="5.0" fill="#5A7DC1"/><line x1="771" y1="1401.8" x2="778.2" y2="1411.3" stroke="#724E9B"/><line x1="720.4" y1="1385.7" x2="727.6" y2="1335.2" stroke="#724E9B"/><circle cx="763.8" cy="1402" r="5.0" fill="#724E9B"/><line x1="778.2" y1="1411.3" x2="785.5" y2="1411.1" stroke="#724E9B"/><line x1="431.9" y1="1317.8" x2="448.5" y2="1230.1" stroke="#D8842F"/><circle cx="961.3" cy="1405.8" r="5.0" fill="#D8842F"/><line x1="961.3" y1="1405.8" x2="977.9" y2="1406.7" stroke="#D8842F"/><circle cx="778.2" cy="1411.3" r="5.0" fill="#724E9B"/><circle cx="771" cy="1401.8" r="5.0" fill="#724E9B"/><circle cx="734.9" cy="1366" r="5.0" fill="#724E9B"/><circle cx="785.5" cy="1411.1" r="5.0" fill="#724E9B"/><line x1="977.9" y1="1411.3" x2="994.4" y2="1415.7" stroke="#5A7DC1"/><line x1="607" y1="1414.8" x2="614.3" y2="1418.1" stroke="#724E9B"/><circle cx="977.9" cy="1411.3" r="5.0" fill="#5A7DC1"/><line x1="614.3" y1="1418.1" x2="621.5" y2="1423.1" stroke="#724E9B"/><line x1="465" y1="1243.9" x2="481.5" y2="1336.1" stroke="#D8842F"/><line x1="727.6" y1="1335.2" x2="734.9" y2="1366" stroke="#724E9B"/><circle cx="607" cy="1414.8" r="5.0" fill="#724E9B"/><line x1="977.9" y1="1406.7" x2="994.4" y2="1408.4" stroke="#D8842F"/><circle cx="977.9" cy="1406.7" r="5.0" fill="#D8842F"/><line x1="621.5" y1="1423.1" x2="628.7" y2="1421" stroke="#724E9B"/><circle cx="614.3" cy="1418.1" r="5.0" fill="#724E9B"/><circle cx="621.5" cy="1423.1" r="5.0" fill="#724E9B"/><circle cx="994.4" cy="1415.7" r="5.0" fill="#5A7DC1"/><line x1="684.2" y1="1260.5" x2="691.5" y2="1345.8" stroke="#724E9B"/><line x1="677" y1="1332.7" x2="684.2" y2="1260.5" stroke="#724E9B"/><line x1="994.4" y1="1415.7" x2="1010.9" y2="1413.1" stroke="#5A7DC1"/><line x1="628.7" y1="1421" x2="636" y2="1421.6" stroke="#724E9B"/><line x1="994.4" y1="1408.4" x2="1010.9" y2="1414.1" stroke="#D8842F"/><line x1="381.6" y1="1401.3" x2="398.1" y2="1340.7" stroke="#D8842F"/><circle cx="628.7" cy="1421" r="5.0" fill="#724E9B"/><circle cx="994.4" cy="1408.4" r="5.0" fill="#D8842F"/><circle cx="727.6" cy="1335.2" r="5.0" fill="#724E9B"/><line x1="381.6" y1="1401.3" x2="398.1" y2="1330.1" stroke="#5A7DC1"/><line x1="1010.9" y1="1414.1" x2="1027.5" y2="1425" stroke="#D8842F"/><circle cx="636" cy="1421.6" r="5.0" fill="#724E9B"/><line x1="1010.9" y1="1413.1" x2="1027.5" y2="1421.4" stroke="#5A7DC1"/><circle cx="1010.9" cy="1414.1" r="5.0" fill="#D8842F"/><circle cx="1010.9" cy="1413.1" r="5.0" fill="#5A7DC1"/><line x1="448.5" y1="1236.3" x2="465" y2="1257.7" stroke="#5A7DC1"/><circle cx="1027.5" cy="1425" r="5.0" fill="#D8842F"/><line x1="447.7" y1="1407.6" x2="464.3" y2="1423.2" stroke="#5A7DC1"/><line x1="1027.5" y1="1425" x2="1044" y2="1424" stroke="#D8842F"/><line x1="1027.5" y1="1421.4" x2="1044" y2="1425.9" stroke="#5A7DC1"/><circle cx="465" cy="1257.7" r="5.0" fill="#5A7DC1"/><circle cx="1027.5" cy="1421.4" r="5.0" fill="#5A7DC1"/><line x1="636" y1="1421.6" x2="643.2" y2="1392" stroke="#724E9B"/><line x1="464.3" y1="1423.2" x2="480.8" y2="1427.2" stroke="#5A7DC1"/><line x1="464.3" y1="1421.3" x2="480.8" y2="1427.2" stroke="#D8842F"/><circle cx="464.3" cy="1423.2" r="5.0" fill="#5A7DC1"/><circle cx="447.7" cy="1407.6" r="5.0" fill="#5A7DC1"/><line x1="664.9" y1="1424.1" x2="672.1" y2="1431.7" stroke="#724E9B"/><circle cx="464.3" cy="1421.3" r="5.0" fill="#D8842F"/><line x1="672.1" y1="1431.7" x2="679.4" y2="1435.9" stroke="#724E9B"/><circle cx="448.5" cy="1236.3" r="5.0" fill="#5A7DC1"/><line x1="448.5" y1="1230.1" x2="465" y2="1243.9" stroke="#D8842F"/><line x1="1044" y1="1425.9" x2="1060.5" y2="1432.5" stroke="#5A7DC1"/><line x1="447.7" y1="1388.3" x2="464.3" y2="1421.3" stroke="#D8842F"/><circle cx="1044" cy="1425.9" r="5.0" fill="#5A7DC1"/><line x1="1044" y1="1424" x2="1060.5" y2="1427.8" stroke="#D8842F"/><circle cx="672.1" cy="1431.7" r="5.0" fill="#724E9B"/><circle cx="1044" cy="1424" r="5.0" fill="#D8842F"/><circle cx="448.5" cy="1230.1" r="5.0" fill="#D8842F"/><circle cx="664.9" cy="1424.1" r="5.0" fill="#724E9B"/><circle cx="465" cy="1243.9" r="5.0" fill="#D8842F"/><circle cx="679.4" cy="1435.9" r="5.0" fill="#724E9B"/><circle cx="480.8" cy="1427.2" r="5.0" fill="#D8842F"/><circle cx="480.8" cy="1427.2" r="5.0" fill="#5A7DC1"/><line x1="679.4" y1="1435.9" x2="686.6" y2="1426.6" stroke="#724E9B"/><circle cx="1060.5" cy="1432.5" r="5.0" fill="#5A7DC1"/><line x1="1060.5" y1="1427.8" x2="1077.1" y2="1437" stroke="#D8842F"/><line x1="1060.5" y1="1432.5" x2="1077.1" y2="1432.4" stroke="#5A7DC1"/><circle cx="684.2" cy="1260.5" r="5.0" fill="#724E9B"/><circle cx="1060.5" cy="1427.8" r="5.0" fill="#D8842F"/><circle cx="447.7" cy="1388.3" r="5.0" fill="#D8842F"/><circle cx="643.2" cy="1392" r="5.0" fill="#724E9B"/><circle cx="398.1" cy="1340.7" r="5.0" fill="#D8842F"/><circle cx="1077.1" cy="1437" r="5.0" fill="#D8842F"/><circle cx="686.6" cy="1426.6" r="5.0" fill="#724E9B"/><line x1="657.7" y1="1369" x2="664.9" y2="1424.1" stroke="#724E9B"/><circle cx="1077.1" cy="1432.4" r="5.0" fill="#5A7DC1"/><line x1="431.2" y1="1317.8" x2="447.7" y2="1407.6" stroke="#5A7DC1"/><circle cx="398.1" cy="1330.1" r="5.0" fill="#5A7DC1"/><line x1="715.5" y1="1440" x2="722.8" y2="1441.8" stroke="#724E9B"/><line x1="708.3" y1="1428.6" x2="715.5" y2="1440" stroke="#724E9B"/><circle cx="331.2" cy="1438.9" r="5.0" fill="#D8842F"/><circle cx="331.2" cy="1438.9" r="5.0" fill="#5A7DC1"/><line x1="331.2" y1="1438.9" x2="347.8" y2="1439" stroke="#D8842F"/><line x1="331.2" y1="1438.9" x2="347.8" y2="1439" stroke="#5A7DC1"/><circle cx="715.5" cy="1440" r="5.0" fill="#724E9B"/><line x1="722.8" y1="1441.8" x2="730" y2="1443.5" stroke="#724E9B"/><line x1="701.1" y1="1413.3" x2="708.3" y2="1428.6" stroke="#724E9B"/><line x1="730" y1="1443.5" x2="737.2" y2="1447.2" stroke="#724E9B"/><circle cx="722.8" cy="1441.8" r="5.0" fill="#724E9B"/><circle cx="708.3" cy="1428.6" r="5.0" fill="#724E9B"/><line x1="686.6" y1="1426.6" x2="693.8" y2="1382.6" stroke="#724E9B"/><line x1="737.2" y1="1447.2" x2="744.4" y2="1448.9" stroke="#724E9B"/><circle cx="730" cy="1443.5" r="5.0" fill="#724E9B"/><line x1="927.5" y1="1447.7" x2="944.1" y2="1453.8" stroke="#5A7DC1"/><circle cx="927.5" cy="1449.2" r="5.0" fill="#D8842F"/><circle cx="347.8" cy="1439" r="5.0" fill="#D8842F"/><circle cx="347.8" cy="1439" r="5.0" fill="#5A7DC1"/><circle cx="927.5" cy="1447.7" r="5.0" fill="#5A7DC1"/><circle cx="737.2" cy="1447.2" r="5.0" fill="#724E9B"/><line x1="744.4" y1="1448.9" x2="751.7" y2="1450.7" stroke="#724E9B"/><line x1="927.5" y1="1449.2" x2="944.1" y2="1446.1" stroke="#D8842F"/><line x1="431.2" y1="1296.9" x2="447.7" y2="1388.3" stroke="#D8842F"/><circle cx="701.1" cy="1413.3" r="5.0" fill="#724E9B"/><circle cx="744.4" cy="1448.9" r="5.0" fill="#724E9B"/><circle cx="657.7" cy="1369" r="5.0" fill="#724E9B"/><line x1="693.8" y1="1382.6" x2="701.1" y2="1413.3" stroke="#724E9B"/><circle cx="944.1" cy="1453.8" r="5.0" fill="#5A7DC1"/><circle cx="751.7" cy="1450.7" r="5.0" fill="#724E9B"/><line x1="944.1" y1="1453.8" x2="960.6" y2="1451.8" stroke="#5A7DC1"/><line x1="643.2" y1="1392" x2="650.4" y2="1301.9" stroke="#724E9B"/><line x1="573.2" y1="1455.4" x2="580.5" y2="1452.8" stroke="#724E9B"/><circle cx="573.2" cy="1455.4" r="5.0" fill="#724E9B"/><line x1="944.1" y1="1446.1" x2="960.6" y2="1448.1" stroke="#D8842F"/><circle cx="944.1" cy="1446.1" r="5.0" fill="#D8842F"/><line x1="580.5" y1="1452.8" x2="587.7" y2="1460.8" stroke="#724E9B"/><line x1="398.1" y1="1340.7" x2="414.7" y2="1250.7" stroke="#D8842F"/><line x1="587.7" y1="1460.8" x2="594.9" y2="1457.1" stroke="#724E9B"/><line x1="398.1" y1="1330.1" x2="414.7" y2="1254.6" stroke="#5A7DC1"/><circle cx="587.7" cy="1460.8" r="5.0" fill="#724E9B"/><circle cx="580.5" cy="1452.8" r="5.0" fill="#724E9B"/><circle cx="431.2" cy="1317.8" r="5.0" fill="#5A7DC1"/><circle cx="960.6" cy="1451.8" r="5.0" fill="#5A7DC1"/><circle cx="693.8" cy="1382.6" r="5.0" fill="#724E9B"/><line x1="960.6" y1="1451.8" x2="977.1" y2="1448.3" stroke="#5A7DC1"/><circle cx="960.6" cy="1448.1" r="5.0" fill="#D8842F"/><line x1="347.8" y1="1439" x2="364.3" y2="1380.7" stroke="#D8842F"/><line x1="594.9" y1="1457.1" x2="602.2" y2="1457.1" stroke="#724E9B"/><line x1="650.4" y1="1301.9" x2="657.7" y2="1369" stroke="#724E9B"/><line x1="960.6" y1="1448.1" x2="977.1" y2="1446.3" stroke="#D8842F"/><circle cx="594.9" cy="1457.1" r="5.0" fill="#724E9B"/><line x1="977.1" y1="1448.3" x2="993.7" y2="1460.2" stroke="#5A7DC1"/><circle cx="602.2" cy="1457.1" r="5.0" fill="#724E9B"/><line x1="347.8" y1="1439" x2="364.3" y2="1360.8" stroke="#5A7DC1"/><line x1="977.1" y1="1446.3" x2="993.7" y2="1459.2" stroke="#D8842F"/><line x1="414.7" y1="1254.6" x2="431.2" y2="1317.8" stroke="#5A7DC1"/><circle cx="977.1" cy="1448.3" r="5.0" fill="#5A7DC1"/><circle cx="977.1" cy="1446.3" r="5.0" fill="#D8842F"/><circle cx="431.2" cy="1296.9" r="5.0" fill="#D8842F"/><line x1="993.7" y1="1459.2" x2="1010.2" y2="1463.8" stroke="#D8842F"/><line x1="993.7" y1="1460.2" x2="1010.2" y2="1461.9" stroke="#5A7DC1"/><circle cx="993.7" cy="1460.2" r="5.0" fill="#5A7DC1"/><circle cx="993.7" cy="1459.2" r="5.0" fill="#D8842F"/><line x1="413.9" y1="1435.6" x2="430.5" y2="1460.9" stroke="#5A7DC1"/><line x1="430.5" y1="1460.9" x2="447" y2="1464.9" stroke="#5A7DC1"/><line x1="430.5" y1="1459" x2="447" y2="1464.9" stroke="#D8842F"/><circle cx="430.5" cy="1460.9" r="5.0" fill="#5A7DC1"/><line x1="631.1" y1="1461.4" x2="638.3" y2="1469.7" stroke="#724E9B"/><circle cx="430.5" cy="1459" r="5.0" fill="#D8842F"/><line x1="638.3" y1="1469.7" x2="645.6" y2="1473.2" stroke="#724E9B"/><line x1="414.7" y1="1250.7" x2="431.2" y2="1296.9" stroke="#D8842F"/><line x1="413.9" y1="1426" x2="430.5" y2="1459" stroke="#D8842F"/><line x1="1010.2" y1="1461.9" x2="1026.7" y2="1469.3" stroke="#5A7DC1"/><line x1="1010.2" y1="1463.8" x2="1026.7" y2="1465.7" stroke="#D8842F"/><circle cx="1010.2" cy="1463.8" r="5.0" fill="#D8842F"/><circle cx="638.3" cy="1469.7" r="5.0" fill="#724E9B"/><circle cx="1010.2" cy="1461.9" r="5.0" fill="#5A7DC1"/><circle cx="631.1" cy="1461.4" r="5.0" fill="#724E9B"/><circle cx="645.6" cy="1473.2" r="5.0" fill="#724E9B"/><circle cx="413.9" cy="1435.6" r="5.0" fill="#5A7DC1"/><circle cx="447" cy="1464.9" r="5.0" fill="#D8842F"/><circle cx="447" cy="1464.9" r="5.0" fill="#5A7DC1"/><line x1="602.2" y1="1457.1" x2="609.4" y2="1403" stroke="#724E9B"/><line x1="645.6" y1="1473.2" x2="652.8" y2="1461.2" stroke="#724E9B"/><line x1="1026.7" y1="1469.3" x2="1043.3" y2="1475.9" stroke="#5A7DC1"/><circle cx="1026.7" cy="1469.3" r="5.0" fill="#5A7DC1"/><circle cx="650.4" cy="1301.9" r="5.0" fill="#724E9B"/><line x1="1026.7" y1="1465.7" x2="1043.3" y2="1473.9" stroke="#D8842F"/><line x1="623.9" y1="1424.8" x2="631.1" y2="1461.4" stroke="#724E9B"/><circle cx="1026.7" cy="1465.7" r="5.0" fill="#D8842F"/><circle cx="413.9" cy="1426" r="5.0" fill="#D8842F"/><circle cx="364.3" cy="1380.7" r="5.0" fill="#D8842F"/><circle cx="414.7" cy="1254.6" r="5.0" fill="#5A7DC1"/><circle cx="1043.3" cy="1475.9" r="5.0" fill="#5A7DC1"/><circle cx="414.7" cy="1250.7" r="5.0" fill="#D8842F"/><circle cx="1043.3" cy="1473.9" r="5.0" fill="#D8842F"/><circle cx="652.8" cy="1461.2" r="5.0" fill="#724E9B"/><line x1="297.4" y1="1478.5" x2="314" y2="1481.9" stroke="#5A7DC1"/><circle cx="297.4" cy="1478.5" r="5.0" fill="#5A7DC1"/><line x1="681.7" y1="1479" x2="689" y2="1479.4" stroke="#724E9B"/><circle cx="297.4" cy="1477.9" r="5.0" fill="#D8842F"/><line x1="297.4" y1="1477.9" x2="314" y2="1476.7" stroke="#D8842F"/><line x1="674.5" y1="1460.5" x2="681.7" y2="1479" stroke="#724E9B"/><circle cx="681.7" cy="1479" r="5.0" fill="#724E9B"/><line x1="689" y1="1479.4" x2="696.2" y2="1481.2" stroke="#724E9B"/><circle cx="623.9" cy="1424.8" r="5.0" fill="#724E9B"/><circle cx="364.3" cy="1360.8" r="5.0" fill="#5A7DC1"/><line x1="696.2" y1="1481.2" x2="703.4" y2="1484.9" stroke="#724E9B"/><circle cx="689" cy="1479.4" r="5.0" fill="#724E9B"/><circle cx="314" cy="1481.9" r="5.0" fill="#5A7DC1"/><line x1="703.4" y1="1484.9" x2="710.6" y2="1486.6" stroke="#724E9B"/><circle cx="696.2" cy="1481.2" r="5.0" fill="#724E9B"/><circle cx="609.4" cy="1403" r="5.0" fill="#724E9B"/><line x1="667.3" y1="1441.9" x2="674.5" y2="1460.5" stroke="#724E9B"/><line x1="397.4" y1="1340.7" x2="413.9" y2="1426" stroke="#D8842F"/><circle cx="674.5" cy="1460.5" r="5.0" fill="#724E9B"/><line x1="397.4" y1="1329.9" x2="413.9" y2="1435.6" stroke="#5A7DC1"/><line x1="652.8" y1="1461.2" x2="660" y2="1413.1" stroke="#724E9B"/><circle cx="893.7" cy="1486.1" r="5.0" fill="#D8842F"/><circle cx="314" cy="1476.7" r="5.0" fill="#D8842F"/><circle cx="703.4" cy="1484.9" r="5.0" fill="#724E9B"/><line x1="710.6" y1="1486.6" x2="717.9" y2="1488.4" stroke="#724E9B"/><circle cx="893.7" cy="1483.1" r="5.0" fill="#5A7DC1"/><line x1="893.7" y1="1483.1" x2="910.3" y2="1484.5" stroke="#5A7DC1"/><line x1="893.7" y1="1486.1" x2="910.3" y2="1479.9" stroke="#D8842F"/><circle cx="710.6" cy="1486.6" r="5.0" fill="#724E9B"/><circle cx="717.9" cy="1488.4" r="5.0" fill="#724E9B"/><circle cx="667.3" cy="1441.9" r="5.0" fill="#724E9B"/><line x1="539.4" y1="1492.6" x2="546.7" y2="1492.8" stroke="#724E9B"/><line x1="910.3" y1="1484.5" x2="926.8" y2="1490.8" stroke="#5A7DC1"/><line x1="660" y1="1413.1" x2="667.3" y2="1441.9" stroke="#724E9B"/><circle cx="539.4" cy="1492.6" r="5.0" fill="#724E9B"/><circle cx="910.3" cy="1484.5" r="5.0" fill="#5A7DC1"/><line x1="546.7" y1="1492.8" x2="553.9" y2="1494.6" stroke="#724E9B"/><line x1="910.3" y1="1479.9" x2="926.8" y2="1487" stroke="#D8842F"/><line x1="364.3" y1="1380.7" x2="380.9" y2="1282.4" stroke="#D8842F"/><line x1="314" y1="1476.7" x2="330.5" y2="1436.6" stroke="#D8842F"/><circle cx="910.3" cy="1479.9" r="5.0" fill="#D8842F"/><circle cx="546.7" cy="1492.8" r="5.0" fill="#724E9B"/><line x1="553.9" y1="1494.6" x2="561.1" y2="1496.9" stroke="#724E9B"/><line x1="314" y1="1481.9" x2="330.5" y2="1424.6" stroke="#5A7DC1"/><circle cx="926.8" cy="1490.8" r="5.0" fill="#5A7DC1"/><line x1="926.8" y1="1490.8" x2="943.3" y2="1488.5" stroke="#5A7DC1"/><circle cx="553.9" cy="1494.6" r="5.0" fill="#724E9B"/><line x1="616.6" y1="1326.8" x2="623.9" y2="1424.8" stroke="#724E9B"/><circle cx="926.8" cy="1487" r="5.0" fill="#D8842F"/><line x1="561.1" y1="1496.9" x2="568.4" y2="1490.9" stroke="#724E9B"/><circle cx="561.1" cy="1496.9" r="5.0" fill="#724E9B"/><line x1="926.8" y1="1487" x2="943.3" y2="1481.7" stroke="#D8842F"/><line x1="364.3" y1="1360.8" x2="380.9" y2="1278.5" stroke="#5A7DC1"/><line x1="609.4" y1="1403" x2="616.6" y2="1326.8" stroke="#724E9B"/><circle cx="660" cy="1413.1" r="5.0" fill="#724E9B"/><line x1="943.3" y1="1488.5" x2="959.9" y2="1500" stroke="#5A7DC1"/><line x1="380.1" y1="1491.7" x2="396.7" y2="1502.2" stroke="#5A7DC1"/><circle cx="397.4" cy="1340.7" r="5.0" fill="#D8842F"/><line x1="943.3" y1="1481.7" x2="959.9" y2="1497.7" stroke="#D8842F"/><circle cx="943.3" cy="1488.5" r="5.0" fill="#5A7DC1"/><circle cx="568.4" cy="1490.9" r="5.0" fill="#724E9B"/><circle cx="380.1" cy="1491.7" r="5.0" fill="#5A7DC1"/><circle cx="959.9" cy="1500" r="5.0" fill="#5A7DC1"/><circle cx="959.9" cy="1497.7" r="5.0" fill="#D8842F"/><line x1="959.9" y1="1497.7" x2="976.4" y2="1498.6" stroke="#D8842F"/><line x1="959.9" y1="1500" x2="976.4" y2="1495.5" stroke="#5A7DC1"/><circle cx="396.7" cy="1502.2" r="5.0" fill="#5A7DC1"/><line x1="396.7" y1="1502.2" x2="413.2" y2="1503.5" stroke="#5A7DC1"/><circle cx="943.3" cy="1481.7" r="5.0" fill="#D8842F"/><circle cx="397.4" cy="1329.9" r="5.0" fill="#5A7DC1"/><line x1="396.7" y1="1496.3" x2="413.2" y2="1502.8" stroke="#D8842F"/><circle cx="396.7" cy="1496.3" r="5.0" fill="#D8842F"/><circle cx="330.5" cy="1436.6" r="5.0" fill="#D8842F"/><line x1="380.1" y1="1466.9" x2="396.7" y2="1496.3" stroke="#D8842F"/><line x1="604.5" y1="1506.2" x2="611.8" y2="1510.3" stroke="#724E9B"/><line x1="380.9" y1="1282.4" x2="397.4" y2="1340.7" stroke="#D8842F"/><line x1="597.3" y1="1496.9" x2="604.5" y2="1506.2" stroke="#724E9B"/><line x1="976.4" y1="1495.5" x2="992.9" y2="1505.5" stroke="#5A7DC1"/><circle cx="604.5" cy="1506.2" r="5.0" fill="#724E9B"/><line x1="976.4" y1="1498.6" x2="992.9" y2="1501.6" stroke="#D8842F"/><circle cx="976.4" cy="1498.6" r="5.0" fill="#D8842F"/><circle cx="413.2" cy="1503.5" r="5.0" fill="#5A7DC1"/><circle cx="413.2" cy="1502.8" r="5.0" fill="#D8842F"/><line x1="380.9" y1="1278.5" x2="397.4" y2="1329.9" stroke="#5A7DC1"/><circle cx="611.8" cy="1510.3" r="5.0" fill="#724E9B"/><circle cx="597.3" cy="1496.9" r="5.0" fill="#724E9B"/><circle cx="976.4" cy="1495.5" r="5.0" fill="#5A7DC1"/><line x1="568.4" y1="1490.9" x2="575.6" y2="1440.1" stroke="#724E9B"/><circle cx="330.5" cy="1424.6" r="5.0" fill="#5A7DC1"/><line x1="992.9" y1="1505.5" x2="1009.5" y2="1511" stroke="#5A7DC1"/><circle cx="380.1" cy="1466.9" r="5.0" fill="#D8842F"/><line x1="992.9" y1="1501.6" x2="1009.5" y2="1511" stroke="#D8842F"/><circle cx="992.9" cy="1505.5" r="5.0" fill="#5A7DC1"/><line x1="611.8" y1="1510.3" x2="619" y2="1488.4" stroke="#724E9B"/><line x1="590.1" y1="1462.1" x2="597.3" y2="1496.9" stroke="#724E9B"/><circle cx="992.9" cy="1501.6" r="5.0" fill="#D8842F"/><circle cx="1009.5" cy="1511" r="5.0" fill="#D8842F"/><circle cx="1009.5" cy="1511" r="5.0" fill="#5A7DC1"/><circle cx="616.6" cy="1326.8" r="5.0" fill="#724E9B"/><circle cx="380.9" cy="1282.4" r="5.0" fill="#D8842F"/><line x1="363.6" y1="1380.7" x2="380.1" y2="1491.7" stroke="#5A7DC1"/><line x1="647.9" y1="1516.3" x2="655.2" y2="1515.2" stroke="#724E9B"/><line x1="640.7" y1="1502" x2="647.9" y2="1516.3" stroke="#724E9B"/><line x1="263.6" y1="1513.2" x2="280.2" y2="1517.2" stroke="#D8842F"/><circle cx="380.9" cy="1278.5" r="5.0" fill="#5A7DC1"/><circle cx="263.6" cy="1513.2" r="5.0" fill="#D8842F"/><circle cx="647.9" cy="1516.3" r="5.0" fill="#724E9B"/><circle cx="263.6" cy="1511.3" r="5.0" fill="#5A7DC1"/><circle cx="619" cy="1488.4" r="5.0" fill="#724E9B"/><circle cx="590.1" cy="1462.1" r="5.0" fill="#724E9B"/><line x1="263.6" y1="1511.3" x2="280.2" y2="1508.7" stroke="#5A7DC1"/><line x1="655.2" y1="1515.2" x2="662.4" y2="1514.6" stroke="#724E9B"/><circle cx="655.2" cy="1515.2" r="5.0" fill="#724E9B"/><circle cx="640.7" cy="1502" r="5.0" fill="#724E9B"/><line x1="662.4" y1="1514.6" x2="669.6" y2="1520.6" stroke="#724E9B"/><line x1="633.5" y1="1479" x2="640.7" y2="1502" stroke="#724E9B"/><circle cx="280.2" cy="1517.2" r="5.0" fill="#D8842F"/><line x1="669.6" y1="1520.6" x2="676.8" y2="1522.3" stroke="#724E9B"/><circle cx="575.6" cy="1440.1" r="5.0" fill="#724E9B"/><circle cx="662.4" cy="1514.6" r="5.0" fill="#724E9B"/><line x1="676.8" y1="1522.3" x2="684.1" y2="1526" stroke="#724E9B"/><circle cx="669.6" cy="1520.6" r="5.0" fill="#724E9B"/><circle cx="859.9" cy="1520.1" r="5.0" fill="#5A7DC1"/><line x1="859.9" y1="1520.1" x2="876.5" y2="1520.8" stroke="#5A7DC1"/><line x1="859.9" y1="1518.6" x2="876.5" y2="1521.6" stroke="#D8842F"/><circle cx="859.9" cy="1518.6" r="5.0" fill="#D8842F"/><circle cx="280.2" cy="1508.7" r="5.0" fill="#5A7DC1"/><line x1="363.6" y1="1360.8" x2="380.1" y2="1466.9" stroke="#D8842F"/><circle cx="676.8" cy="1522.3" r="5.0" fill="#724E9B"/><circle cx="684.1" cy="1526" r="5.0" fill="#724E9B"/><line x1="330.5" y1="1436.6" x2="347.1" y2="1322.4" stroke="#D8842F"/><line x1="330.5" y1="1424.6" x2="347.1" y2="1333.8" stroke="#5A7DC1"/><circle cx="633.5" cy="1479" r="5.0" fill="#724E9B"/><line x1="619" y1="1488.4" x2="626.2" y2="1435.1" stroke="#724E9B"/><line x1="505.6" y1="1528.8" x2="512.9" y2="1530.5" stroke="#724E9B"/><line x1="876.5" y1="1520.8" x2="893" y2="1528.5" stroke="#5A7DC1"/><circle cx="876.5" cy="1521.6" r="5.0" fill="#D8842F"/><line x1="876.5" y1="1521.6" x2="893" y2="1522.3" stroke="#D8842F"/><circle cx="505.6" cy="1528.8" r="5.0" fill="#724E9B"/><circle cx="876.5" cy="1520.8" r="5.0" fill="#5A7DC1"/><line x1="512.9" y1="1530.5" x2="520.1" y2="1532.3" stroke="#724E9B"/><circle cx="512.9" cy="1530.5" r="5.0" fill="#724E9B"/><line x1="520.1" y1="1532.3" x2="527.3" y2="1532.1" stroke="#724E9B"/><line x1="582.8" y1="1374.1" x2="590.1" y2="1462.1" stroke="#724E9B"/><line x1="626.2" y1="1435.1" x2="633.5" y2="1479" stroke="#724E9B"/><circle cx="893" cy="1528.5" r="5.0" fill="#5A7DC1"/><circle cx="520.1" cy="1532.3" r="5.0" fill="#724E9B"/><line x1="893" y1="1528.5" x2="909.5" y2="1523.8" stroke="#5A7DC1"/><line x1="575.6" y1="1440.1" x2="582.8" y2="1374.1" stroke="#724E9B"/><line x1="527.3" y1="1532.1" x2="534.6" y2="1531.9" stroke="#724E9B"/><circle cx="893" cy="1522.3" r="5.0" fill="#D8842F"/><line x1="893" y1="1522.3" x2="909.5" y2="1522.3" stroke="#D8842F"/><circle cx="527.3" cy="1532.1" r="5.0" fill="#724E9B"/><line x1="346.3" y1="1531.7" x2="362.9" y2="1541.3" stroke="#5A7DC1"/><circle cx="363.6" cy="1380.7" r="5.0" fill="#5A7DC1"/><line x1="909.5" y1="1523.8" x2="926.1" y2="1536.9" stroke="#5A7DC1"/><line x1="909.5" y1="1522.3" x2="926.1" y2="1536.1" stroke="#D8842F"/><circle cx="534.6" cy="1531.9" r="5.0" fill="#724E9B"/><circle cx="346.3" cy="1531.7" r="5.0" fill="#5A7DC1"/><line x1="280.2" y1="1517.2" x2="296.7" y2="1429" stroke="#D8842F"/><circle cx="909.5" cy="1523.8" r="5.0" fill="#5A7DC1"/><line x1="926.1" y1="1536.1" x2="942.6" y2="1541.7" stroke="#D8842F"/><line x1="926.1" y1="1536.9" x2="942.6" y2="1540.9" stroke="#5A7DC1"/><circle cx="909.5" cy="1522.3" r="5.0" fill="#D8842F"/><circle cx="926.1" cy="1536.9" r="5.0" fill="#5A7DC1"/><circle cx="926.1" cy="1536.1" r="5.0" fill="#D8842F"/><circle cx="362.9" cy="1541.3" r="5.0" fill="#5A7DC1"/><line x1="280.2" y1="1508.7" x2="296.7" y2="1427" stroke="#5A7DC1"/><line x1="347.1" y1="1333.8" x2="363.6" y2="1380.7" stroke="#5A7DC1"/><line x1="362.9" y1="1541.3" x2="379.4" y2="1541.4" stroke="#5A7DC1"/><circle cx="626.2" cy="1435.1" r="5.0" fill="#724E9B"/><line x1="534.6" y1="1531.9" x2="541.8" y2="1506.2" stroke="#724E9B"/><circle cx="362.9" cy="1538.2" r="5.0" fill="#D8842F"/><line x1="346.3" y1="1509.4" x2="362.9" y2="1538.2" stroke="#D8842F"/><line x1="362.9" y1="1538.2" x2="379.4" y2="1538.9" stroke="#D8842F"/><line x1="942.6" y1="1541.7" x2="959.1" y2="1544.7" stroke="#D8842F"/><line x1="563.5" y1="1535" x2="570.7" y2="1542.5" stroke="#724E9B"/><circle cx="942.6" cy="1541.7" r="5.0" fill="#D8842F"/><line x1="942.6" y1="1540.9" x2="959.1" y2="1543.9" stroke="#5A7DC1"/><circle cx="942.6" cy="1540.9" r="5.0" fill="#5A7DC1"/><line x1="570.7" y1="1542.5" x2="578" y2="1544.3" stroke="#724E9B"/><circle cx="363.6" cy="1360.8" r="5.0" fill="#D8842F"/><line x1="329.8" y1="1466.2" x2="346.3" y2="1531.7" stroke="#5A7DC1"/><circle cx="379.4" cy="1541.4" r="5.0" fill="#5A7DC1"/><circle cx="570.7" cy="1542.5" r="5.0" fill="#724E9B"/><circle cx="563.5" cy="1535" r="5.0" fill="#724E9B"/><line x1="347.1" y1="1322.4" x2="363.6" y2="1360.8" stroke="#D8842F"/><circle cx="346.3" cy="1509.4" r="5.0" fill="#D8842F"/><circle cx="379.4" cy="1538.9" r="5.0" fill="#D8842F"/><line x1="959.1" y1="1544.7" x2="975.7" y2="1550.8" stroke="#D8842F"/><circle cx="578" cy="1544.3" r="5.0" fill="#724E9B"/><line x1="959.1" y1="1543.9" x2="975.7" y2="1547.7" stroke="#5A7DC1"/><circle cx="959.1" cy="1544.7" r="5.0" fill="#D8842F"/><circle cx="959.1" cy="1543.9" r="5.0" fill="#5A7DC1"/><line x1="578" y1="1544.3" x2="585.2" y2="1532.5" stroke="#724E9B"/><circle cx="347.1" cy="1333.8" r="5.0" fill="#5A7DC1"/><circle cx="582.8" cy="1374.1" r="5.0" fill="#724E9B"/><circle cx="541.8" cy="1506.2" r="5.0" fill="#724E9B"/><circle cx="975.7" cy="1550.8" r="5.0" fill="#D8842F"/><circle cx="975.7" cy="1547.7" r="5.0" fill="#5A7DC1"/><circle cx="347.1" cy="1322.4" r="5.0" fill="#D8842F"/><line x1="556.3" y1="1478.3" x2="563.5" y2="1535" stroke="#724E9B"/><circle cx="585.2" cy="1532.5" r="5.0" fill="#724E9B"/><line x1="329.8" y1="1436.8" x2="346.3" y2="1509.4" stroke="#D8842F"/><line x1="614.1" y1="1549.2" x2="621.4" y2="1554.8" stroke="#724E9B"/><line x1="606.9" y1="1537.7" x2="614.1" y2="1549.2" stroke="#724E9B"/><line x1="621.4" y1="1554.8" x2="628.6" y2="1556.5" stroke="#724E9B"/><circle cx="329.8" cy="1466.2" r="5.0" fill="#5A7DC1"/><circle cx="614.1" cy="1549.2" r="5.0" fill="#724E9B"/><line x1="628.6" y1="1556.5" x2="635.8" y2="1560.2" stroke="#724E9B"/><circle cx="621.4" cy="1554.8" r="5.0" fill="#724E9B"/><line x1="635.8" y1="1560.2" x2="643" y2="1561.9" stroke="#724E9B"/><circle cx="606.9" cy="1537.7" r="5.0" fill="#724E9B"/><circle cx="628.6" cy="1556.5" r="5.0" fill="#724E9B"/><circle cx="296.7" cy="1429" r="5.0" fill="#D8842F"/><line x1="585.2" y1="1532.5" x2="592.4" y2="1492.7" stroke="#724E9B"/><circle cx="296.7" cy="1427" r="5.0" fill="#5A7DC1"/><circle cx="826.1" cy="1561.5" r="5.0" fill="#5A7DC1"/><line x1="826.1" y1="1561.5" x2="842.7" y2="1562.4" stroke="#5A7DC1"/><circle cx="635.8" cy="1560.2" r="5.0" fill="#724E9B"/><line x1="643" y1="1561.9" x2="650.3" y2="1563.7" stroke="#724E9B"/><line x1="541.8" y1="1506.2" x2="549" y2="1436" stroke="#724E9B"/><line x1="826.1" y1="1553.2" x2="842.7" y2="1564.7" stroke="#D8842F"/><circle cx="643" cy="1561.9" r="5.0" fill="#724E9B"/><line x1="599.7" y1="1496.9" x2="606.9" y2="1537.7" stroke="#724E9B"/><circle cx="826.1" cy="1553.2" r="5.0" fill="#D8842F"/><circle cx="650.3" cy="1563.7" r="5.0" fill="#724E9B"/><circle cx="556.3" cy="1478.3" r="5.0" fill="#724E9B"/><circle cx="842.7" cy="1564.7" r="5.0" fill="#D8842F"/><line x1="471.8" y1="1564.3" x2="479.1" y2="1572" stroke="#724E9B"/><circle cx="842.7" cy="1562.4" r="5.0" fill="#5A7DC1"/><line x1="842.7" y1="1562.4" x2="859.2" y2="1563.9" stroke="#5A7DC1"/><line x1="479.1" y1="1572" x2="486.3" y2="1572.4" stroke="#724E9B"/><line x1="842.7" y1="1564.7" x2="859.2" y2="1555.4" stroke="#D8842F"/><circle cx="479.1" cy="1572" r="5.0" fill="#724E9B"/><circle cx="471.8" cy="1564.3" r="5.0" fill="#724E9B"/><circle cx="329.8" cy="1436.8" r="5.0" fill="#D8842F"/><line x1="486.3" y1="1572.4" x2="493.5" y2="1571.9" stroke="#724E9B"/><line x1="549" y1="1436" x2="556.3" y2="1478.3" stroke="#724E9B"/><line x1="592.4" y1="1492.7" x2="599.7" y2="1496.9" stroke="#724E9B"/><circle cx="486.3" cy="1572.4" r="5.0" fill="#724E9B"/><circle cx="859.2" cy="1563.9" r="5.0" fill="#5A7DC1"/><line x1="859.2" y1="1563.9" x2="875.7" y2="1564.6" stroke="#5A7DC1"/><line x1="313.3" y1="1363.2" x2="329.8" y2="1466.2" stroke="#5A7DC1"/><line x1="493.5" y1="1571.9" x2="500.8" y2="1571.9" stroke="#724E9B"/><circle cx="592.4" cy="1492.7" r="5.0" fill="#724E9B"/><circle cx="599.7" cy="1496.9" r="5.0" fill="#724E9B"/><line x1="859.2" y1="1555.4" x2="875.7" y2="1565.3" stroke="#D8842F"/><circle cx="493.5" cy="1571.9" r="5.0" fill="#724E9B"/><line x1="296.7" y1="1427" x2="313.3" y2="1363.2" stroke="#5A7DC1"/><line x1="296.7" y1="1429" x2="313.3" y2="1357" stroke="#D8842F"/><circle cx="859.2" cy="1555.4" r="5.0" fill="#D8842F"/><line x1="875.7" y1="1565.3" x2="892.3" y2="1575.3" stroke="#D8842F"/><line x1="875.7" y1="1564.6" x2="892.3" y2="1573" stroke="#5A7DC1"/><circle cx="500.8" cy="1571.9" r="5.0" fill="#724E9B"/><circle cx="875.7" cy="1565.3" r="5.0" fill="#D8842F"/><circle cx="875.7" cy="1564.6" r="5.0" fill="#5A7DC1"/><circle cx="892.3" cy="1575.3" r="5.0" fill="#D8842F"/><line x1="313.3" y1="1357" x2="329.8" y2="1436.8" stroke="#D8842F"/><line x1="892.3" y1="1573" x2="908.8" y2="1578.6" stroke="#5A7DC1"/><line x1="892.3" y1="1575.3" x2="908.8" y2="1575.5" stroke="#D8842F"/><circle cx="549" cy="1436" r="5.0" fill="#724E9B"/><circle cx="892.3" cy="1573" r="5.0" fill="#5A7DC1"/><line x1="529.7" y1="1574.6" x2="536.9" y2="1582.9" stroke="#724E9B"/><line x1="908.8" y1="1578.6" x2="925.3" y2="1585.5" stroke="#5A7DC1"/><line x1="536.9" y1="1582.9" x2="544.2" y2="1585.6" stroke="#724E9B"/><circle cx="908.8" cy="1578.6" r="5.0" fill="#5A7DC1"/><line x1="908.8" y1="1575.5" x2="925.3" y2="1582.4" stroke="#D8842F"/><circle cx="536.9" cy="1582.9" r="5.0" fill="#724E9B"/><circle cx="908.8" cy="1575.5" r="5.0" fill="#D8842F"/><circle cx="529.7" cy="1574.6" r="5.0" fill="#724E9B"/><line x1="522.5" y1="1553.1" x2="529.7" y2="1574.6" stroke="#724E9B"/><circle cx="544.2" cy="1585.6" r="5.0" fill="#724E9B"/><line x1="925.3" y1="1585.5" x2="941.9" y2="1587.3" stroke="#5A7DC1"/><circle cx="925.3" cy="1585.5" r="5.0" fill="#5A7DC1"/><line x1="925.3" y1="1582.4" x2="941.9" y2="1586.2" stroke="#D8842F"/><circle cx="925.3" cy="1582.4" r="5.0" fill="#D8842F"/><line x1="544.2" y1="1585.6" x2="551.4" y2="1569" stroke="#724E9B"/><circle cx="522.5" cy="1553.1" r="5.0" fill="#724E9B"/><circle cx="941.9" cy="1587.3" r="5.0" fill="#5A7DC1"/><circle cx="313.3" cy="1363.2" r="5.0" fill="#5A7DC1"/><circle cx="941.9" cy="1586.2" r="5.0" fill="#D8842F"/><line x1="500.8" y1="1571.9" x2="508" y2="1480" stroke="#724E9B"/><circle cx="313.3" cy="1357" r="5.0" fill="#D8842F"/><line x1="573.1" y1="1578.1" x2="580.3" y2="1594.8" stroke="#724E9B"/><line x1="580.3" y1="1594.8" x2="587.6" y2="1590.5" stroke="#724E9B"/><circle cx="551.4" cy="1569" r="5.0" fill="#724E9B"/><circle cx="580.3" cy="1594.8" r="5.0" fill="#724E9B"/><line x1="565.9" y1="1570.4" x2="573.1" y2="1578.1" stroke="#724E9B"/><line x1="551.4" y1="1569" x2="558.6" y2="1549.1" stroke="#724E9B"/><line x1="587.6" y1="1590.5" x2="594.8" y2="1591.9" stroke="#724E9B"/><line x1="594.8" y1="1591.9" x2="602" y2="1599.6" stroke="#724E9B"/><circle cx="573.1" cy="1578.1" r="5.0" fill="#724E9B"/><circle cx="587.6" cy="1590.5" r="5.0" fill="#724E9B"/><line x1="602" y1="1599.6" x2="609.2" y2="1600.2" stroke="#724E9B"/><circle cx="565.9" cy="1570.4" r="5.0" fill="#724E9B"/><line x1="558.6" y1="1549.1" x2="565.9" y2="1570.4" stroke="#724E9B"/><circle cx="602" cy="1599.6" r="5.0" fill="#724E9B"/><line x1="609.2" y1="1600.2" x2="616.5" y2="1603.1" stroke="#724E9B"/><circle cx="594.8" cy="1591.9" r="5.0" fill="#724E9B"/><circle cx="792.3" cy="1598.6" r="5.0" fill="#D8842F"/><line x1="792.3" y1="1594.3" x2="808.9" y2="1601.6" stroke="#5A7DC1"/><line x1="792.3" y1="1598.6" x2="808.9" y2="1597" stroke="#D8842F"/><circle cx="792.3" cy="1594.3" r="5.0" fill="#5A7DC1"/><circle cx="609.2" cy="1600.2" r="5.0" fill="#724E9B"/><line x1="515.2" y1="1469" x2="522.5" y2="1553.1" stroke="#724E9B"/><circle cx="616.5" cy="1603.1" r="5.0" fill="#724E9B"/><circle cx="558.6" cy="1549.1" r="5.0" fill="#724E9B"/><circle cx="808.9" cy="1601.6" r="5.0" fill="#5A7DC1"/><line x1="808.9" y1="1601.6" x2="825.4" y2="1598.4" stroke="#5A7DC1"/><circle cx="808.9" cy="1597" r="5.0" fill="#D8842F"/><line x1="808.9" y1="1597" x2="825.4" y2="1597.7" stroke="#D8842F"/><line x1="825.4" y1="1598.4" x2="841.9" y2="1600.7" stroke="#5A7DC1"/><circle cx="825.4" cy="1598.4" r="5.0" fill="#5A7DC1"/><line x1="825.4" y1="1597.7" x2="841.9" y2="1599.9" stroke="#D8842F"/><circle cx="825.4" cy="1597.7" r="5.0" fill="#D8842F"/><circle cx="508" cy="1480" r="5.0" fill="#724E9B"/><line x1="841.9" y1="1599.9" x2="858.5" y2="1616.9" stroke="#D8842F"/><line x1="508" y1="1480" x2="515.2" y2="1469" stroke="#724E9B"/><line x1="841.9" y1="1600.7" x2="858.5" y2="1605.5" stroke="#5A7DC1"/><circle cx="858.5" cy="1616.9" r="5.0" fill="#D8842F"/><circle cx="841.9" cy="1600.7" r="5.0" fill="#5A7DC1"/><line x1="858.5" y1="1616.9" x2="875" y2="1614.7" stroke="#D8842F"/><circle cx="841.9" cy="1599.9" r="5.0" fill="#D8842F"/><line x1="858.5" y1="1605.5" x2="875" y2="1617" stroke="#5A7DC1"/><circle cx="515.2" cy="1469" r="5.0" fill="#724E9B"/><circle cx="858.5" cy="1605.5" r="5.0" fill="#5A7DC1"/><line x1="875" y1="1614.7" x2="891.5" y2="1622.7" stroke="#D8842F"/><circle cx="875" cy="1617" r="5.0" fill="#5A7DC1"/><line x1="875" y1="1617" x2="891.5" y2="1618.5" stroke="#5A7DC1"/><circle cx="875" cy="1614.7" r="5.0" fill="#D8842F"/><circle cx="891.5" cy="1622.7" r="5.0" fill="#D8842F"/><line x1="891.5" y1="1618.5" x2="908.1" y2="1624" stroke="#5A7DC1"/><line x1="891.5" y1="1622.7" x2="908.1" y2="1619.2" stroke="#D8842F"/><circle cx="891.5" cy="1618.5" r="5.0" fill="#5A7DC1"/><circle cx="908.1" cy="1624" r="5.0" fill="#5A7DC1"/><circle cx="908.1" cy="1619.2" r="5.0" fill="#D8842F"/><circle cx="758.5" cy="1633.7" r="5.0" fill="#5A7DC1"/><line x1="758.5" y1="1630.1" x2="775.1" y2="1638.7" stroke="#D8842F"/><line x1="758.5" y1="1633.7" x2="775.1" y2="1631.3" stroke="#5A7DC1"/><circle cx="758.5" cy="1630.1" r="5.0" fill="#D8842F"/><circle cx="775.1" cy="1638.7" r="5.0" fill="#D8842F"/><line x1="775.1" y1="1638.7" x2="791.6" y2="1640" stroke="#D8842F"/><line x1="775.1" y1="1631.3" x2="791.6" y2="1640" stroke="#5A7DC1"/><circle cx="775.1" cy="1631.3" r="5.0" fill="#5A7DC1"/><line x1="791.6" y1="1640" x2="808.1" y2="1644.2" stroke="#D8842F"/><circle cx="791.6" cy="1640" r="5.0" fill="#D8842F"/><circle cx="791.6" cy="1640" r="5.0" fill="#5A7DC1"/><line x1="791.6" y1="1640" x2="808.1" y2="1633.1" stroke="#5A7DC1"/><line x1="808.1" y1="1644.2" x2="824.7" y2="1648.5" stroke="#D8842F"/><circle cx="808.1" cy="1644.2" r="5.0" fill="#D8842F"/><line x1="808.1" y1="1633.1" x2="824.7" y2="1648" stroke="#5A7DC1"/><line x1="824.7" y1="1648" x2="841.2" y2="1653.5" stroke="#5A7DC1"/><line x1="824.7" y1="1648.5" x2="841.2" y2="1652.2" stroke="#D8842F"/><circle cx="824.7" cy="1648.5" r="5.0" fill="#D8842F"/><circle cx="808.1" cy="1633.1" r="5.0" fill="#5A7DC1"/><circle cx="824.7" cy="1648" r="5.0" fill="#5A7DC1"/><line x1="841.2" y1="1653.5" x2="857.7" y2="1660.2" stroke="#5A7DC1"/><circle cx="841.2" cy="1653.5" r="5.0" fill="#5A7DC1"/><circle cx="841.2" cy="1652.2" r="5.0" fill="#D8842F"/><line x1="841.2" y1="1652.2" x2="857.7" y2="1650.4" stroke="#D8842F"/><line x1="857.7" y1="1660.2" x2="874.3" y2="1662.1" stroke="#5A7DC1"/><circle cx="857.7" cy="1660.2" r="5.0" fill="#5A7DC1"/><line x1="857.7" y1="1650.4" x2="874.3" y2="1662.1" stroke="#D8842F"/><circle cx="857.7" cy="1650.4" r="5.0" fill="#D8842F"/><circle cx="874.3" cy="1662.1" r="5.0" fill="#D8842F"/><circle cx="874.3" cy="1662.1" r="5.0" fill="#5A7DC1"/></g>
<line x1="183.2" y1="1523.5" x2="183.2" y2="1330.1" stroke="#262626" stroke-width="4.6" />
<line x1="183.2" y1="1523.5" x2="908.6" y2="1698.7" stroke="#262626" stroke-width="4.6" />
<line x1="908.6" y1="1698.7" x2="1246.6" y2="1322" stroke="#262626" stroke-width="4.6" />
<line x1="183.2" y1="1523.5" x2="163.3" y2="1518.7" stroke="#262626" stroke-width="4.6" />
<line x1="183.2" y1="1426.8" x2="163.3" y2="1422" stroke="#262626" stroke-width="4.6" />
<line x1="183.2" y1="1330.1" x2="163.3" y2="1325.3" stroke="#262626" stroke-width="4.6" />
<line x1="255.7" y1="1541" x2="242" y2="1556.3" stroke="#262626" stroke-width="4.6" />
<line x1="400.8" y1="1576.1" x2="387.1" y2="1591.3" stroke="#262626" stroke-width="4.6" />
<line x1="545.9" y1="1611.1" x2="532.2" y2="1626.4" stroke="#262626" stroke-width="4.6" />
<line x1="691" y1="1646.1" x2="677.3" y2="1661.4" stroke="#262626" stroke-width="4.6" />
<line x1="836.1" y1="1681.2" x2="822.4" y2="1696.4" stroke="#262626" stroke-width="4.6" />
<line x1="925.5" y1="1679.9" x2="944" y2="1684.3" stroke="#262626" stroke-width="4.6" />
<line x1="959.3" y1="1642.2" x2="977.8" y2="1646.7" stroke="#262626" stroke-width="4.6" />
<line x1="993.1" y1="1604.5" x2="1011.6" y2="1609" stroke="#262626" stroke-width="4.6" />
<line x1="1026.9" y1="1566.9" x2="1045.4" y2="1571.3" stroke="#262626" stroke-width="4.6" />
<line x1="1060.7" y1="1529.2" x2="1079.2" y2="1533.6" stroke="#262626" stroke-width="4.6" />
<line x1="1094.5" y1="1491.5" x2="1113" y2="1496" stroke="#262626" stroke-width="4.6" />
<line x1="1128.3" y1="1453.8" x2="1146.8" y2="1458.3" stroke="#262626" stroke-width="4.6" />
<line x1="1162.1" y1="1416.2" x2="1180.6" y2="1420.6" stroke="#262626" stroke-width="4.6" />
<line x1="1195.9" y1="1378.5" x2="1214.4" y2="1383" stroke="#262626" stroke-width="4.6" />
<line x1="1229.7" y1="1340.8" x2="1248.2" y2="1345.3" stroke="#262626" stroke-width="4.6" />
<path d="M139.68 1308.72 L139.68 1334.28 L136.33 1334.28 L136.33 1316.46 L130.32 1316.46 L130.32 1314.66 L134.03 1313.47 L135.90 1311.96 L137.16 1309.80 L137.70 1308.72Z" fill="#262626"/>
<text x="93.40" y="1431.90" font-size="36" fill="#262626">0.5</text>
<text x="127.00" y="1528.20" font-size="36" fill="#262626">0</text>
<text x="150.74" y="1600.02" font-size="36" fill="#262626">-200</text>
<text x="295.82" y="1635.06" font-size="36" fill="#262626">-</text><path d="M319.90 1609.50 L319.90 1635.06 L316.56 1635.06 L316.56 1617.24 L310.54 1617.24 L310.54 1615.44 L314.25 1614.25 L316.12 1612.74 L317.38 1610.58 L317.92 1609.50Z" fill="#262626"/><text x="327.83" y="1635.06" font-size="36" fill="#262626">00</text>
<text x="499.60" y="1670.10" font-size="36" fill="#262626">0</text>
<path d="M610.08 1679.58 L610.08 1705.14 L606.73 1705.14 L606.73 1687.32 L600.72 1687.32 L600.72 1685.52 L604.42 1684.33 L606.30 1682.82 L607.56 1680.66 L608.10 1679.58Z" fill="#262626"/><text x="618.00" y="1705.14" font-size="36" fill="#262626">00</text>
<text x="743.06" y="1740.18" font-size="36" fill="#262626">200</text>
<path d="M969.10 1696.48 L969.10 1722.04 L965.75 1722.04 L965.75 1704.22 L959.74 1704.22 L959.74 1702.42 L963.44 1701.23 L965.32 1699.72 L966.58 1697.56 L967.12 1696.48Z" fill="#262626"/>
<text x="990.80" y="1684.62" font-size="36" fill="#262626">2</text>
<text x="1024.60" y="1646.83" font-size="36" fill="#262626">3</text>
<text x="1058.40" y="1609.03" font-size="36" fill="#262626">4</text>
<text x="1092.20" y="1571.23" font-size="36" fill="#262626">5</text>
<text x="1126.00" y="1533.82" font-size="36" fill="#262626">6</text>
<text x="1159.80" y="1496.02" font-size="36" fill="#262626">7</text>
<text x="1193.60" y="1458.48" font-size="36" fill="#262626">8</text>
<text x="1227.40" y="1420.81" font-size="36" fill="#262626">9</text>
<path d="M1273.30 1357.58 L1273.30 1383.13 L1269.95 1383.13 L1269.95 1365.32 L1263.94 1365.32 L1263.94 1363.52 L1267.64 1362.33 L1269.52 1360.82 L1270.78 1358.65 L1271.32 1357.58Z" fill="#262626"/><text x="1281.22" y="1383.13" font-size="36" fill="#262626">0</text>
<text x="-108.03" y="536.12" font-size="40" fill="#262626" transform="rotate(-90 60.6 525.8)">Survival probability</text>
<text x="263.00" y="788.20" font-size="40.3" fill="#262626" transform="rotate(12.4 462.5 777.7)">Raman detuning [kHz]</text>
<text x="1070.38" y="643.40" font-size="40.8" fill="#262626" transform="rotate(-48.7 1181 628.9)">Site number</text>
<text x="-108.03" y="1463.62" font-size="40" fill="#262626" transform="rotate(-90 60.6 1453.2)">Survival probability</text>
<text x="260.50" y="1712.50" font-size="40.3" fill="#262626" transform="rotate(12.4 460 1702)">Raman detuning [kHz]</text>
<text x="1068.38" y="1570.90" font-size="40.8" fill="#262626" transform="rotate(-48.7 1179 1556.4)">Site number</text>
<rect x="30.4" y="98.6" width="251.4" height="134.4" fill="#fff" stroke="#262626" stroke-width="4.4"/>
<line x1="39" y1="123.5" x2="131" y2="123.5" stroke="#D8842F" stroke-width="4.6"/>
<circle cx="85" cy="123.5" r="5.4" fill="#D8842F"/>
<text x="137.20" y="135.00" font-size="33" fill="#000">Radial </text><path d="M251.01 111.57 L251.01 135.00 L247.94 135.00 L247.94 118.66 L242.43 118.66 L242.43 117.01 L245.83 115.93 L247.55 114.54 L248.70 112.56 L249.20 111.57Z" fill="#000"/>
<line x1="39" y1="165.9" x2="131" y2="165.9" stroke="#5A7DC1" stroke-width="4.6"/>
<circle cx="85" cy="165.9" r="5.4" fill="#5A7DC1"/>
<text x="137.20" y="177.50" font-size="33" fill="#000">Radial 2</text>
<line x1="39" y1="208.3" x2="131" y2="208.3" stroke="#724E9B" stroke-width="4.6"/>
<circle cx="85" cy="208.3" r="5.4" fill="#724E9B"/>
<text x="137.20" y="220.00" font-size="33" fill="#000">Axial</text>
<rect x="30.4" y="1025.1" width="251.4" height="134.4" fill="#fff" stroke="#262626" stroke-width="4.4"/>
<line x1="39" y1="1050.0" x2="131" y2="1050.0" stroke="#D8842F" stroke-width="4.6"/>
<circle cx="85" cy="1050.0" r="5.4" fill="#D8842F"/>
<text x="137.20" y="1061.50" font-size="33" fill="#000">Radial </text><path d="M251.01 1038.07 L251.01 1061.50 L247.94 1061.50 L247.94 1045.16 L242.43 1045.16 L242.43 1043.51 L245.83 1042.43 L247.55 1041.04 L248.70 1039.06 L249.20 1038.07Z" fill="#000"/>
<line x1="39" y1="1092.4" x2="131" y2="1092.4" stroke="#5A7DC1" stroke-width="4.6"/>
<circle cx="85" cy="1092.4" r="5.4" fill="#5A7DC1"/>
<text x="137.20" y="1104.00" font-size="33" fill="#000">Radial 2</text>
<line x1="39" y1="1134.8" x2="131" y2="1134.8" stroke="#724E9B" stroke-width="4.6"/>
<circle cx="85" cy="1134.8" r="5.4" fill="#724E9B"/>
<text x="137.20" y="1146.50" font-size="33" fill="#000">Axial</text>
<text x="-3.2" y="32.55" font-size="39" fill="#000" textLength="118.3" lengthAdjust="spacingAndGlyphs">(a) Na</text>
<text x="-1.65" y="960.05" font-size="39" fill="#000" textLength="116.8" lengthAdjust="spacingAndGlyphs">(b) Cs</text>
<rect x="781.5" y="0" width="520" height="227" fill="#fff"/>
<rect x="769" y="905" width="531" height="228" fill="#fff"/>
<rect x="830.4" y="27.8" width="445.8" height="137.2" fill="#fff" stroke="none"/>
<polyline points="844.4,62.5 890.9,83.3 937.4,113.5 983.9,132.6 1030.4,130.1 1076.9,131.8 1123.4,122.3 1169.9,136.2 1216.4,130.1 1262.9,128.4" fill="none" stroke="#724E9B" stroke-width="5.8" stroke-linejoin="round" stroke-dasharray="16 5"/>
<line x1="844.4" y1="85.9" x2="844.4" y2="39.2" stroke="#724E9B" stroke-width="5.8" />
<line x1="835.2" y1="85.9" x2="853.6" y2="85.9" stroke="#724E9B" stroke-width="5.8" />
<line x1="835.2" y1="39.2" x2="853.6" y2="39.2" stroke="#724E9B" stroke-width="5.8" />
<line x1="890.9" y1="103.3" x2="890.9" y2="65.9" stroke="#724E9B" stroke-width="5.8" />
<line x1="881.7" y1="103.3" x2="900.1" y2="103.3" stroke="#724E9B" stroke-width="5.8" />
<line x1="881.7" y1="65.9" x2="900.1" y2="65.9" stroke="#724E9B" stroke-width="5.8" />
<line x1="937.4" y1="127.5" x2="937.4" y2="104" stroke="#724E9B" stroke-width="5.8" />
<line x1="928.2" y1="127.5" x2="946.6" y2="127.5" stroke="#724E9B" stroke-width="5.8" />
<line x1="928.2" y1="104" x2="946.6" y2="104" stroke="#724E9B" stroke-width="5.8" />
<line x1="983.9" y1="140.2" x2="983.9" y2="125" stroke="#724E9B" stroke-width="5.8" />
<line x1="974.7" y1="140.2" x2="993.1" y2="140.2" stroke="#724E9B" stroke-width="5.8" />
<line x1="974.7" y1="125" x2="993.1" y2="125" stroke="#724E9B" stroke-width="5.8" />
<line x1="1030.4" y1="138.3" x2="1030.4" y2="121.4" stroke="#724E9B" stroke-width="5.8" />
<line x1="1021.2" y1="138.3" x2="1039.6" y2="138.3" stroke="#724E9B" stroke-width="5.8" />
<line x1="1021.2" y1="121.4" x2="1039.6" y2="121.4" stroke="#724E9B" stroke-width="5.8" />
<line x1="1076.9" y1="141.4" x2="1076.9" y2="122.3" stroke="#724E9B" stroke-width="5.8" />
<line x1="1067.7" y1="141.4" x2="1086.1" y2="141.4" stroke="#724E9B" stroke-width="5.8" />
<line x1="1067.7" y1="122.3" x2="1086.1" y2="122.3" stroke="#724E9B" stroke-width="5.8" />
<line x1="1123.4" y1="134.5" x2="1123.4" y2="108.4" stroke="#724E9B" stroke-width="5.8" />
<line x1="1114.2" y1="134.5" x2="1132.6" y2="134.5" stroke="#724E9B" stroke-width="5.8" />
<line x1="1114.2" y1="108.4" x2="1132.6" y2="108.4" stroke="#724E9B" stroke-width="5.8" />
<line x1="1169.9" y1="144" x2="1169.9" y2="128.8" stroke="#724E9B" stroke-width="5.8" />
<line x1="1160.7" y1="144" x2="1179.1" y2="144" stroke="#724E9B" stroke-width="5.8" />
<line x1="1160.7" y1="128.8" x2="1179.1" y2="128.8" stroke="#724E9B" stroke-width="5.8" />
<line x1="1216.4" y1="138.3" x2="1216.4" y2="124.8" stroke="#724E9B" stroke-width="5.8" />
<line x1="1207.2" y1="138.3" x2="1225.6" y2="138.3" stroke="#724E9B" stroke-width="5.8" />
<line x1="1207.2" y1="124.8" x2="1225.6" y2="124.8" stroke="#724E9B" stroke-width="5.8" />
<line x1="1262.9" y1="140.4" x2="1262.9" y2="120.6" stroke="#724E9B" stroke-width="5.8" />
<line x1="1253.7" y1="140.4" x2="1272.1" y2="140.4" stroke="#724E9B" stroke-width="5.8" />
<line x1="1253.7" y1="120.6" x2="1272.1" y2="120.6" stroke="#724E9B" stroke-width="5.8" />
<polyline points="844.4,94.5 890.9,109.4 937.4,130.1 983.9,150.9 1030.4,138.7 1076.9,138.7 1123.4,131.8 1169.9,149.2 1216.4,133.6 1262.9,131.8" fill="none" stroke="#5A7DC1" stroke-width="5.8" stroke-linejoin="round" stroke-dasharray="16 5"/>
<line x1="844.4" y1="112.8" x2="844.4" y2="78.1" stroke="#5A7DC1" stroke-width="5.8" />
<line x1="835.2" y1="112.8" x2="853.6" y2="112.8" stroke="#5A7DC1" stroke-width="5.8" />
<line x1="835.2" y1="78.1" x2="853.6" y2="78.1" stroke="#5A7DC1" stroke-width="5.8" />
<line x1="890.9" y1="124" x2="890.9" y2="95.4" stroke="#5A7DC1" stroke-width="5.8" />
<line x1="881.7" y1="124" x2="900.1" y2="124" stroke="#5A7DC1" stroke-width="5.8" />
<line x1="881.7" y1="95.4" x2="900.1" y2="95.4" stroke="#5A7DC1" stroke-width="5.8" />
<line x1="937.4" y1="147.3" x2="937.4" y2="124" stroke="#5A7DC1" stroke-width="5.8" />
<line x1="928.2" y1="147.3" x2="946.6" y2="147.3" stroke="#5A7DC1" stroke-width="5.8" />
<line x1="928.2" y1="124" x2="946.6" y2="124" stroke="#5A7DC1" stroke-width="5.8" />
<line x1="983.9" y1="156" x2="983.9" y2="142.1" stroke="#5A7DC1" stroke-width="5.8" />
<line x1="974.7" y1="156" x2="993.1" y2="156" stroke="#5A7DC1" stroke-width="5.8" />
<line x1="974.7" y1="142.1" x2="993.1" y2="142.1" stroke="#5A7DC1" stroke-width="5.8" />
<line x1="1030.4" y1="148.4" x2="1030.4" y2="128.8" stroke="#5A7DC1" stroke-width="5.8" />
<line x1="1021.2" y1="148.4" x2="1039.6" y2="148.4" stroke="#5A7DC1" stroke-width="5.8" />
<line x1="1021.2" y1="128.8" x2="1039.6" y2="128.8" stroke="#5A7DC1" stroke-width="5.8" />
<line x1="1076.9" y1="149.9" x2="1076.9" y2="128.8" stroke="#5A7DC1" stroke-width="5.8" />
<line x1="1067.7" y1="149.9" x2="1086.1" y2="149.9" stroke="#5A7DC1" stroke-width="5.8" />
<line x1="1067.7" y1="128.8" x2="1086.1" y2="128.8" stroke="#5A7DC1" stroke-width="5.8" />
<line x1="1123.4" y1="142.1" x2="1123.4" y2="123.1" stroke="#5A7DC1" stroke-width="5.8" />
<line x1="1114.2" y1="142.1" x2="1132.6" y2="142.1" stroke="#5A7DC1" stroke-width="5.8" />
<line x1="1114.2" y1="123.1" x2="1132.6" y2="123.1" stroke="#5A7DC1" stroke-width="5.8" />
<line x1="1169.9" y1="158.7" x2="1169.9" y2="142.1" stroke="#5A7DC1" stroke-width="5.8" />
<line x1="1160.7" y1="158.7" x2="1179.1" y2="158.7" stroke="#5A7DC1" stroke-width="5.8" />
<line x1="1160.7" y1="142.1" x2="1179.1" y2="142.1" stroke="#5A7DC1" stroke-width="5.8" />
<line x1="1216.4" y1="142.1" x2="1216.4" y2="125" stroke="#5A7DC1" stroke-width="5.8" />
<line x1="1207.2" y1="142.1" x2="1225.6" y2="142.1" stroke="#5A7DC1" stroke-width="5.8" />
<line x1="1207.2" y1="125" x2="1225.6" y2="125" stroke="#5A7DC1" stroke-width="5.8" />
<line x1="1262.9" y1="140.2" x2="1262.9" y2="123.1" stroke="#5A7DC1" stroke-width="5.8" />
<line x1="1253.7" y1="140.2" x2="1272.1" y2="140.2" stroke="#5A7DC1" stroke-width="5.8" />
<line x1="1253.7" y1="123.1" x2="1272.1" y2="123.1" stroke="#5A7DC1" stroke-width="5.8" />
<polyline points="844.4,128.4 890.9,122.3 937.4,141.4 983.9,135.3 1030.4,127.5 1076.9,135.3 1123.4,128.4 1169.9,138.7 1216.4,132.6 1262.9,142.3" fill="none" stroke="#D8842F" stroke-width="5.8" stroke-linejoin="round" stroke-dasharray="16 5"/>
<line x1="844.4" y1="139.7" x2="844.4" y2="117.9" stroke="#D8842F" stroke-width="5.8" />
<line x1="835.2" y1="139.7" x2="853.6" y2="139.7" stroke="#D8842F" stroke-width="5.8" />
<line x1="835.2" y1="117.9" x2="853.6" y2="117.9" stroke="#D8842F" stroke-width="5.8" />
<line x1="890.9" y1="135.3" x2="890.9" y2="109.4" stroke="#D8842F" stroke-width="5.8" />
<line x1="881.7" y1="135.3" x2="900.1" y2="135.3" stroke="#D8842F" stroke-width="5.8" />
<line x1="881.7" y1="109.4" x2="900.1" y2="109.4" stroke="#D8842F" stroke-width="5.8" />
<line x1="937.4" y1="151.9" x2="937.4" y2="134.5" stroke="#D8842F" stroke-width="5.8" />
<line x1="928.2" y1="151.9" x2="946.6" y2="151.9" stroke="#D8842F" stroke-width="5.8" />
<line x1="928.2" y1="134.5" x2="946.6" y2="134.5" stroke="#D8842F" stroke-width="5.8" />
<line x1="983.9" y1="144.8" x2="983.9" y2="124" stroke="#D8842F" stroke-width="5.8" />
<line x1="974.7" y1="144.8" x2="993.1" y2="144.8" stroke="#D8842F" stroke-width="5.8" />
<line x1="974.7" y1="124" x2="993.1" y2="124" stroke="#D8842F" stroke-width="5.8" />
<line x1="1030.4" y1="139.7" x2="1030.4" y2="114.5" stroke="#D8842F" stroke-width="5.8" />
<line x1="1021.2" y1="139.7" x2="1039.6" y2="139.7" stroke="#D8842F" stroke-width="5.8" />
<line x1="1021.2" y1="114.5" x2="1039.6" y2="114.5" stroke="#D8842F" stroke-width="5.8" />
<line x1="1076.9" y1="147.5" x2="1076.9" y2="125" stroke="#D8842F" stroke-width="5.8" />
<line x1="1067.7" y1="147.5" x2="1086.1" y2="147.5" stroke="#D8842F" stroke-width="5.8" />
<line x1="1067.7" y1="125" x2="1086.1" y2="125" stroke="#D8842F" stroke-width="5.8" />
<line x1="1123.4" y1="142.3" x2="1123.4" y2="113.5" stroke="#D8842F" stroke-width="5.8" />
<line x1="1114.2" y1="142.3" x2="1132.6" y2="142.3" stroke="#D8842F" stroke-width="5.8" />
<line x1="1114.2" y1="113.5" x2="1132.6" y2="113.5" stroke="#D8842F" stroke-width="5.8" />
<line x1="1169.9" y1="149.9" x2="1169.9" y2="128.4" stroke="#D8842F" stroke-width="5.8" />
<line x1="1160.7" y1="149.9" x2="1179.1" y2="149.9" stroke="#D8842F" stroke-width="5.8" />
<line x1="1160.7" y1="128.4" x2="1179.1" y2="128.4" stroke="#D8842F" stroke-width="5.8" />
<line x1="1216.4" y1="146.5" x2="1216.4" y2="119.6" stroke="#D8842F" stroke-width="5.8" />
<line x1="1207.2" y1="146.5" x2="1225.6" y2="146.5" stroke="#D8842F" stroke-width="5.8" />
<line x1="1207.2" y1="119.6" x2="1225.6" y2="119.6" stroke="#D8842F" stroke-width="5.8" />
<line x1="1262.9" y1="153.6" x2="1262.9" y2="136.2" stroke="#D8842F" stroke-width="5.8" />
<line x1="1253.7" y1="153.6" x2="1272.1" y2="153.6" stroke="#D8842F" stroke-width="5.8" />
<line x1="1253.7" y1="136.2" x2="1272.1" y2="136.2" stroke="#D8842F" stroke-width="5.8" />
<rect x="830.4" y="27.8" width="445.8" height="137.2" fill="none" stroke="#262626" stroke-width="4.4"/>
<line x1="844.4" y1="165" x2="844.4" y2="158.5" stroke="#262626" stroke-width="4" />
<line x1="844.4" y1="27.8" x2="844.4" y2="34.3" stroke="#262626" stroke-width="4" />
<line x1="890.9" y1="165" x2="890.9" y2="158.5" stroke="#262626" stroke-width="4" />
<line x1="890.9" y1="27.8" x2="890.9" y2="34.3" stroke="#262626" stroke-width="4" />
<line x1="937.4" y1="165" x2="937.4" y2="158.5" stroke="#262626" stroke-width="4" />
<line x1="937.4" y1="27.8" x2="937.4" y2="34.3" stroke="#262626" stroke-width="4" />
<line x1="983.9" y1="165" x2="983.9" y2="158.5" stroke="#262626" stroke-width="4" />
<line x1="983.9" y1="27.8" x2="983.9" y2="34.3" stroke="#262626" stroke-width="4" />
<line x1="1030.4" y1="165" x2="1030.4" y2="158.5" stroke="#262626" stroke-width="4" />
<line x1="1030.4" y1="27.8" x2="1030.4" y2="34.3" stroke="#262626" stroke-width="4" />
<line x1="1076.9" y1="165" x2="1076.9" y2="158.5" stroke="#262626" stroke-width="4" />
<line x1="1076.9" y1="27.8" x2="1076.9" y2="34.3" stroke="#262626" stroke-width="4" />
<line x1="1123.4" y1="165" x2="1123.4" y2="158.5" stroke="#262626" stroke-width="4" />
<line x1="1123.4" y1="27.8" x2="1123.4" y2="34.3" stroke="#262626" stroke-width="4" />
<line x1="1169.9" y1="165" x2="1169.9" y2="158.5" stroke="#262626" stroke-width="4" />
<line x1="1169.9" y1="27.8" x2="1169.9" y2="34.3" stroke="#262626" stroke-width="4" />
<line x1="1216.4" y1="165" x2="1216.4" y2="158.5" stroke="#262626" stroke-width="4" />
<line x1="1216.4" y1="27.8" x2="1216.4" y2="34.3" stroke="#262626" stroke-width="4" />
<line x1="1262.9" y1="165" x2="1262.9" y2="158.5" stroke="#262626" stroke-width="4" />
<line x1="1262.9" y1="27.8" x2="1262.9" y2="34.3" stroke="#262626" stroke-width="4" />
<line x1="830.4" y1="165" x2="836.9" y2="165" stroke="#262626" stroke-width="4" />
<line x1="1276.2" y1="165" x2="1269.7" y2="165" stroke="#262626" stroke-width="4" />
<line x1="830.4" y1="88.8" x2="836.9" y2="88.8" stroke="#262626" stroke-width="4" />
<line x1="1276.2" y1="88.8" x2="1269.7" y2="88.8" stroke="#262626" stroke-width="4" />
<rect x="818.5" y="932.4" width="445.5" height="136.4" fill="#fff" stroke="none"/>
<polyline points="832.2,1025.2 878.7,1039.3 925.1,1048.6 971.6,1027.3 1018,1033.1 1064.5,1027.9 1111,1040.9 1157.4,1037.7 1203.9,1021.9 1250.3,1013.1" fill="none" stroke="#5A7DC1" stroke-width="4.2" stroke-linejoin="round" stroke-dasharray="12.5 4.5"/>
<line x1="832.2" y1="1038.2" x2="832.2" y2="1011" stroke="#5A7DC1" stroke-width="4.2" />
<line x1="823" y1="1038.2" x2="841.4" y2="1038.2" stroke="#5A7DC1" stroke-width="4.2" />
<line x1="823" y1="1011" x2="841.4" y2="1011" stroke="#5A7DC1" stroke-width="4.2" />
<line x1="878.7" y1="1051.9" x2="878.7" y2="1029.5" stroke="#5A7DC1" stroke-width="4.2" />
<line x1="869.5" y1="1051.9" x2="887.9" y2="1051.9" stroke="#5A7DC1" stroke-width="4.2" />
<line x1="869.5" y1="1029.5" x2="887.9" y2="1029.5" stroke="#5A7DC1" stroke-width="4.2" />
<line x1="925.1" y1="1060.1" x2="925.1" y2="1037.7" stroke="#5A7DC1" stroke-width="4.2" />
<line x1="915.9" y1="1060.1" x2="934.3" y2="1060.1" stroke="#5A7DC1" stroke-width="4.2" />
<line x1="915.9" y1="1037.7" x2="934.3" y2="1037.7" stroke="#5A7DC1" stroke-width="4.2" />
<line x1="971.6" y1="1042.1" x2="971.6" y2="1012.1" stroke="#5A7DC1" stroke-width="4.2" />
<line x1="962.4" y1="1042.1" x2="980.8" y2="1042.1" stroke="#5A7DC1" stroke-width="4.2" />
<line x1="962.4" y1="1012.1" x2="980.8" y2="1012.1" stroke="#5A7DC1" stroke-width="4.2" />
<line x1="1018" y1="1048.3" x2="1018" y2="1019.7" stroke="#5A7DC1" stroke-width="4.2" />
<line x1="1008.8" y1="1048.3" x2="1027.2" y2="1048.3" stroke="#5A7DC1" stroke-width="4.2" />
<line x1="1008.8" y1="1019.7" x2="1027.2" y2="1019.7" stroke="#5A7DC1" stroke-width="4.2" />
<line x1="1064.5" y1="1040.9" x2="1064.5" y2="1015.3" stroke="#5A7DC1" stroke-width="4.2" />
<line x1="1055.3" y1="1040.9" x2="1073.7" y2="1040.9" stroke="#5A7DC1" stroke-width="4.2" />
<line x1="1055.3" y1="1015.3" x2="1073.7" y2="1015.3" stroke="#5A7DC1" stroke-width="4.2" />
<line x1="1111" y1="1051.6" x2="1111" y2="1029.1" stroke="#5A7DC1" stroke-width="4.2" />
<line x1="1101.8" y1="1051.6" x2="1120.2" y2="1051.6" stroke="#5A7DC1" stroke-width="4.2" />
<line x1="1101.8" y1="1029.1" x2="1120.2" y2="1029.1" stroke="#5A7DC1" stroke-width="4.2" />
<line x1="1157.4" y1="1049.7" x2="1157.4" y2="1025.2" stroke="#5A7DC1" stroke-width="4.2" />
<line x1="1148.2" y1="1049.7" x2="1166.6" y2="1049.7" stroke="#5A7DC1" stroke-width="4.2" />
<line x1="1148.2" y1="1025.2" x2="1166.6" y2="1025.2" stroke="#5A7DC1" stroke-width="4.2" />
<line x1="1203.9" y1="1037.7" x2="1203.9" y2="1008.8" stroke="#5A7DC1" stroke-width="4.2" />
<line x1="1194.7" y1="1037.7" x2="1213.1" y2="1037.7" stroke="#5A7DC1" stroke-width="4.2" />
<line x1="1194.7" y1="1008.8" x2="1213.1" y2="1008.8" stroke="#5A7DC1" stroke-width="4.2" />
<line x1="1250.3" y1="1027.9" x2="1250.3" y2="999.2" stroke="#5A7DC1" stroke-width="4.2" />
<line x1="1241.1" y1="1027.9" x2="1259.5" y2="1027.9" stroke="#5A7DC1" stroke-width="4.2" />
<line x1="1241.1" y1="999.2" x2="1259.5" y2="999.2" stroke="#5A7DC1" stroke-width="4.2" />
<polyline points="832.2,1050.8 878.7,1030.3 925.1,1043.2 971.6,1052.7 1018,1046.6 1064.5,1047.7 1111,1030.3 1157.4,1032.2 1203.9,1015.3 1250.3,1032.2" fill="none" stroke="#724E9B" stroke-width="4.2" stroke-linejoin="round" stroke-dasharray="12.5 4.5"/>
<line x1="832.2" y1="1063.5" x2="832.2" y2="1042.1" stroke="#724E9B" stroke-width="4.2" />
<line x1="823" y1="1063.5" x2="841.4" y2="1063.5" stroke="#724E9B" stroke-width="4.2" />
<line x1="823" y1="1042.1" x2="841.4" y2="1042.1" stroke="#724E9B" stroke-width="4.2" />
<line x1="878.7" y1="1047" x2="878.7" y2="1010" stroke="#724E9B" stroke-width="4.2" />
<line x1="869.5" y1="1047" x2="887.9" y2="1047" stroke="#724E9B" stroke-width="4.2" />
<line x1="869.5" y1="1010" x2="887.9" y2="1010" stroke="#724E9B" stroke-width="4.2" />
<line x1="925.1" y1="1052.4" x2="925.1" y2="1036.7" stroke="#724E9B" stroke-width="4.2" />
<line x1="915.9" y1="1052.4" x2="934.3" y2="1052.4" stroke="#724E9B" stroke-width="4.2" />
<line x1="915.9" y1="1036.7" x2="934.3" y2="1036.7" stroke="#724E9B" stroke-width="4.2" />
<line x1="971.6" y1="1065.6" x2="971.6" y2="1042.1" stroke="#724E9B" stroke-width="4.2" />
<line x1="962.4" y1="1065.6" x2="980.8" y2="1065.6" stroke="#724E9B" stroke-width="4.2" />
<line x1="962.4" y1="1042.1" x2="980.8" y2="1042.1" stroke="#724E9B" stroke-width="4.2" />
<line x1="1018" y1="1057.3" x2="1018" y2="1035.3" stroke="#724E9B" stroke-width="4.2" />
<line x1="1008.8" y1="1057.3" x2="1027.2" y2="1057.3" stroke="#724E9B" stroke-width="4.2" />
<line x1="1008.8" y1="1035.3" x2="1027.2" y2="1035.3" stroke="#724E9B" stroke-width="4.2" />
<line x1="1064.5" y1="1065.4" x2="1064.5" y2="1036.1" stroke="#724E9B" stroke-width="4.2" />
<line x1="1055.3" y1="1065.4" x2="1073.7" y2="1065.4" stroke="#724E9B" stroke-width="4.2" />
<line x1="1055.3" y1="1036.1" x2="1073.7" y2="1036.1" stroke="#724E9B" stroke-width="4.2" />
<line x1="1111" y1="1044.2" x2="1111" y2="1014.1" stroke="#724E9B" stroke-width="4.2" />
<line x1="1101.8" y1="1044.2" x2="1120.2" y2="1044.2" stroke="#724E9B" stroke-width="4.2" />
<line x1="1101.8" y1="1014.1" x2="1120.2" y2="1014.1" stroke="#724E9B" stroke-width="4.2" />
<line x1="1157.4" y1="1047" x2="1157.4" y2="1017.3" stroke="#724E9B" stroke-width="4.2" />
<line x1="1148.2" y1="1047" x2="1166.6" y2="1047" stroke="#724E9B" stroke-width="4.2" />
<line x1="1148.2" y1="1017.3" x2="1166.6" y2="1017.3" stroke="#724E9B" stroke-width="4.2" />
<line x1="1203.9" y1="1034.5" x2="1203.9" y2="996" stroke="#724E9B" stroke-width="4.2" />
<line x1="1194.7" y1="1034.5" x2="1213.1" y2="1034.5" stroke="#724E9B" stroke-width="4.2" />
<line x1="1194.7" y1="996" x2="1213.1" y2="996" stroke="#724E9B" stroke-width="4.2" />
<line x1="1250.3" y1="1049.3" x2="1250.3" y2="1020.2" stroke="#724E9B" stroke-width="4.2" />
<line x1="1241.1" y1="1049.3" x2="1259.5" y2="1049.3" stroke="#724E9B" stroke-width="4.2" />
<line x1="1241.1" y1="1020.2" x2="1259.5" y2="1020.2" stroke="#724E9B" stroke-width="4.2" />
<polyline points="832.2,1048.5 878.7,1045.3 925.1,1038.2 971.6,1034.6 1018,1021.6 1064.5,1035.5 1111,1045.1 1157.4,1037.7 1203.9,1030.3 1250.3,1049.3" fill="none" stroke="#D8842F" stroke-width="4.2" stroke-linejoin="round" stroke-dasharray="12.5 4.5"/>
<line x1="832.2" y1="1059.5" x2="832.2" y2="1038.2" stroke="#D8842F" stroke-width="4.2" />
<line x1="823" y1="1059.5" x2="841.4" y2="1059.5" stroke="#D8842F" stroke-width="4.2" />
<line x1="823" y1="1038.2" x2="841.4" y2="1038.2" stroke="#D8842F" stroke-width="4.2" />
<line x1="878.7" y1="1057.1" x2="878.7" y2="1034.6" stroke="#D8842F" stroke-width="4.2" />
<line x1="869.5" y1="1057.1" x2="887.9" y2="1057.1" stroke="#D8842F" stroke-width="4.2" />
<line x1="869.5" y1="1034.6" x2="887.9" y2="1034.6" stroke="#D8842F" stroke-width="4.2" />
<line x1="925.1" y1="1048.5" x2="925.1" y2="1023.9" stroke="#D8842F" stroke-width="4.2" />
<line x1="915.9" y1="1048.5" x2="934.3" y2="1048.5" stroke="#D8842F" stroke-width="4.2" />
<line x1="915.9" y1="1023.9" x2="934.3" y2="1023.9" stroke="#D8842F" stroke-width="4.2" />
<line x1="971.6" y1="1046.4" x2="971.6" y2="1021.8" stroke="#D8842F" stroke-width="4.2" />
<line x1="962.4" y1="1046.4" x2="980.8" y2="1046.4" stroke="#D8842F" stroke-width="4.2" />
<line x1="962.4" y1="1021.8" x2="980.8" y2="1021.8" stroke="#D8842F" stroke-width="4.2" />
<line x1="1018" y1="1036.6" x2="1018" y2="1006.7" stroke="#D8842F" stroke-width="4.2" />
<line x1="1008.8" y1="1036.6" x2="1027.2" y2="1036.6" stroke="#D8842F" stroke-width="4.2" />
<line x1="1008.8" y1="1006.7" x2="1027.2" y2="1006.7" stroke="#D8842F" stroke-width="4.2" />
<line x1="1064.5" y1="1049.3" x2="1064.5" y2="1022.7" stroke="#D8842F" stroke-width="4.2" />
<line x1="1055.3" y1="1049.3" x2="1073.7" y2="1049.3" stroke="#D8842F" stroke-width="4.2" />
<line x1="1055.3" y1="1022.7" x2="1073.7" y2="1022.7" stroke="#D8842F" stroke-width="4.2" />
<line x1="1111" y1="1056.9" x2="1111" y2="1035.5" stroke="#D8842F" stroke-width="4.2" />
<line x1="1101.8" y1="1056.9" x2="1120.2" y2="1056.9" stroke="#D8842F" stroke-width="4.2" />
<line x1="1101.8" y1="1035.5" x2="1120.2" y2="1035.5" stroke="#D8842F" stroke-width="4.2" />
<line x1="1157.4" y1="1050.5" x2="1157.4" y2="1025.9" stroke="#D8842F" stroke-width="4.2" />
<line x1="1148.2" y1="1050.5" x2="1166.6" y2="1050.5" stroke="#D8842F" stroke-width="4.2" />
<line x1="1148.2" y1="1025.9" x2="1166.6" y2="1025.9" stroke="#D8842F" stroke-width="4.2" />
<line x1="1203.9" y1="1044.1" x2="1203.9" y2="1018.3" stroke="#D8842F" stroke-width="4.2" />
<line x1="1194.7" y1="1044.1" x2="1213.1" y2="1044.1" stroke="#D8842F" stroke-width="4.2" />
<line x1="1194.7" y1="1018.3" x2="1213.1" y2="1018.3" stroke="#D8842F" stroke-width="4.2" />
<line x1="1250.3" y1="1062.2" x2="1250.3" y2="1038.7" stroke="#D8842F" stroke-width="4.2" />
<line x1="1241.1" y1="1062.2" x2="1259.5" y2="1062.2" stroke="#D8842F" stroke-width="4.2" />
<line x1="1241.1" y1="1038.7" x2="1259.5" y2="1038.7" stroke="#D8842F" stroke-width="4.2" />
<rect x="818.5" y="932.4" width="445.5" height="136.4" fill="none" stroke="#262626" stroke-width="4.4"/>
<line x1="832.2" y1="1068.8" x2="832.2" y2="1062.3" stroke="#262626" stroke-width="4" />
<line x1="832.2" y1="932.4" x2="832.2" y2="938.9" stroke="#262626" stroke-width="4" />
<line x1="878.7" y1="1068.8" x2="878.7" y2="1062.3" stroke="#262626" stroke-width="4" />
<line x1="878.7" y1="932.4" x2="878.7" y2="938.9" stroke="#262626" stroke-width="4" />
<line x1="925.1" y1="1068.8" x2="925.1" y2="1062.3" stroke="#262626" stroke-width="4" />
<line x1="925.1" y1="932.4" x2="925.1" y2="938.9" stroke="#262626" stroke-width="4" />
<line x1="971.6" y1="1068.8" x2="971.6" y2="1062.3" stroke="#262626" stroke-width="4" />
<line x1="971.6" y1="932.4" x2="971.6" y2="938.9" stroke="#262626" stroke-width="4" />
<line x1="1018" y1="1068.8" x2="1018" y2="1062.3" stroke="#262626" stroke-width="4" />
<line x1="1018" y1="932.4" x2="1018" y2="938.9" stroke="#262626" stroke-width="4" />
<line x1="1064.5" y1="1068.8" x2="1064.5" y2="1062.3" stroke="#262626" stroke-width="4" />
<line x1="1064.5" y1="932.4" x2="1064.5" y2="938.9" stroke="#262626" stroke-width="4" />
<line x1="1111" y1="1068.8" x2="1111" y2="1062.3" stroke="#262626" stroke-width="4" />
<line x1="1111" y1="932.4" x2="1111" y2="938.9" stroke="#262626" stroke-width="4" />
<line x1="1157.4" y1="1068.8" x2="1157.4" y2="1062.3" stroke="#262626" stroke-width="4" />
<line x1="1157.4" y1="932.4" x2="1157.4" y2="938.9" stroke="#262626" stroke-width="4" />
<line x1="1203.9" y1="1068.8" x2="1203.9" y2="1062.3" stroke="#262626" stroke-width="4" />
<line x1="1203.9" y1="932.4" x2="1203.9" y2="938.9" stroke="#262626" stroke-width="4" />
<line x1="1250.3" y1="1068.8" x2="1250.3" y2="1062.3" stroke="#262626" stroke-width="4" />
<line x1="1250.3" y1="932.4" x2="1250.3" y2="938.9" stroke="#262626" stroke-width="4" />
<line x1="818.5" y1="1068.8" x2="825" y2="1068.8" stroke="#262626" stroke-width="4" />
<line x1="1264" y1="1068.8" x2="1257.5" y2="1068.8" stroke="#262626" stroke-width="4" />
<line x1="818.5" y1="1014.2" x2="825" y2="1014.2" stroke="#262626" stroke-width="4" />
<line x1="1264" y1="1014.2" x2="1257.5" y2="1014.2" stroke="#262626" stroke-width="4" />
<line x1="818.5" y1="959.7" x2="825" y2="959.7" stroke="#262626" stroke-width="4" />
<line x1="1264" y1="959.7" x2="1257.5" y2="959.7" stroke="#262626" stroke-width="4" />
<path d="M848.43 175.81 L848.43 197.82 L845.55 197.82 L845.55 182.48 L840.37 182.48 L840.37 180.93 L843.56 179.91 L845.17 178.60 L846.26 176.75 L846.72 175.81Z" fill="#262626"/>
<path d="M836.23 1081.12 L836.23 1103.12 L833.35 1103.12 L833.35 1087.78 L828.17 1087.78 L828.17 1086.23 L831.36 1085.21 L832.98 1083.90 L834.06 1082.05 L834.52 1081.12Z" fill="#262626"/>
<text x="882.27" y="197.95" font-size="31" fill="#262626">2</text>
<text x="870.04" y="1103.25" font-size="31" fill="#262626">2</text>
<text x="928.77" y="197.82" font-size="31" fill="#262626">3</text>
<text x="916.50" y="1103.12" font-size="31" fill="#262626">3</text>
<text x="975.40" y="197.82" font-size="31" fill="#262626">4</text>
<text x="963.08" y="1103.12" font-size="31" fill="#262626">4</text>
<text x="1021.78" y="197.70" font-size="31" fill="#262626">5</text>
<text x="1009.42" y="1103.00" font-size="31" fill="#262626">5</text>
<text x="1068.28" y="197.82" font-size="31" fill="#262626">6</text>
<text x="1055.88" y="1103.12" font-size="31" fill="#262626">6</text>
<text x="1114.78" y="197.82" font-size="31" fill="#262626">7</text>
<text x="1102.34" y="1103.12" font-size="31" fill="#262626">7</text>
<text x="1161.28" y="197.82" font-size="31" fill="#262626">8</text>
<text x="1148.80" y="1103.12" font-size="31" fill="#262626">8</text>
<text x="1207.78" y="197.82" font-size="31" fill="#262626">9</text>
<text x="1195.26" y="1103.12" font-size="31" fill="#262626">9</text>
<path d="M1255.57 175.81 L1255.57 197.82 L1252.68 197.82 L1252.68 182.48 L1247.51 182.48 L1247.51 180.93 L1250.70 179.91 L1252.31 178.60 L1253.40 176.75 L1253.86 175.81Z" fill="#262626"/><text x="1262.39" y="197.82" font-size="31" fill="#262626">0</text>
<path d="M1243.01 1081.12 L1243.01 1103.12 L1240.12 1103.12 L1240.12 1087.78 L1234.95 1087.78 L1234.95 1086.23 L1238.14 1085.21 L1239.75 1083.90 L1240.84 1082.05 L1241.30 1081.12Z" fill="#262626"/><text x="1249.83" y="1103.12" font-size="31" fill="#262626">0</text>
<text x="806.58" y="175.72" font-size="31" fill="#262626">0</text>
<text x="793.95" y="96.83" font-size="31" fill="#262626">.4</text>
<text x="793.88" y="1080.53" font-size="31" fill="#262626">0</text>
<text x="780.30" y="1028.62" font-size="31" fill="#262626">.</text><path d="M799.33 1006.62 L799.33 1028.62 L796.45 1028.62 L796.45 1013.28 L791.27 1013.28 L791.27 1011.73 L794.46 1010.71 L796.07 1009.40 L797.16 1007.54 L797.62 1006.62Z" fill="#262626"/>
<text x="781.40" y="971.75" font-size="31" fill="#262626">.2</text>
<text x="961.38" y="229.65" font-size="34" fill="#262626">Site number</text>
<text x="948.38" y="1132.75" font-size="34" fill="#262626">Site number</text>
<text x="790.90" y="33.02" font-size="34" fill="#262626">n</text>
<rect x="792.7" y="9.2" width="15.2" height="2.3" fill="#000"/>
<text x="777.70" y="932.42" font-size="34" fill="#262626">n</text>
<rect x="779.1" y="908.2" width="15.7" height="2.5" fill="#000"/>
</svg>
</body></html>
